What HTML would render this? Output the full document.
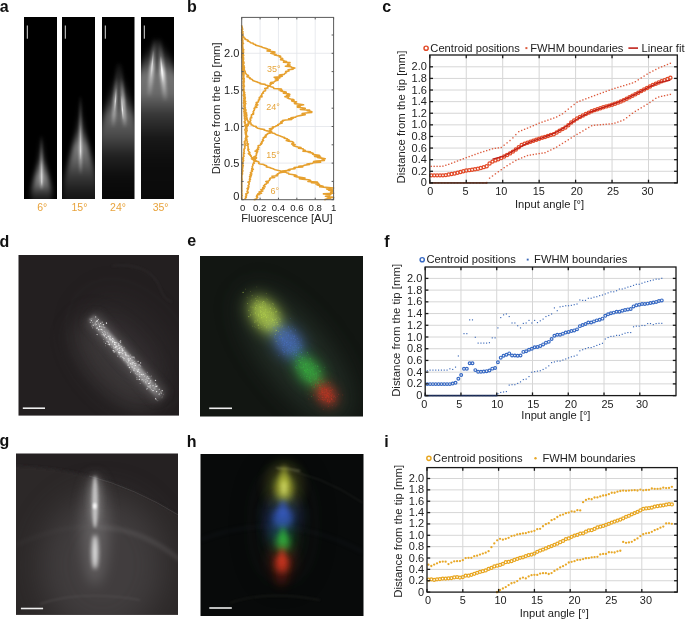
<!DOCTYPE html>
<html><head><meta charset="utf-8"><title>Figure</title>
<style>html,body{margin:0;padding:0;background:#fff;} svg{display:block;}</style></head>
<body><svg width="685" height="620" viewBox="0 0 685 620">
<defs><filter id="b0_6" filterUnits="userSpaceOnUse" x="0" y="0" width="685" height="620"><feGaussianBlur stdDeviation="0.6"/></filter><filter id="b1" filterUnits="userSpaceOnUse" x="0" y="0" width="685" height="620"><feGaussianBlur stdDeviation="1"/></filter><filter id="b1_5" filterUnits="userSpaceOnUse" x="0" y="0" width="685" height="620"><feGaussianBlur stdDeviation="1.5"/></filter><filter id="b2" filterUnits="userSpaceOnUse" x="0" y="0" width="685" height="620"><feGaussianBlur stdDeviation="2"/></filter><filter id="b2_5" filterUnits="userSpaceOnUse" x="0" y="0" width="685" height="620"><feGaussianBlur stdDeviation="2.5"/></filter><filter id="b3" filterUnits="userSpaceOnUse" x="0" y="0" width="685" height="620"><feGaussianBlur stdDeviation="3"/></filter><filter id="b4" filterUnits="userSpaceOnUse" x="0" y="0" width="685" height="620"><feGaussianBlur stdDeviation="4"/></filter><filter id="b5" filterUnits="userSpaceOnUse" x="0" y="0" width="685" height="620"><feGaussianBlur stdDeviation="5"/></filter><filter id="b6" filterUnits="userSpaceOnUse" x="0" y="0" width="685" height="620"><feGaussianBlur stdDeviation="6"/></filter><filter id="b8" filterUnits="userSpaceOnUse" x="0" y="0" width="685" height="620"><feGaussianBlur stdDeviation="8"/></filter><filter id="b10" filterUnits="userSpaceOnUse" x="0" y="0" width="685" height="620"><feGaussianBlur stdDeviation="10"/></filter><filter id="b12" filterUnits="userSpaceOnUse" x="0" y="0" width="685" height="620"><feGaussianBlur stdDeviation="12"/></filter><filter id="b14" filterUnits="userSpaceOnUse" x="0" y="0" width="685" height="620"><feGaussianBlur stdDeviation="14"/></filter><filter id="b16" filterUnits="userSpaceOnUse" x="0" y="0" width="685" height="620"><feGaussianBlur stdDeviation="16"/></filter><filter id="b20" filterUnits="userSpaceOnUse" x="0" y="0" width="685" height="620"><feGaussianBlur stdDeviation="20"/></filter><clipPath id="ca0"><rect x="24" y="17" width="33" height="182"/></clipPath><clipPath id="ca1"><rect x="62" y="17" width="33" height="182"/></clipPath><clipPath id="ca2"><rect x="102" y="17" width="32.5" height="182"/></clipPath><clipPath id="ca3"><rect x="141" y="17" width="33" height="182"/></clipPath><linearGradient id="gh0" gradientUnits="userSpaceOnUse" x1="0" y1="132" x2="0" y2="199"><stop offset="0" stop-color="#fff" stop-opacity="0"/><stop offset="0.3" stop-color="#fff" stop-opacity="0.2"/><stop offset="0.5" stop-color="#fff" stop-opacity="0.42"/><stop offset="0.68" stop-color="#fff" stop-opacity="0.55"/><stop offset="0.8" stop-color="#fff" stop-opacity="0.42"/><stop offset="0.9" stop-color="#fff" stop-opacity="0.22"/><stop offset="1" stop-color="#fff" stop-opacity="0.1"/></linearGradient><linearGradient id="garm0_0" gradientUnits="userSpaceOnUse" x1="41.4" y1="135" x2="41.6" y2="190"><stop offset="0" stop-color="#fff" stop-opacity="0"/><stop offset="0.3" stop-color="#fff" stop-opacity="0.25"/><stop offset="0.55" stop-color="#fff" stop-opacity="0.45"/><stop offset="0.75" stop-color="#fff" stop-opacity="0.55"/><stop offset="0.92" stop-color="#fff" stop-opacity="0.35"/><stop offset="1" stop-color="#fff" stop-opacity="0"/></linearGradient><filter id="b1_2" filterUnits="userSpaceOnUse" x="0" y="0" width="685" height="620"><feGaussianBlur stdDeviation="1.2"/></filter><linearGradient id="garm0_1" gradientUnits="userSpaceOnUse" x1="41.6" y1="160" x2="41.8" y2="186"><stop offset="0" stop-color="#fff" stop-opacity="0"/><stop offset="0.5" stop-color="#fff" stop-opacity="0.35"/><stop offset="0.85" stop-color="#fff" stop-opacity="0.5"/><stop offset="1" stop-color="#fff" stop-opacity="0"/></linearGradient><linearGradient id="gh1" gradientUnits="userSpaceOnUse" x1="0" y1="95" x2="0" y2="199"><stop offset="0" stop-color="#fff" stop-opacity="0"/><stop offset="0.2" stop-color="#fff" stop-opacity="0.08"/><stop offset="0.35" stop-color="#fff" stop-opacity="0.3"/><stop offset="0.5" stop-color="#fff" stop-opacity="0.5"/><stop offset="0.62" stop-color="#fff" stop-opacity="0.4"/><stop offset="0.78" stop-color="#fff" stop-opacity="0.22"/><stop offset="0.9" stop-color="#fff" stop-opacity="0.13"/><stop offset="1" stop-color="#fff" stop-opacity="0.08"/></linearGradient><linearGradient id="garm1_0" gradientUnits="userSpaceOnUse" x1="80.4" y1="95" x2="80.6" y2="175"><stop offset="0" stop-color="#fff" stop-opacity="0"/><stop offset="0.35" stop-color="#fff" stop-opacity="0.3"/><stop offset="0.6" stop-color="#fff" stop-opacity="0.5"/><stop offset="0.72" stop-color="#fff" stop-opacity="0.55"/><stop offset="0.85" stop-color="#fff" stop-opacity="0.3"/><stop offset="1" stop-color="#fff" stop-opacity="0"/></linearGradient><linearGradient id="garm1_1" gradientUnits="userSpaceOnUse" x1="80.4" y1="125" x2="80.6" y2="160"><stop offset="0" stop-color="#fff" stop-opacity="0"/><stop offset="0.55" stop-color="#fff" stop-opacity="0.4"/><stop offset="0.75" stop-color="#fff" stop-opacity="0.5"/><stop offset="1" stop-color="#fff" stop-opacity="0"/></linearGradient><linearGradient id="gh2" gradientUnits="userSpaceOnUse" x1="0" y1="55" x2="0" y2="199"><stop offset="0" stop-color="#fff" stop-opacity="0"/><stop offset="0.15" stop-color="#fff" stop-opacity="0.03"/><stop offset="0.3" stop-color="#fff" stop-opacity="0.22"/><stop offset="0.42" stop-color="#fff" stop-opacity="0.4"/><stop offset="0.55" stop-color="#fff" stop-opacity="0.3"/><stop offset="0.7" stop-color="#fff" stop-opacity="0.13"/><stop offset="0.85" stop-color="#fff" stop-opacity="0.05"/><stop offset="1" stop-color="#fff" stop-opacity="0.03"/></linearGradient><linearGradient id="garm2_0" gradientUnits="userSpaceOnUse" x1="118" y1="62" x2="113" y2="128"><stop offset="0" stop-color="#fff" stop-opacity="0"/><stop offset="0.25" stop-color="#fff" stop-opacity="0.15"/><stop offset="0.55" stop-color="#fff" stop-opacity="0.6"/><stop offset="0.8" stop-color="#fff" stop-opacity="0.45"/><stop offset="1" stop-color="#fff" stop-opacity="0"/></linearGradient><filter id="b1_4" filterUnits="userSpaceOnUse" x="0" y="0" width="685" height="620"><feGaussianBlur stdDeviation="1.4"/></filter><linearGradient id="garm2_1" gradientUnits="userSpaceOnUse" x1="120" y1="62" x2="125" y2="128"><stop offset="0" stop-color="#fff" stop-opacity="0"/><stop offset="0.25" stop-color="#fff" stop-opacity="0.15"/><stop offset="0.6" stop-color="#fff" stop-opacity="0.75"/><stop offset="0.85" stop-color="#fff" stop-opacity="0.45"/><stop offset="1" stop-color="#fff" stop-opacity="0"/></linearGradient><linearGradient id="garm2_2" gradientUnits="userSpaceOnUse" x1="121.3" y1="95" x2="123.2" y2="120"><stop offset="0" stop-color="#fff" stop-opacity="0"/><stop offset="0.6" stop-color="#fff" stop-opacity="0.8"/><stop offset="1" stop-color="#fff" stop-opacity="0"/></linearGradient><linearGradient id="garm2_3" gradientUnits="userSpaceOnUse" x1="116.3" y1="88" x2="114.6" y2="112"><stop offset="0" stop-color="#fff" stop-opacity="0"/><stop offset="0.55" stop-color="#fff" stop-opacity="0.6"/><stop offset="1" stop-color="#fff" stop-opacity="0"/></linearGradient><linearGradient id="gh3" gradientUnits="userSpaceOnUse" x1="0" y1="22" x2="0" y2="199"><stop offset="0" stop-color="#fff" stop-opacity="0"/><stop offset="0.1" stop-color="#fff" stop-opacity="0.02"/><stop offset="0.2" stop-color="#fff" stop-opacity="0.18"/><stop offset="0.3" stop-color="#fff" stop-opacity="0.45"/><stop offset="0.4" stop-color="#fff" stop-opacity="0.42"/><stop offset="0.52" stop-color="#fff" stop-opacity="0.22"/><stop offset="0.66" stop-color="#fff" stop-opacity="0.09"/><stop offset="0.8" stop-color="#fff" stop-opacity="0.05"/><stop offset="1" stop-color="#fff" stop-opacity="0.04"/></linearGradient><linearGradient id="garm3_0" gradientUnits="userSpaceOnUse" x1="155" y1="38" x2="149" y2="98"><stop offset="0" stop-color="#fff" stop-opacity="0"/><stop offset="0.3" stop-color="#fff" stop-opacity="0.35"/><stop offset="0.5" stop-color="#fff" stop-opacity="0.7"/><stop offset="0.72" stop-color="#fff" stop-opacity="0.4"/><stop offset="1" stop-color="#fff" stop-opacity="0"/></linearGradient><linearGradient id="garm3_1" gradientUnits="userSpaceOnUse" x1="159" y1="38" x2="165.5" y2="102"><stop offset="0" stop-color="#fff" stop-opacity="0"/><stop offset="0.3" stop-color="#fff" stop-opacity="0.3"/><stop offset="0.55" stop-color="#fff" stop-opacity="0.9"/><stop offset="0.75" stop-color="#fff" stop-opacity="0.45"/><stop offset="1" stop-color="#fff" stop-opacity="0"/></linearGradient><linearGradient id="garm3_2" gradientUnits="userSpaceOnUse" x1="160.6" y1="56" x2="163" y2="82"><stop offset="0" stop-color="#fff" stop-opacity="0"/><stop offset="0.55" stop-color="#fff" stop-opacity="0.9"/><stop offset="1" stop-color="#fff" stop-opacity="0"/></linearGradient><linearGradient id="garm3_3" gradientUnits="userSpaceOnUse" x1="153.5" y1="50" x2="151" y2="78"><stop offset="0" stop-color="#fff" stop-opacity="0"/><stop offset="0.5" stop-color="#fff" stop-opacity="0.6"/><stop offset="1" stop-color="#fff" stop-opacity="0"/></linearGradient><filter id="b0_8" filterUnits="userSpaceOnUse" x="0" y="0" width="685" height="620"><feGaussianBlur stdDeviation="0.8"/></filter><linearGradient id="dstreak" gradientUnits="userSpaceOnUse" x1="91" y1="317" x2="162" y2="398"><stop offset="0" stop-color="#fff" stop-opacity="0.3"/><stop offset="0.3" stop-color="#fff" stop-opacity="0.8"/><stop offset="0.6" stop-color="#fff" stop-opacity="0.85"/><stop offset="0.88" stop-color="#fff" stop-opacity="0.55"/><stop offset="1" stop-color="#fff" stop-opacity="0.1"/></linearGradient><clipPath id="cpd"><rect x="18.5" y="255" width="160.5" height="160.60000000000002"/></clipPath><clipPath id="cpe"><rect x="200" y="256" width="163" height="160.5"/></clipPath><filter id="b7" filterUnits="userSpaceOnUse" x="0" y="0" width="685" height="620"><feGaussianBlur stdDeviation="7"/></filter><filter id="b1_8" filterUnits="userSpaceOnUse" x="0" y="0" width="685" height="620"><feGaussianBlur stdDeviation="1.8"/></filter><clipPath id="cpg"><rect x="16" y="453.5" width="162" height="161.20000000000005"/></clipPath><clipPath id="cph"><rect x="200.5" y="454" width="163.0" height="162"/></clipPath></defs>
<rect width="685" height="620" fill="#fff"/>
<rect x="24" y="17" width="33" height="182" fill="#000"/>
<rect x="62" y="17" width="33" height="182" fill="#000"/>
<rect x="102" y="17" width="32.5" height="182" fill="#000"/>
<rect x="141" y="17" width="33" height="182" fill="#000"/>
<g clip-path="url(#ca0)"><polygon points="41.5,132 44,160 52,192 52,205 31,205 31,192 39,160" fill="url(#gh0)" filter="url(#b2_5)"/><path d="M41.4,135 L41.6,190" stroke="url(#garm0_0)" stroke-width="2.6" fill="none" stroke-linecap="round" filter="url(#b1_2)"/><path d="M41.6,160 L41.8,186" stroke="url(#garm0_1)" stroke-width="1.2" fill="none" stroke-linecap="round" filter="url(#b0_6)"/></g>
<g clip-path="url(#ca1)"><polygon points="80.5,95 84,130 97,180 100,205 61,205 64,180 77,130" fill="url(#gh1)" filter="url(#b2_5)"/><path d="M80.4,95 L80.6,175" stroke="url(#garm1_0)" stroke-width="3" fill="none" stroke-linecap="round" filter="url(#b1_2)"/><path d="M80.4,125 L80.6,160" stroke="url(#garm1_1)" stroke-width="1.3" fill="none" stroke-linecap="round" filter="url(#b0_6)"/></g>
<g clip-path="url(#ca2)"><polygon points="119,62 128,95 140,135 145,215 93,215 98,135 110,95" fill="url(#gh2)" filter="url(#b3)"/><path d="M118,62 L113,128" stroke="url(#garm2_0)" stroke-width="3.5" fill="none" stroke-linecap="round" filter="url(#b1_4)"/><path d="M120,62 L125,128" stroke="url(#garm2_1)" stroke-width="3.5" fill="none" stroke-linecap="round" filter="url(#b1_4)"/><path d="M121.3,95 L123.2,120" stroke="url(#garm2_2)" stroke-width="1.4" fill="none" stroke-linecap="round" filter="url(#b0_6)"/><path d="M116.3,88 L114.6,112" stroke="url(#garm2_3)" stroke-width="1.3" fill="none" stroke-linecap="round" filter="url(#b0_6)"/></g>
<g clip-path="url(#ca3)"><polygon points="157,36 170,58 182,85 185,215 130,215 133,85 144,58" fill="url(#gh3)" filter="url(#b3)"/><path d="M155,38 L149,98" stroke="url(#garm3_0)" stroke-width="4.5" fill="none" stroke-linecap="round" filter="url(#b1_5)"/><path d="M159,38 L165.5,102" stroke="url(#garm3_1)" stroke-width="4.5" fill="none" stroke-linecap="round" filter="url(#b1_5)"/><path d="M160.6,56 L163,82" stroke="url(#garm3_2)" stroke-width="1.5" fill="none" stroke-linecap="round" filter="url(#b0_6)"/><path d="M153.5,50 L151,78" stroke="url(#garm3_3)" stroke-width="1.3" fill="none" stroke-linecap="round" filter="url(#b0_6)"/></g>
<line x1="27.3" y1="25.5" x2="27.3" y2="38.7" stroke="#ddd" stroke-width="1"/>
<line x1="65.3" y1="25.5" x2="65.3" y2="38.7" stroke="#ddd" stroke-width="1"/>
<line x1="105.3" y1="25.5" x2="105.3" y2="38.7" stroke="#ddd" stroke-width="1"/>
<line x1="144.3" y1="25.5" x2="144.3" y2="38.7" stroke="#ddd" stroke-width="1"/>
<text x="42.3" y="210.5" text-anchor="middle" style="font-family:'Liberation Sans',Arial,sans-serif;font-size:10.5px" fill="#e8a33c">6°</text>
<text x="79.4" y="210.5" text-anchor="middle" style="font-family:'Liberation Sans',Arial,sans-serif;font-size:10.5px" fill="#e8a33c">15°</text>
<text x="118" y="210.5" text-anchor="middle" style="font-family:'Liberation Sans',Arial,sans-serif;font-size:10.5px" fill="#e8a33c">24°</text>
<text x="160.6" y="210.5" text-anchor="middle" style="font-family:'Liberation Sans',Arial,sans-serif;font-size:10.5px" fill="#e8a33c">35°</text>
<text x="-0.3" y="11.7" style="font-family:'Liberation Sans',Arial,sans-serif;font-weight:bold;font-size:16px" fill="#111">a</text>
<rect x="241.7" y="17.4" width="91.90000000000003" height="182.29999999999998" fill="#fff"/>
<line x1="260.08" y1="17.4" x2="260.08" y2="199.7" stroke="#e2e4ea" stroke-width="0.8"/>
<line x1="278.46" y1="17.4" x2="278.46" y2="199.7" stroke="#e2e4ea" stroke-width="0.8"/>
<line x1="296.84" y1="17.4" x2="296.84" y2="199.7" stroke="#e2e4ea" stroke-width="0.8"/>
<line x1="315.22" y1="17.4" x2="315.22" y2="199.7" stroke="#e2e4ea" stroke-width="0.8"/>
<line x1="241.7" y1="163.10" x2="333.6" y2="163.10" stroke="#e2e4ea" stroke-width="0.8"/>
<line x1="241.7" y1="126.50" x2="333.6" y2="126.50" stroke="#e2e4ea" stroke-width="0.8"/>
<line x1="241.7" y1="89.90" x2="333.6" y2="89.90" stroke="#e2e4ea" stroke-width="0.8"/>
<line x1="241.7" y1="53.30" x2="333.6" y2="53.30" stroke="#e2e4ea" stroke-width="0.8"/>
<polyline points="241.70,199.70 241.81,199.11 241.70,198.53 241.70,197.94 241.70,197.36 241.70,196.77 241.72,196.19 242.19,195.60 241.70,195.02 241.70,194.43 241.88,193.84 241.83,193.26 241.74,192.67 241.70,192.09 241.70,191.50 241.96,190.92 241.70,190.33 241.70,189.74 241.70,189.16 241.70,188.57 241.70,187.99 241.70,187.40 241.70,186.82 241.80,186.23 241.76,185.65 241.70,185.06 241.70,184.47 241.70,183.89 241.70,183.30 241.74,182.72 241.70,182.13 241.70,181.55 241.70,180.96 241.70,180.38 242.09,179.79 241.70,179.20 241.70,178.62 242.03,178.03 241.70,177.45 241.73,176.86 241.86,176.28 241.91,175.69 241.70,175.10 242.00,174.52 242.53,173.93 241.70,173.35 242.44,172.76 242.21,172.18 241.97,171.59 242.99,171.01 242.61,170.42 241.90,169.83 242.44,169.25 242.68,168.66 242.43,168.08 242.83,167.49 242.58,166.91 242.92,166.32 243.28,165.74 242.48,165.15 242.88,164.56 242.67,163.98 242.95,163.39 242.47,162.81 242.76,162.22 242.97,161.64 243.46,161.05 243.62,160.46 242.65,159.88 242.92,159.29 243.56,158.71 242.51,158.12 243.20,157.54 243.40,156.95 244.02,156.37 243.83,155.78 243.47,155.19 243.55,154.61 243.65,154.02 244.49,153.44 243.61,152.85 243.85,152.27 244.21,151.68 244.07,151.10 244.11,150.51 243.78,149.92 244.34,149.34 244.22,148.75 245.02,148.17 244.86,147.58 244.63,147.00 245.02,146.41 244.63,145.82 245.35,145.24 244.93,144.65 245.28,144.07 244.48,143.48 245.32,142.90 244.43,142.31 244.33,141.73 245.23,141.14 245.15,140.55 245.60,139.97 246.68,139.38 245.27,138.80 245.44,138.21 245.92,137.63 246.13,137.04 245.88,136.46 245.94,135.87 246.46,135.28 246.45,134.70 245.74,134.11 246.29,133.53 246.42,132.94 245.94,132.36 246.69,131.77 246.18,131.18 247.20,130.60 247.05,130.01 246.89,129.43 246.78,128.84 246.93,128.26 246.01,127.67 246.54,127.09 247.41,126.50 246.32,125.91 248.19,125.33 246.78,124.74 248.67,124.16 248.01,123.57 249.20,122.99 248.24,122.40 248.35,121.82 250.27,121.23 250.66,120.64 250.82,120.06 250.12,119.47 250.44,118.89 250.18,118.30 251.77,117.72 250.96,117.13 251.54,116.54 251.29,115.96 251.66,115.37 251.46,114.79 253.47,114.20 252.74,113.62 253.79,113.03 253.37,112.45 253.12,111.86 253.64,111.27 253.72,110.69 254.39,110.10 254.36,109.52 254.67,108.93 254.09,108.35 254.78,107.76 256.97,107.18 255.39,106.59 255.34,106.00 256.71,105.42 257.84,104.83 255.75,104.25 257.03,103.66 256.93,103.08 256.22,102.49 258.35,101.90 258.32,101.32 258.72,100.73 258.31,100.15 259.70,99.56 259.13,98.98 259.80,98.39 259.23,97.81 259.43,97.22 262.15,96.63 260.72,96.05 261.81,95.46 261.81,94.88 261.73,94.29 261.98,93.71 263.43,93.12 262.81,92.54 263.28,91.95 263.78,91.36 265.50,90.78 265.51,90.19 265.71,89.61 265.20,89.02 264.80,88.44 267.91,87.85 267.60,87.26 267.71,86.68 269.02,86.09 269.83,85.51 270.41,84.92 271.05,84.34 270.02,83.75 273.29,83.17 270.58,82.58 274.10,81.99 274.43,81.41 275.75,80.82 277.95,80.24 278.24,79.65 275.33,79.07 275.31,78.48 279.76,77.90 274.11,77.31 280.13,76.72 282.24,76.14 279.16,75.55 279.46,74.97 283.99,74.38 284.60,73.80 285.07,73.21 286.50,72.62 285.90,72.04 285.67,71.45 289.00,70.87 288.49,70.28 288.17,69.70 293.12,69.11 293.01,68.53 294.87,67.94 291.33,67.35 291.13,66.77 285.39,66.18 289.02,65.60 290.15,65.01 287.54,64.43 288.71,63.84 287.87,63.26 290.02,62.67 283.46,62.08 286.56,61.50 284.19,60.91 283.58,60.33 280.55,59.74 281.41,59.16 282.67,58.57 280.75,57.98 280.37,57.40 279.18,56.81 280.70,56.23 278.32,55.64 274.54,55.06 276.11,54.47 273.59,53.89 270.84,53.30 273.55,52.71 274.96,52.13 272.22,51.54 267.03,50.96 268.91,50.37 270.35,49.79 268.14,49.20 266.47,48.62 264.62,48.03 262.88,47.44 261.76,46.86 259.65,46.27 257.78,45.69 255.47,45.10 255.42,44.52 253.24,43.93 253.21,43.34 250.46,42.76 250.18,42.17 249.23,41.59 247.46,41.00 248.30,40.42 246.88,39.83 245.05,39.25 245.22,38.66 244.62,38.07 242.89,37.49 243.73,36.90 243.17,36.32 242.84,35.73 242.32,35.15 242.58,34.56 242.56,33.98 243.04,33.39 242.64,32.80 242.45,32.22 242.98,31.63 242.12,31.05 242.12,30.46 241.70,29.88 242.75,29.29 242.46,28.70 242.38,28.12 242.23,27.53 241.96,26.95 241.94,26.36 241.71,25.78 241.70,25.19" fill="none" stroke="#e6a02e" stroke-width="1.6" stroke-linejoin="round"/>
<polyline points="245.43,199.70 245.44,199.11 245.08,198.53 245.75,197.94 246.32,197.36 245.53,196.77 246.07,196.19 246.61,195.60 245.85,195.02 246.62,194.43 245.93,193.84 247.37,193.26 248.12,192.67 248.11,192.09 247.05,191.50 247.69,190.92 247.49,190.33 247.61,189.74 248.21,189.16 247.08,188.57 248.52,187.99 248.03,187.40 248.98,186.82 248.42,186.23 248.06,185.65 248.73,185.06 249.13,184.47 248.85,183.89 249.24,183.30 248.78,182.72 247.95,182.13 249.88,181.55 249.89,180.96 249.68,180.38 249.40,179.79 250.49,179.20 249.70,178.62 249.67,178.03 250.12,177.45 250.94,176.86 249.53,176.28 251.38,175.69 251.08,175.10 250.17,174.52 251.82,173.93 251.07,173.35 250.41,172.76 251.03,172.18 252.13,171.59 252.43,171.01 251.48,170.42 252.17,169.83 253.38,169.25 251.71,168.66 252.52,168.08 252.39,167.49 252.16,166.91 252.32,166.32 252.86,165.74 253.00,165.15 252.74,164.56 252.92,163.98 254.28,163.39 253.80,162.81 253.58,162.22 254.87,161.64 254.58,161.05 256.01,160.46 253.86,159.88 255.26,159.29 254.57,158.71 256.41,158.12 256.46,157.54 253.80,156.95 254.73,156.37 256.17,155.78 256.44,155.19 256.57,154.61 256.10,154.02 256.69,153.44 257.02,152.85 256.59,152.27 257.67,151.68 255.12,151.10 257.68,150.51 256.46,149.92 258.46,149.34 257.77,148.75 257.52,148.17 258.94,147.58 258.13,147.00 258.44,146.41 258.16,145.82 259.87,145.24 260.68,144.65 261.49,144.07 260.73,143.48 262.18,142.90 261.52,142.31 261.74,141.73 262.71,141.14 263.52,140.55 262.45,139.97 262.87,139.38 263.27,138.80 263.77,138.21 263.32,137.63 265.86,137.04 264.85,136.46 266.30,135.87 265.39,135.28 266.47,134.70 267.76,134.11 267.34,133.53 270.69,132.94 269.28,132.36 271.48,131.77 271.03,131.18 269.56,130.60 270.41,130.01 271.94,129.43 269.38,128.84 272.84,128.26 273.40,127.67 272.32,127.09 275.47,126.50 275.84,125.91 278.33,125.33 277.72,124.74 278.72,124.16 280.46,123.57 282.23,122.99 280.51,122.40 280.96,121.82 283.04,121.23 282.36,120.64 285.69,120.06 291.78,119.47 288.56,118.89 293.28,118.30 290.98,117.72 295.78,117.13 296.10,116.54 298.07,115.96 301.07,115.37 305.23,114.79 304.07,114.20 302.12,113.62 305.76,113.03 311.67,112.45 311.85,111.86 310.11,111.27 307.21,110.69 309.61,110.10 300.36,109.52 303.39,108.93 305.21,108.35 301.70,107.76 297.41,107.18 300.31,106.59 297.17,106.00 299.55,105.42 303.56,104.83 300.06,104.25 294.68,103.66 294.39,103.08 294.54,102.49 296.51,101.90 292.17,101.32 291.70,100.73 294.10,100.15 293.46,99.56 290.56,98.98 288.61,98.39 287.26,97.81 288.23,97.22 284.92,96.63 289.64,96.05 286.62,95.46 287.97,94.88 289.75,94.29 287.95,93.71 283.44,93.12 286.23,92.54 286.10,91.95 282.39,91.36 280.39,90.78 282.26,90.19 278.67,89.61 281.39,89.02 273.79,88.44 273.75,87.85 272.96,87.26 271.07,86.68 269.59,86.09 267.74,85.51 265.48,84.92 265.18,84.34 260.11,83.75 260.57,83.17 258.22,82.58 257.25,81.99 255.60,81.41 253.38,80.82 252.57,80.24 252.53,79.65 251.19,79.07 249.52,78.48 250.10,77.90 249.34,77.31 246.93,76.72 247.57,76.14 248.42,75.55 247.17,74.97 246.56,74.38 246.02,73.80 245.54,73.21 245.38,72.62 244.90,72.04 245.23,71.45 244.58,70.87 244.44,70.28 243.97,69.70 244.37,69.11 243.88,68.53 244.07,67.94 244.48,67.35 244.08,66.77 244.00,66.18 243.81,65.60 243.43,65.01 243.46,64.43 243.35,63.84 243.77,63.26 242.97,62.67 243.96,62.08 243.38,61.50 243.03,60.91 243.11,60.33 243.00,59.74 243.32,59.16 242.93,58.57 243.67,57.98 242.85,57.40 242.21,56.81 242.81,56.23 242.26,55.64 243.04,55.06 243.46,54.47 243.26,53.89 242.43,53.30 242.64,52.71 243.71,52.13 243.02,51.54 242.86,50.96 243.26,50.37 243.79,49.79 243.29,49.20 242.80,48.62 242.86,48.03 242.93,47.44 242.42,46.86 242.24,46.27 242.63,45.69 242.22,45.10 242.55,44.52 242.59,43.93 243.46,43.34 242.18,42.76 242.46,42.17 242.42,41.59 242.63,41.00 242.85,40.42 242.24,39.83 242.09,39.25 241.75,38.66 242.01,38.07 242.56,37.49 242.35,36.90 241.90,36.32 242.15,35.73 242.29,35.15 242.43,34.56 242.01,33.98 242.13,33.39 241.70,32.80 241.75,32.22 242.79,31.63" fill="none" stroke="#e6a02e" stroke-width="1.6" stroke-linejoin="round"/>
<polyline points="253.70,199.70 256.04,199.11 256.72,198.53 256.91,197.94 257.60,197.36 256.34,196.77 257.33,196.19 256.69,195.60 257.05,195.02 259.55,194.43 257.86,193.84 261.56,193.26 259.98,192.67 258.98,192.09 261.12,191.50 262.84,190.92 262.01,190.33 260.76,189.74 262.72,189.16 264.13,188.57 262.67,187.99 262.78,187.40 265.03,186.82 264.81,186.23 263.62,185.65 264.79,185.06 264.79,184.47 266.34,183.89 266.54,183.30 268.12,182.72 268.04,182.13 265.85,181.55 268.52,180.96 269.48,180.38 269.40,179.79 270.16,179.20 269.74,178.62 270.36,178.03 274.63,177.45 272.43,176.86 272.04,176.28 277.57,175.69 276.24,175.10 277.97,174.52 277.46,173.93 278.67,173.35 280.03,172.76 282.84,172.18 285.76,171.59 281.99,171.01 289.90,170.42 288.13,169.83 290.00,169.25 295.02,168.66 295.28,168.08 294.03,167.49 302.70,166.91 298.74,166.32 302.92,165.74 304.70,165.15 309.38,164.56 306.94,163.98 312.32,163.39 313.09,162.81 320.63,162.22 313.56,161.64 316.45,161.05 324.39,160.46 322.04,159.88 322.65,159.29 325.24,158.71 321.49,158.12 317.38,157.54 320.63,156.95 314.62,156.37 319.79,155.78 319.04,155.19 313.52,154.61 312.48,154.02 313.49,153.44 311.76,152.85 308.03,152.27 310.44,151.68 302.96,151.10 305.43,150.51 304.19,149.92 303.18,149.34 303.14,148.75 298.50,148.17 301.06,147.58 298.12,147.00 295.85,146.41 293.44,145.82 292.96,145.24 295.12,144.65 291.68,144.07 292.77,143.48 293.75,142.90 292.79,142.31 292.84,141.73 288.59,141.14 286.32,140.55 289.13,139.97 287.00,139.38 287.37,138.80 284.18,138.21 284.75,137.63 282.83,137.04 281.28,136.46 279.61,135.87 278.11,135.28 276.54,134.70 275.20,134.11 274.88,133.53 272.06,132.94 271.99,132.36 269.47,131.77 269.03,131.18 265.95,130.60 263.96,130.01 264.39,129.43 260.25,128.84 257.85,128.26 256.91,127.67 255.78,127.09 256.19,126.50 253.24,125.91 252.91,125.33 250.99,124.74 251.27,124.16 250.85,123.57 250.92,122.99 248.79,122.40 248.94,121.82 248.24,121.23 247.26,120.64 247.57,120.06 247.20,119.47 245.86,118.89 247.16,118.30 246.88,117.72 246.13,117.13 245.75,116.54 246.92,115.96 246.25,115.37 246.62,114.79 246.69,114.20 245.66,113.62 246.60,113.03 245.67,112.45 245.70,111.86 245.62,111.27 245.60,110.69 246.07,110.10 245.53,109.52 245.33,108.93 245.21,108.35 245.44,107.76 244.79,107.18 244.91,106.59 245.05,106.00 244.47,105.42 244.89,104.83 244.61,104.25 245.79,103.66 245.44,103.08 244.99,102.49 244.73,101.90 245.72,101.32 244.83,100.73 244.60,100.15 244.74,99.56 244.60,98.98 245.17,98.39 244.49,97.81 245.30,97.22 244.02,96.63 244.69,96.05 243.90,95.46 245.12,94.88 244.13,94.29 244.21,93.71 244.61,93.12 244.72,92.54 243.64,91.95 243.94,91.36 243.44,90.78 244.08,90.19 243.93,89.61 243.79,89.02 243.61,88.44 243.70,87.85 243.51,87.26 244.02,86.68 244.41,86.09 242.91,85.51 243.64,84.92 243.52,84.34 243.82,83.75 243.17,83.17 243.51,82.58 243.08,81.99 243.79,81.41 243.52,80.82 243.39,80.24 243.60,79.65 243.32,79.07 242.76,78.48 243.64,77.90 243.49,77.31 243.22,76.72 243.75,76.14 243.82,75.55 242.85,74.97 242.96,74.38 243.87,73.80 243.98,73.21 242.92,72.62 242.72,72.04 242.93,71.45 242.94,70.87 242.50,70.28 242.99,69.70 242.59,69.11 242.60,68.53 243.45,67.94 242.86,67.35 243.01,66.77 243.44,66.18 243.34,65.60 242.85,65.01 242.99,64.43 242.62,63.84 243.64,63.26 243.18,62.67 242.45,62.08 242.88,61.50 243.15,60.91 243.03,60.33 243.56,59.74 243.37,59.16 242.57,58.57 242.73,57.98 242.24,57.40 242.83,56.81 242.77,56.23 243.77,55.64 242.69,55.06 241.83,54.47 242.37,53.89 242.66,53.30 242.10,52.71 242.24,52.13 242.42,51.54 242.68,50.96 242.46,50.37 242.16,49.79 242.80,49.20 242.26,48.62 242.29,48.03 241.90,47.44 242.11,46.86 242.68,46.27 241.75,45.69 242.33,45.10 242.62,44.52 242.18,43.93 242.40,43.34 241.86,42.76 242.77,42.17 242.67,41.59 242.32,41.00 241.70,40.42 241.80,39.83 242.55,39.25 242.81,38.66" fill="none" stroke="#e6a02e" stroke-width="1.6" stroke-linejoin="round"/>
<polyline points="324.29,199.70 326.24,199.11 330.27,198.53 327.47,197.94 333.60,197.36 328.81,196.77 325.43,196.19 329.44,195.60 329.59,195.02 330.83,194.43 323.42,193.84 333.60,193.26 332.20,192.67 330.64,192.09 332.04,191.50 333.09,190.92 328.68,190.33 332.37,189.74 326.96,189.16 326.68,188.57 333.55,187.99 325.90,187.40 319.67,186.82 323.13,186.23 320.31,185.65 317.30,185.06 319.36,184.47 315.83,183.89 318.57,183.30 311.45,182.72 317.41,182.13 307.93,181.55 310.90,180.96 310.29,180.38 308.59,179.79 302.57,179.20 299.37,178.62 305.04,178.03 301.85,177.45 297.08,176.86 294.33,176.28 296.90,175.69 295.31,175.10 292.15,174.52 288.62,173.93 288.70,173.35 286.43,172.76 285.77,172.18 280.52,171.59 280.79,171.01 278.49,170.42 275.25,169.83 274.07,169.25 273.10,168.66 270.65,168.08 269.74,167.49 266.32,166.91 266.60,166.32 266.66,165.74 264.34,165.15 263.81,164.56 260.28,163.98 258.73,163.39 259.02,162.81 258.92,162.22 258.17,161.64 255.36,161.05 253.52,160.46 254.23,159.88 252.52,159.29 251.43,158.71 253.84,158.12 251.76,157.54 251.53,156.95 250.85,156.37 251.09,155.78 249.96,155.19 250.34,154.61 248.80,154.02 248.42,153.44 249.89,152.85 249.73,152.27 248.98,151.68 248.63,151.10 248.41,150.51 247.75,149.92 248.91,149.34 248.02,148.75 248.16,148.17 248.01,147.58 248.29,147.00 247.92,146.41 247.95,145.82 246.83,145.24 247.94,144.65 248.47,144.07 246.94,143.48 247.06,142.90 247.25,142.31 247.47,141.73 247.21,141.14 245.95,140.55 246.97,139.97 246.02,139.38 246.12,138.80 246.74,138.21 246.06,137.63 246.70,137.04 247.79,136.46 246.52,135.87 246.40,135.28 245.63,134.70 245.56,134.11 245.29,133.53 245.52,132.94 245.21,132.36 245.39,131.77 245.56,131.18 245.15,130.60 244.91,130.01 244.90,129.43 245.74,128.84 245.52,128.26 245.94,127.67 245.91,127.09 245.21,126.50 245.66,125.91 244.62,125.33 246.35,124.74 245.79,124.16 245.09,123.57 244.61,122.99 245.30,122.40 244.20,121.82 244.73,121.23 245.36,120.64 245.01,120.06 244.71,119.47 245.34,118.89 244.38,118.30 244.96,117.72 244.56,117.13 244.36,116.54 244.93,115.96 244.22,115.37 245.51,114.79 244.34,114.20 245.47,113.62 244.04,113.03 244.77,112.45 243.92,111.86 243.84,111.27 244.49,110.69 244.71,110.10 243.81,109.52 244.90,108.93 243.99,108.35 244.42,107.76 244.48,107.18 244.56,106.59 243.47,106.00 245.00,105.42 244.49,104.83 244.03,104.25 243.75,103.66 243.43,103.08 243.56,102.49 244.38,101.90 243.98,101.32 243.61,100.73 243.86,100.15 244.76,99.56 243.91,98.98 243.78,98.39 244.61,97.81 244.20,97.22 244.00,96.63 243.77,96.05 243.27,95.46 243.42,94.88 243.70,94.29 243.79,93.71 244.02,93.12 244.09,92.54 243.93,91.95 243.91,91.36 243.36,90.78 242.85,90.19 243.69,89.61 243.33,89.02 243.44,88.44 243.59,87.85 243.15,87.26 243.19,86.68 243.61,86.09 243.68,85.51 243.33,84.92 243.80,84.34 243.48,83.75 243.26,83.17 243.56,82.58 244.31,81.99 243.22,81.41 243.97,80.82 244.04,80.24 244.08,79.65 243.08,79.07 244.25,78.48 243.44,77.90 243.27,77.31 243.26,76.72 243.59,76.14 243.34,75.55 243.23,74.97 243.81,74.38 242.96,73.80 242.81,73.21 243.55,72.62 243.50,72.04 243.59,71.45 242.73,70.87 243.60,70.28 243.43,69.70 243.86,69.11 242.51,68.53 243.17,67.94 242.95,67.35 242.39,66.77 242.73,66.18 243.46,65.60 242.80,65.01 242.68,64.43 243.30,63.84 243.33,63.26 243.33,62.67 242.58,62.08 242.85,61.50 243.27,60.91 242.58,60.33 242.52,59.74 243.08,59.16 243.41,58.57 242.31,57.98 241.70,57.40 242.15,56.81 242.31,56.23 242.64,55.64 242.92,55.06 242.60,54.47 242.36,53.89 242.68,53.30" fill="none" stroke="#e6a02e" stroke-width="1.6" stroke-linejoin="round"/>
<text x="267" y="72.4" style="font-family:'Liberation Sans',Arial,sans-serif;font-size:9px" fill="#e6a43a">35°</text>
<text x="266.3" y="109.7" style="font-family:'Liberation Sans',Arial,sans-serif;font-size:9px" fill="#e6a43a">24°</text>
<text x="266.3" y="158.3" style="font-family:'Liberation Sans',Arial,sans-serif;font-size:9px" fill="#e6a43a">15°</text>
<text x="270.5" y="194.2" style="font-family:'Liberation Sans',Arial,sans-serif;font-size:9px" fill="#e6a43a">6°</text>
<rect x="241.7" y="17.4" width="91.90000000000003" height="182.29999999999998" fill="none" stroke="#5a5a5a" stroke-width="1"/>
<line x1="241.70" y1="199.7" x2="241.70" y2="197.7" stroke="#5a5a5a" stroke-width="1"/>
<line x1="241.70" y1="17.4" x2="241.70" y2="19.4" stroke="#5a5a5a" stroke-width="1"/>
<line x1="260.08" y1="199.7" x2="260.08" y2="197.7" stroke="#5a5a5a" stroke-width="1"/>
<line x1="260.08" y1="17.4" x2="260.08" y2="19.4" stroke="#5a5a5a" stroke-width="1"/>
<line x1="278.46" y1="199.7" x2="278.46" y2="197.7" stroke="#5a5a5a" stroke-width="1"/>
<line x1="278.46" y1="17.4" x2="278.46" y2="19.4" stroke="#5a5a5a" stroke-width="1"/>
<line x1="296.84" y1="199.7" x2="296.84" y2="197.7" stroke="#5a5a5a" stroke-width="1"/>
<line x1="296.84" y1="17.4" x2="296.84" y2="19.4" stroke="#5a5a5a" stroke-width="1"/>
<line x1="315.22" y1="199.7" x2="315.22" y2="197.7" stroke="#5a5a5a" stroke-width="1"/>
<line x1="315.22" y1="17.4" x2="315.22" y2="19.4" stroke="#5a5a5a" stroke-width="1"/>
<line x1="333.60" y1="199.7" x2="333.60" y2="197.7" stroke="#5a5a5a" stroke-width="1"/>
<line x1="333.60" y1="17.4" x2="333.60" y2="19.4" stroke="#5a5a5a" stroke-width="1"/>
<line x1="241.7" y1="199.70" x2="243.7" y2="199.70" stroke="#5a5a5a" stroke-width="1"/>
<line x1="333.6" y1="199.70" x2="331.6" y2="199.70" stroke="#5a5a5a" stroke-width="1"/>
<line x1="241.7" y1="181.40" x2="243.7" y2="181.40" stroke="#5a5a5a" stroke-width="1"/>
<line x1="333.6" y1="181.40" x2="331.6" y2="181.40" stroke="#5a5a5a" stroke-width="1"/>
<line x1="241.7" y1="163.10" x2="243.7" y2="163.10" stroke="#5a5a5a" stroke-width="1"/>
<line x1="333.6" y1="163.10" x2="331.6" y2="163.10" stroke="#5a5a5a" stroke-width="1"/>
<line x1="241.7" y1="144.80" x2="243.7" y2="144.80" stroke="#5a5a5a" stroke-width="1"/>
<line x1="333.6" y1="144.80" x2="331.6" y2="144.80" stroke="#5a5a5a" stroke-width="1"/>
<line x1="241.7" y1="126.50" x2="243.7" y2="126.50" stroke="#5a5a5a" stroke-width="1"/>
<line x1="333.6" y1="126.50" x2="331.6" y2="126.50" stroke="#5a5a5a" stroke-width="1"/>
<line x1="241.7" y1="108.20" x2="243.7" y2="108.20" stroke="#5a5a5a" stroke-width="1"/>
<line x1="333.6" y1="108.20" x2="331.6" y2="108.20" stroke="#5a5a5a" stroke-width="1"/>
<line x1="241.7" y1="89.90" x2="243.7" y2="89.90" stroke="#5a5a5a" stroke-width="1"/>
<line x1="333.6" y1="89.90" x2="331.6" y2="89.90" stroke="#5a5a5a" stroke-width="1"/>
<line x1="241.7" y1="71.60" x2="243.7" y2="71.60" stroke="#5a5a5a" stroke-width="1"/>
<line x1="333.6" y1="71.60" x2="331.6" y2="71.60" stroke="#5a5a5a" stroke-width="1"/>
<line x1="241.7" y1="53.30" x2="243.7" y2="53.30" stroke="#5a5a5a" stroke-width="1"/>
<line x1="333.6" y1="53.30" x2="331.6" y2="53.30" stroke="#5a5a5a" stroke-width="1"/>
<line x1="241.7" y1="35.00" x2="243.7" y2="35.00" stroke="#5a5a5a" stroke-width="1"/>
<line x1="333.6" y1="35.00" x2="331.6" y2="35.00" stroke="#5a5a5a" stroke-width="1"/>
<text x="242.70" y="211.1" text-anchor="middle" style="font-family:'Liberation Sans',Arial,sans-serif;font-size:9.6px" fill="#222">0</text>
<text x="259.68" y="211.1" text-anchor="middle" style="font-family:'Liberation Sans',Arial,sans-serif;font-size:9.6px" fill="#222">0.2</text>
<text x="278.46" y="211.1" text-anchor="middle" style="font-family:'Liberation Sans',Arial,sans-serif;font-size:9.6px" fill="#222">0.4</text>
<text x="296.84" y="211.1" text-anchor="middle" style="font-family:'Liberation Sans',Arial,sans-serif;font-size:9.6px" fill="#222">0.6</text>
<text x="315.22" y="211.1" text-anchor="middle" style="font-family:'Liberation Sans',Arial,sans-serif;font-size:9.6px" fill="#222">0.8</text>
<text x="333.60" y="211.1" text-anchor="middle" style="font-family:'Liberation Sans',Arial,sans-serif;font-size:9.6px" fill="#222">1</text>
<text x="239.4" y="199.90" text-anchor="end" style="font-family:'Liberation Sans',Arial,sans-serif;font-size:11.1px" fill="#222">0</text>
<text x="239.4" y="167.10" text-anchor="end" style="font-family:'Liberation Sans',Arial,sans-serif;font-size:11.1px" fill="#222">0.5</text>
<text x="239.4" y="130.50" text-anchor="end" style="font-family:'Liberation Sans',Arial,sans-serif;font-size:11.1px" fill="#222">1.0</text>
<text x="239.4" y="93.90" text-anchor="end" style="font-family:'Liberation Sans',Arial,sans-serif;font-size:11.1px" fill="#222">1.5</text>
<text x="239.4" y="57.30" text-anchor="end" style="font-family:'Liberation Sans',Arial,sans-serif;font-size:11.1px" fill="#222">2.0</text>
<text x="286.9" y="221.6" text-anchor="middle" style="font-family:'Liberation Sans',Arial,sans-serif;font-size:11.1px" fill="#222">Fluorescence [AU]</text>
<text transform="translate(219.6,108.3) rotate(-90)" text-anchor="middle" style="font-family:'Liberation Sans',Arial,sans-serif;font-size:11.3px" fill="#222">Distance from the tip [mm]</text>
<text x="186.9" y="11.8" style="font-family:'Liberation Sans',Arial,sans-serif;font-weight:bold;font-size:16px" fill="#111">b</text>
<rect x="429.8" y="55.0" width="247.49999999999994" height="127.9" fill="#fff"/><line x1="466.25" y1="55.0" x2="466.25" y2="182.9" stroke="#d6d6d6" stroke-width="1"/><line x1="502.70" y1="55.0" x2="502.70" y2="182.9" stroke="#d6d6d6" stroke-width="1"/><line x1="539.15" y1="55.0" x2="539.15" y2="182.9" stroke="#d6d6d6" stroke-width="1"/><line x1="575.60" y1="55.0" x2="575.60" y2="182.9" stroke="#d6d6d6" stroke-width="1"/><line x1="612.05" y1="55.0" x2="612.05" y2="182.9" stroke="#d6d6d6" stroke-width="1"/><line x1="648.50" y1="55.0" x2="648.50" y2="182.9" stroke="#d6d6d6" stroke-width="1"/><line x1="429.8" y1="171.29" x2="677.3" y2="171.29" stroke="#d6d6d6" stroke-width="1"/><line x1="429.8" y1="159.68" x2="677.3" y2="159.68" stroke="#d6d6d6" stroke-width="1"/><line x1="429.8" y1="148.07" x2="677.3" y2="148.07" stroke="#d6d6d6" stroke-width="1"/><line x1="429.8" y1="136.46" x2="677.3" y2="136.46" stroke="#d6d6d6" stroke-width="1"/><line x1="429.8" y1="124.85" x2="677.3" y2="124.85" stroke="#d6d6d6" stroke-width="1"/><line x1="429.8" y1="113.24" x2="677.3" y2="113.24" stroke="#d6d6d6" stroke-width="1"/><line x1="429.8" y1="101.63" x2="677.3" y2="101.63" stroke="#d6d6d6" stroke-width="1"/><line x1="429.8" y1="90.02" x2="677.3" y2="90.02" stroke="#d6d6d6" stroke-width="1"/><line x1="429.8" y1="78.41" x2="677.3" y2="78.41" stroke="#d6d6d6" stroke-width="1"/><line x1="429.8" y1="66.80" x2="677.3" y2="66.80" stroke="#d6d6d6" stroke-width="1"/><rect x="430.58" y="165.68" width="1.35" height="1.35" fill="#dc5a3c"/><rect x="433.50" y="165.68" width="1.35" height="1.35" fill="#dc5a3c"/><rect x="436.42" y="165.68" width="1.35" height="1.35" fill="#dc5a3c"/><rect x="439.33" y="165.68" width="1.35" height="1.35" fill="#dc5a3c"/><rect x="442.25" y="165.49" width="1.35" height="1.35" fill="#dc5a3c"/><rect x="445.16" y="164.58" width="1.35" height="1.35" fill="#dc5a3c"/><rect x="448.08" y="163.67" width="1.35" height="1.35" fill="#dc5a3c"/><rect x="451.00" y="162.56" width="1.35" height="1.35" fill="#dc5a3c"/><rect x="453.91" y="161.44" width="1.35" height="1.35" fill="#dc5a3c"/><rect x="456.83" y="160.32" width="1.35" height="1.35" fill="#dc5a3c"/><rect x="459.74" y="159.20" width="1.35" height="1.35" fill="#dc5a3c"/><rect x="462.66" y="158.08" width="1.35" height="1.35" fill="#dc5a3c"/><rect x="465.57" y="156.98" width="1.35" height="1.35" fill="#dc5a3c"/><rect x="468.49" y="155.93" width="1.35" height="1.35" fill="#dc5a3c"/><rect x="471.41" y="154.88" width="1.35" height="1.35" fill="#dc5a3c"/><rect x="474.32" y="153.83" width="1.35" height="1.35" fill="#dc5a3c"/><rect x="477.24" y="152.78" width="1.35" height="1.35" fill="#dc5a3c"/><rect x="480.16" y="151.77" width="1.35" height="1.35" fill="#dc5a3c"/><rect x="483.07" y="150.86" width="1.35" height="1.35" fill="#dc5a3c"/><rect x="485.99" y="149.95" width="1.35" height="1.35" fill="#dc5a3c"/><rect x="485.99" y="181.87" width="1.35" height="1.35" fill="#dc5a3c"/><rect x="488.90" y="149.04" width="1.35" height="1.35" fill="#dc5a3c"/><rect x="488.90" y="177.48" width="1.35" height="1.35" fill="#dc5a3c"/><rect x="491.82" y="148.13" width="1.35" height="1.35" fill="#dc5a3c"/><rect x="491.82" y="175.33" width="1.35" height="1.35" fill="#dc5a3c"/><rect x="494.74" y="147.64" width="1.35" height="1.35" fill="#dc5a3c"/><rect x="494.74" y="173.19" width="1.35" height="1.35" fill="#dc5a3c"/><rect x="497.65" y="147.23" width="1.35" height="1.35" fill="#dc5a3c"/><rect x="497.65" y="171.08" width="1.35" height="1.35" fill="#dc5a3c"/><rect x="500.57" y="146.82" width="1.35" height="1.35" fill="#dc5a3c"/><rect x="500.57" y="169.03" width="1.35" height="1.35" fill="#dc5a3c"/><rect x="503.48" y="144.53" width="1.35" height="1.35" fill="#dc5a3c"/><rect x="503.48" y="166.99" width="1.35" height="1.35" fill="#dc5a3c"/><rect x="506.40" y="142.20" width="1.35" height="1.35" fill="#dc5a3c"/><rect x="506.40" y="165.05" width="1.35" height="1.35" fill="#dc5a3c"/><rect x="509.31" y="139.86" width="1.35" height="1.35" fill="#dc5a3c"/><rect x="509.31" y="163.29" width="1.35" height="1.35" fill="#dc5a3c"/><rect x="512.23" y="137.18" width="1.35" height="1.35" fill="#dc5a3c"/><rect x="512.23" y="161.54" width="1.35" height="1.35" fill="#dc5a3c"/><rect x="515.15" y="133.93" width="1.35" height="1.35" fill="#dc5a3c"/><rect x="515.15" y="159.79" width="1.35" height="1.35" fill="#dc5a3c"/><rect x="518.06" y="130.98" width="1.35" height="1.35" fill="#dc5a3c"/><rect x="518.06" y="158.48" width="1.35" height="1.35" fill="#dc5a3c"/><rect x="520.98" y="129.81" width="1.35" height="1.35" fill="#dc5a3c"/><rect x="520.98" y="157.23" width="1.35" height="1.35" fill="#dc5a3c"/><rect x="523.90" y="128.64" width="1.35" height="1.35" fill="#dc5a3c"/><rect x="523.90" y="155.99" width="1.35" height="1.35" fill="#dc5a3c"/><rect x="526.81" y="127.47" width="1.35" height="1.35" fill="#dc5a3c"/><rect x="526.81" y="154.86" width="1.35" height="1.35" fill="#dc5a3c"/><rect x="529.73" y="126.25" width="1.35" height="1.35" fill="#dc5a3c"/><rect x="529.73" y="154.36" width="1.35" height="1.35" fill="#dc5a3c"/><rect x="532.64" y="125.00" width="1.35" height="1.35" fill="#dc5a3c"/><rect x="532.64" y="153.86" width="1.35" height="1.35" fill="#dc5a3c"/><rect x="535.56" y="123.75" width="1.35" height="1.35" fill="#dc5a3c"/><rect x="535.56" y="153.36" width="1.35" height="1.35" fill="#dc5a3c"/><rect x="538.48" y="122.51" width="1.35" height="1.35" fill="#dc5a3c"/><rect x="538.48" y="152.91" width="1.35" height="1.35" fill="#dc5a3c"/><rect x="541.39" y="121.48" width="1.35" height="1.35" fill="#dc5a3c"/><rect x="541.39" y="152.48" width="1.35" height="1.35" fill="#dc5a3c"/><rect x="544.31" y="120.46" width="1.35" height="1.35" fill="#dc5a3c"/><rect x="544.31" y="152.06" width="1.35" height="1.35" fill="#dc5a3c"/><rect x="547.22" y="119.44" width="1.35" height="1.35" fill="#dc5a3c"/><rect x="547.22" y="150.70" width="1.35" height="1.35" fill="#dc5a3c"/><rect x="550.14" y="118.43" width="1.35" height="1.35" fill="#dc5a3c"/><rect x="550.14" y="149.30" width="1.35" height="1.35" fill="#dc5a3c"/><rect x="553.06" y="117.41" width="1.35" height="1.35" fill="#dc5a3c"/><rect x="553.06" y="147.89" width="1.35" height="1.35" fill="#dc5a3c"/><rect x="555.97" y="116.27" width="1.35" height="1.35" fill="#dc5a3c"/><rect x="555.97" y="146.40" width="1.35" height="1.35" fill="#dc5a3c"/><rect x="558.89" y="114.71" width="1.35" height="1.35" fill="#dc5a3c"/><rect x="558.89" y="144.58" width="1.35" height="1.35" fill="#dc5a3c"/><rect x="561.80" y="113.15" width="1.35" height="1.35" fill="#dc5a3c"/><rect x="561.80" y="142.76" width="1.35" height="1.35" fill="#dc5a3c"/><rect x="564.72" y="110.82" width="1.35" height="1.35" fill="#dc5a3c"/><rect x="564.72" y="140.94" width="1.35" height="1.35" fill="#dc5a3c"/><rect x="567.64" y="108.48" width="1.35" height="1.35" fill="#dc5a3c"/><rect x="567.64" y="139.12" width="1.35" height="1.35" fill="#dc5a3c"/><rect x="570.55" y="106.14" width="1.35" height="1.35" fill="#dc5a3c"/><rect x="570.55" y="137.30" width="1.35" height="1.35" fill="#dc5a3c"/><rect x="573.47" y="103.80" width="1.35" height="1.35" fill="#dc5a3c"/><rect x="573.47" y="135.49" width="1.35" height="1.35" fill="#dc5a3c"/><rect x="576.38" y="101.50" width="1.35" height="1.35" fill="#dc5a3c"/><rect x="576.38" y="133.71" width="1.35" height="1.35" fill="#dc5a3c"/><rect x="579.30" y="100.39" width="1.35" height="1.35" fill="#dc5a3c"/><rect x="579.30" y="131.99" width="1.35" height="1.35" fill="#dc5a3c"/><rect x="582.22" y="99.28" width="1.35" height="1.35" fill="#dc5a3c"/><rect x="582.22" y="130.26" width="1.35" height="1.35" fill="#dc5a3c"/><rect x="585.13" y="98.16" width="1.35" height="1.35" fill="#dc5a3c"/><rect x="585.13" y="128.53" width="1.35" height="1.35" fill="#dc5a3c"/><rect x="588.05" y="97.05" width="1.35" height="1.35" fill="#dc5a3c"/><rect x="588.05" y="126.80" width="1.35" height="1.35" fill="#dc5a3c"/><rect x="590.96" y="95.94" width="1.35" height="1.35" fill="#dc5a3c"/><rect x="590.96" y="125.07" width="1.35" height="1.35" fill="#dc5a3c"/><rect x="593.88" y="94.88" width="1.35" height="1.35" fill="#dc5a3c"/><rect x="593.88" y="124.56" width="1.35" height="1.35" fill="#dc5a3c"/><rect x="596.80" y="93.83" width="1.35" height="1.35" fill="#dc5a3c"/><rect x="596.80" y="124.32" width="1.35" height="1.35" fill="#dc5a3c"/><rect x="599.71" y="92.78" width="1.35" height="1.35" fill="#dc5a3c"/><rect x="599.71" y="124.07" width="1.35" height="1.35" fill="#dc5a3c"/><rect x="602.63" y="91.73" width="1.35" height="1.35" fill="#dc5a3c"/><rect x="602.63" y="123.83" width="1.35" height="1.35" fill="#dc5a3c"/><rect x="605.54" y="90.68" width="1.35" height="1.35" fill="#dc5a3c"/><rect x="605.54" y="123.59" width="1.35" height="1.35" fill="#dc5a3c"/><rect x="608.46" y="89.64" width="1.35" height="1.35" fill="#dc5a3c"/><rect x="608.46" y="123.35" width="1.35" height="1.35" fill="#dc5a3c"/><rect x="611.38" y="88.59" width="1.35" height="1.35" fill="#dc5a3c"/><rect x="611.38" y="123.11" width="1.35" height="1.35" fill="#dc5a3c"/><rect x="614.29" y="87.64" width="1.35" height="1.35" fill="#dc5a3c"/><rect x="614.29" y="122.40" width="1.35" height="1.35" fill="#dc5a3c"/><rect x="617.21" y="86.75" width="1.35" height="1.35" fill="#dc5a3c"/><rect x="617.21" y="121.40" width="1.35" height="1.35" fill="#dc5a3c"/><rect x="620.12" y="85.86" width="1.35" height="1.35" fill="#dc5a3c"/><rect x="620.12" y="120.39" width="1.35" height="1.35" fill="#dc5a3c"/><rect x="623.04" y="84.98" width="1.35" height="1.35" fill="#dc5a3c"/><rect x="623.04" y="119.23" width="1.35" height="1.35" fill="#dc5a3c"/><rect x="625.96" y="84.09" width="1.35" height="1.35" fill="#dc5a3c"/><rect x="625.96" y="117.05" width="1.35" height="1.35" fill="#dc5a3c"/><rect x="628.87" y="83.20" width="1.35" height="1.35" fill="#dc5a3c"/><rect x="628.87" y="114.86" width="1.35" height="1.35" fill="#dc5a3c"/><rect x="631.79" y="82.32" width="1.35" height="1.35" fill="#dc5a3c"/><rect x="631.79" y="112.68" width="1.35" height="1.35" fill="#dc5a3c"/><rect x="634.70" y="81.02" width="1.35" height="1.35" fill="#dc5a3c"/><rect x="634.70" y="110.68" width="1.35" height="1.35" fill="#dc5a3c"/><rect x="637.62" y="79.15" width="1.35" height="1.35" fill="#dc5a3c"/><rect x="637.62" y="108.92" width="1.35" height="1.35" fill="#dc5a3c"/><rect x="640.54" y="77.28" width="1.35" height="1.35" fill="#dc5a3c"/><rect x="640.54" y="107.17" width="1.35" height="1.35" fill="#dc5a3c"/><rect x="643.45" y="75.41" width="1.35" height="1.35" fill="#dc5a3c"/><rect x="643.45" y="105.42" width="1.35" height="1.35" fill="#dc5a3c"/><rect x="646.37" y="73.54" width="1.35" height="1.35" fill="#dc5a3c"/><rect x="646.37" y="103.66" width="1.35" height="1.35" fill="#dc5a3c"/><rect x="649.28" y="71.84" width="1.35" height="1.35" fill="#dc5a3c"/><rect x="649.28" y="101.78" width="1.35" height="1.35" fill="#dc5a3c"/><rect x="652.20" y="70.33" width="1.35" height="1.35" fill="#dc5a3c"/><rect x="652.20" y="99.73" width="1.35" height="1.35" fill="#dc5a3c"/><rect x="655.12" y="68.83" width="1.35" height="1.35" fill="#dc5a3c"/><rect x="655.12" y="97.69" width="1.35" height="1.35" fill="#dc5a3c"/><rect x="658.03" y="67.33" width="1.35" height="1.35" fill="#dc5a3c"/><rect x="658.03" y="96.30" width="1.35" height="1.35" fill="#dc5a3c"/><rect x="660.95" y="66.15" width="1.35" height="1.35" fill="#dc5a3c"/><rect x="660.95" y="95.66" width="1.35" height="1.35" fill="#dc5a3c"/><rect x="663.86" y="64.98" width="1.35" height="1.35" fill="#dc5a3c"/><rect x="663.86" y="95.01" width="1.35" height="1.35" fill="#dc5a3c"/><rect x="666.78" y="63.81" width="1.35" height="1.35" fill="#dc5a3c"/><rect x="666.78" y="94.37" width="1.35" height="1.35" fill="#dc5a3c"/><rect x="669.70" y="62.64" width="1.35" height="1.35" fill="#dc5a3c"/><rect x="669.70" y="93.73" width="1.35" height="1.35" fill="#dc5a3c"/><circle cx="431.26" cy="175.35" r="1.6" fill="none" stroke="#e24a28" stroke-width="1.25"/><circle cx="434.17" cy="175.35" r="1.6" fill="none" stroke="#e24a28" stroke-width="1.25"/><circle cx="437.09" cy="175.35" r="1.6" fill="none" stroke="#e24a28" stroke-width="1.25"/><circle cx="440.01" cy="175.35" r="1.6" fill="none" stroke="#e24a28" stroke-width="1.25"/><circle cx="442.92" cy="175.35" r="1.6" fill="none" stroke="#e24a28" stroke-width="1.25"/><circle cx="445.84" cy="175.10" r="1.6" fill="none" stroke="#e24a28" stroke-width="1.25"/><circle cx="448.75" cy="174.55" r="1.6" fill="none" stroke="#e24a28" stroke-width="1.25"/><circle cx="451.67" cy="174.01" r="1.6" fill="none" stroke="#e24a28" stroke-width="1.25"/><circle cx="454.59" cy="173.46" r="1.6" fill="none" stroke="#e24a28" stroke-width="1.25"/><circle cx="457.50" cy="172.76" r="1.6" fill="none" stroke="#e24a28" stroke-width="1.25"/><circle cx="460.42" cy="172.01" r="1.6" fill="none" stroke="#e24a28" stroke-width="1.25"/><circle cx="463.33" cy="171.26" r="1.6" fill="none" stroke="#e24a28" stroke-width="1.25"/><circle cx="466.25" cy="170.59" r="1.6" fill="none" stroke="#e24a28" stroke-width="1.25"/><circle cx="469.17" cy="170.13" r="1.6" fill="none" stroke="#e24a28" stroke-width="1.25"/><circle cx="472.08" cy="169.68" r="1.6" fill="none" stroke="#e24a28" stroke-width="1.25"/><circle cx="475.00" cy="169.22" r="1.6" fill="none" stroke="#e24a28" stroke-width="1.25"/><circle cx="477.91" cy="168.77" r="1.6" fill="none" stroke="#e24a28" stroke-width="1.25"/><circle cx="480.83" cy="168.00" r="1.6" fill="none" stroke="#e24a28" stroke-width="1.25"/><circle cx="483.75" cy="167.15" r="1.6" fill="none" stroke="#e24a28" stroke-width="1.25"/><circle cx="486.66" cy="166.18" r="1.6" fill="none" stroke="#e24a28" stroke-width="1.25"/><circle cx="489.58" cy="163.45" r="1.6" fill="none" stroke="#e24a28" stroke-width="1.25"/><circle cx="492.49" cy="161.60" r="1.6" fill="none" stroke="#e24a28" stroke-width="1.25"/><circle cx="495.41" cy="160.39" r="1.6" fill="none" stroke="#e24a28" stroke-width="1.25"/><circle cx="498.33" cy="159.18" r="1.6" fill="none" stroke="#e24a28" stroke-width="1.25"/><circle cx="501.24" cy="157.97" r="1.6" fill="none" stroke="#e24a28" stroke-width="1.25"/><circle cx="504.16" cy="156.44" r="1.6" fill="none" stroke="#e24a28" stroke-width="1.25"/><circle cx="507.07" cy="154.91" r="1.6" fill="none" stroke="#e24a28" stroke-width="1.25"/><circle cx="509.99" cy="153.38" r="1.6" fill="none" stroke="#e24a28" stroke-width="1.25"/><circle cx="512.91" cy="151.61" r="1.6" fill="none" stroke="#e24a28" stroke-width="1.25"/><circle cx="515.82" cy="149.43" r="1.6" fill="none" stroke="#e24a28" stroke-width="1.25"/><circle cx="518.74" cy="147.25" r="1.6" fill="none" stroke="#e24a28" stroke-width="1.25"/><circle cx="521.65" cy="145.08" r="1.6" fill="none" stroke="#e24a28" stroke-width="1.25"/><circle cx="524.57" cy="143.79" r="1.6" fill="none" stroke="#e24a28" stroke-width="1.25"/><circle cx="527.49" cy="142.77" r="1.6" fill="none" stroke="#e24a28" stroke-width="1.25"/><circle cx="530.40" cy="141.74" r="1.6" fill="none" stroke="#e24a28" stroke-width="1.25"/><circle cx="533.32" cy="140.71" r="1.6" fill="none" stroke="#e24a28" stroke-width="1.25"/><circle cx="536.23" cy="139.69" r="1.6" fill="none" stroke="#e24a28" stroke-width="1.25"/><circle cx="539.15" cy="138.74" r="1.6" fill="none" stroke="#e24a28" stroke-width="1.25"/><circle cx="542.07" cy="137.82" r="1.6" fill="none" stroke="#e24a28" stroke-width="1.25"/><circle cx="544.98" cy="136.91" r="1.6" fill="none" stroke="#e24a28" stroke-width="1.25"/><circle cx="547.90" cy="135.99" r="1.6" fill="none" stroke="#e24a28" stroke-width="1.25"/><circle cx="550.81" cy="135.08" r="1.6" fill="none" stroke="#e24a28" stroke-width="1.25"/><circle cx="553.73" cy="134.16" r="1.6" fill="none" stroke="#e24a28" stroke-width="1.25"/><circle cx="556.65" cy="132.49" r="1.6" fill="none" stroke="#e24a28" stroke-width="1.25"/><circle cx="559.56" cy="130.80" r="1.6" fill="none" stroke="#e24a28" stroke-width="1.25"/><circle cx="562.48" cy="129.12" r="1.6" fill="none" stroke="#e24a28" stroke-width="1.25"/><circle cx="565.39" cy="127.43" r="1.6" fill="none" stroke="#e24a28" stroke-width="1.25"/><circle cx="568.31" cy="125.21" r="1.6" fill="none" stroke="#e24a28" stroke-width="1.25"/><circle cx="571.23" cy="122.50" r="1.6" fill="none" stroke="#e24a28" stroke-width="1.25"/><circle cx="574.14" cy="120.45" r="1.6" fill="none" stroke="#e24a28" stroke-width="1.25"/><circle cx="577.06" cy="118.42" r="1.6" fill="none" stroke="#e24a28" stroke-width="1.25"/><circle cx="579.97" cy="116.97" r="1.6" fill="none" stroke="#e24a28" stroke-width="1.25"/><circle cx="582.89" cy="115.53" r="1.6" fill="none" stroke="#e24a28" stroke-width="1.25"/><circle cx="585.81" cy="114.08" r="1.6" fill="none" stroke="#e24a28" stroke-width="1.25"/><circle cx="588.72" cy="112.63" r="1.6" fill="none" stroke="#e24a28" stroke-width="1.25"/><circle cx="591.64" cy="111.19" r="1.6" fill="none" stroke="#e24a28" stroke-width="1.25"/><circle cx="594.55" cy="110.13" r="1.6" fill="none" stroke="#e24a28" stroke-width="1.25"/><circle cx="597.47" cy="109.17" r="1.6" fill="none" stroke="#e24a28" stroke-width="1.25"/><circle cx="600.39" cy="108.21" r="1.6" fill="none" stroke="#e24a28" stroke-width="1.25"/><circle cx="603.30" cy="107.24" r="1.6" fill="none" stroke="#e24a28" stroke-width="1.25"/><circle cx="606.22" cy="106.39" r="1.6" fill="none" stroke="#e24a28" stroke-width="1.25"/><circle cx="609.13" cy="105.61" r="1.6" fill="none" stroke="#e24a28" stroke-width="1.25"/><circle cx="612.05" cy="104.83" r="1.6" fill="none" stroke="#e24a28" stroke-width="1.25"/><circle cx="614.97" cy="103.81" r="1.6" fill="none" stroke="#e24a28" stroke-width="1.25"/><circle cx="617.88" cy="102.64" r="1.6" fill="none" stroke="#e24a28" stroke-width="1.25"/><circle cx="620.80" cy="101.48" r="1.6" fill="none" stroke="#e24a28" stroke-width="1.25"/><circle cx="623.71" cy="100.26" r="1.6" fill="none" stroke="#e24a28" stroke-width="1.25"/><circle cx="626.63" cy="98.74" r="1.6" fill="none" stroke="#e24a28" stroke-width="1.25"/><circle cx="629.55" cy="97.22" r="1.6" fill="none" stroke="#e24a28" stroke-width="1.25"/><circle cx="632.46" cy="95.70" r="1.6" fill="none" stroke="#e24a28" stroke-width="1.25"/><circle cx="635.38" cy="94.18" r="1.6" fill="none" stroke="#e24a28" stroke-width="1.25"/><circle cx="638.29" cy="92.65" r="1.6" fill="none" stroke="#e24a28" stroke-width="1.25"/><circle cx="641.21" cy="91.09" r="1.6" fill="none" stroke="#e24a28" stroke-width="1.25"/><circle cx="644.13" cy="89.53" r="1.6" fill="none" stroke="#e24a28" stroke-width="1.25"/><circle cx="647.04" cy="87.98" r="1.6" fill="none" stroke="#e24a28" stroke-width="1.25"/><circle cx="649.96" cy="86.42" r="1.6" fill="none" stroke="#e24a28" stroke-width="1.25"/><circle cx="652.87" cy="84.86" r="1.6" fill="none" stroke="#e24a28" stroke-width="1.25"/><circle cx="655.79" cy="83.67" r="1.6" fill="none" stroke="#e24a28" stroke-width="1.25"/><circle cx="658.71" cy="82.50" r="1.6" fill="none" stroke="#e24a28" stroke-width="1.25"/><circle cx="661.62" cy="81.34" r="1.6" fill="none" stroke="#e24a28" stroke-width="1.25"/><circle cx="664.54" cy="80.17" r="1.6" fill="none" stroke="#e24a28" stroke-width="1.25"/><circle cx="667.45" cy="79.00" r="1.6" fill="none" stroke="#e24a28" stroke-width="1.25"/><circle cx="670.37" cy="77.83" r="1.6" fill="none" stroke="#e24a28" stroke-width="1.25"/><polyline points="492.49,159.11 495.41,158.41 498.33,157.70 501.24,156.93 504.16,156.10 507.07,154.51 509.99,152.81 512.91,151.10 515.82,149.41 518.74,147.77 521.65,146.20 524.57,144.67 527.49,143.24 530.40,141.95 533.32,140.80 536.23,139.79 539.15,138.83 542.07,137.87 544.98,136.84 547.90,135.74 550.81,134.57 553.73,133.31 556.65,131.91 559.56,130.31 562.48,128.58 565.39,126.73 568.31,124.82 571.23,122.94 574.14,121.08 577.06,119.25 579.97,117.44 582.89,115.77 585.81,114.29 588.72,112.93 591.64,111.68 594.55,110.51 597.47,109.41 600.39,108.38 603.30,107.40 606.22,106.45 609.13,105.49 612.05,104.50 614.97,103.45 617.88,102.33 620.80,101.14 623.71,99.87 626.63,98.52 629.55,97.11 632.46,95.65 635.38,94.15 638.29,92.61 641.21,91.07 644.13,89.56 647.04,88.10 649.96,86.67 652.87,85.28 655.79,83.94 658.71,82.64 661.62,81.97 664.54,81.34 667.45,80.75 670.37,80.17" fill="none" stroke="#c0221a" stroke-width="1.4" stroke-linejoin="round"/><rect x="429.8" y="55.0" width="247.49999999999994" height="127.9" fill="none" stroke="#1a1a1a" stroke-width="1.3"/><rect x="429.10" y="182.10" width="1.4" height="1.6" fill="#5e3020"/><rect x="430.56" y="182.10" width="1.4" height="1.6" fill="#5e3020"/><rect x="432.02" y="182.10" width="1.4" height="1.6" fill="#5e3020"/><rect x="433.47" y="182.10" width="1.4" height="1.6" fill="#5e3020"/><rect x="434.93" y="182.10" width="1.4" height="1.6" fill="#5e3020"/><rect x="436.39" y="182.10" width="1.4" height="1.6" fill="#5e3020"/><rect x="437.85" y="182.10" width="1.4" height="1.6" fill="#5e3020"/><rect x="439.31" y="182.10" width="1.4" height="1.6" fill="#5e3020"/><rect x="440.76" y="182.10" width="1.4" height="1.6" fill="#5e3020"/><rect x="442.22" y="182.10" width="1.4" height="1.6" fill="#5e3020"/><rect x="443.68" y="182.10" width="1.4" height="1.6" fill="#5e3020"/><rect x="445.14" y="182.10" width="1.4" height="1.6" fill="#5e3020"/><rect x="446.60" y="182.10" width="1.4" height="1.6" fill="#5e3020"/><rect x="448.05" y="182.10" width="1.4" height="1.6" fill="#5e3020"/><rect x="449.51" y="182.10" width="1.4" height="1.6" fill="#5e3020"/><rect x="450.97" y="182.10" width="1.4" height="1.6" fill="#5e3020"/><rect x="452.43" y="182.10" width="1.4" height="1.6" fill="#5e3020"/><rect x="453.89" y="182.10" width="1.4" height="1.6" fill="#5e3020"/><rect x="455.34" y="182.10" width="1.4" height="1.6" fill="#5e3020"/><rect x="456.80" y="182.10" width="1.4" height="1.6" fill="#5e3020"/><rect x="458.26" y="182.10" width="1.4" height="1.6" fill="#5e3020"/><rect x="459.72" y="182.10" width="1.4" height="1.6" fill="#5e3020"/><rect x="461.18" y="182.10" width="1.4" height="1.6" fill="#5e3020"/><rect x="462.63" y="182.10" width="1.4" height="1.6" fill="#5e3020"/><rect x="464.09" y="182.10" width="1.4" height="1.6" fill="#5e3020"/><rect x="465.55" y="182.10" width="1.4" height="1.6" fill="#5e3020"/><rect x="467.01" y="182.10" width="1.4" height="1.6" fill="#5e3020"/><rect x="468.47" y="182.10" width="1.4" height="1.6" fill="#5e3020"/><rect x="469.92" y="182.10" width="1.4" height="1.6" fill="#5e3020"/><rect x="471.38" y="182.10" width="1.4" height="1.6" fill="#5e3020"/><rect x="472.84" y="182.10" width="1.4" height="1.6" fill="#5e3020"/><rect x="474.30" y="182.10" width="1.4" height="1.6" fill="#5e3020"/><rect x="475.76" y="182.10" width="1.4" height="1.6" fill="#5e3020"/><rect x="477.21" y="182.10" width="1.4" height="1.6" fill="#5e3020"/><rect x="478.67" y="182.10" width="1.4" height="1.6" fill="#5e3020"/><rect x="480.13" y="182.10" width="1.4" height="1.6" fill="#5e3020"/><rect x="481.59" y="182.10" width="1.4" height="1.6" fill="#5e3020"/><rect x="483.05" y="182.10" width="1.4" height="1.6" fill="#5e3020"/><rect x="484.50" y="182.10" width="1.4" height="1.6" fill="#5e3020"/><rect x="485.96" y="182.10" width="1.4" height="1.6" fill="#5e3020"/><line x1="429.80" y1="182.9" x2="429.80" y2="179.70000000000002" stroke="#1a1a1a" stroke-width="1.3"/><line x1="429.80" y1="55.0" x2="429.80" y2="58.2" stroke="#1a1a1a" stroke-width="1.3"/><text x="430.40" y="194.90" text-anchor="middle" style="font-family:'Liberation Sans',Arial,sans-serif;font-size:10.9px" fill="#222">0</text><line x1="466.25" y1="182.9" x2="466.25" y2="179.70000000000002" stroke="#1a1a1a" stroke-width="1.3"/><line x1="466.25" y1="55.0" x2="466.25" y2="58.2" stroke="#1a1a1a" stroke-width="1.3"/><text x="465.60" y="194.90" text-anchor="middle" style="font-family:'Liberation Sans',Arial,sans-serif;font-size:10.9px" fill="#222">5</text><line x1="502.70" y1="182.9" x2="502.70" y2="179.70000000000002" stroke="#1a1a1a" stroke-width="1.3"/><line x1="502.70" y1="55.0" x2="502.70" y2="58.2" stroke="#1a1a1a" stroke-width="1.3"/><text x="501.20" y="194.90" text-anchor="middle" style="font-family:'Liberation Sans',Arial,sans-serif;font-size:10.9px" fill="#222">10</text><line x1="539.15" y1="182.9" x2="539.15" y2="179.70000000000002" stroke="#1a1a1a" stroke-width="1.3"/><line x1="539.15" y1="55.0" x2="539.15" y2="58.2" stroke="#1a1a1a" stroke-width="1.3"/><text x="538.70" y="194.90" text-anchor="middle" style="font-family:'Liberation Sans',Arial,sans-serif;font-size:10.9px" fill="#222">15</text><line x1="575.60" y1="182.9" x2="575.60" y2="179.70000000000002" stroke="#1a1a1a" stroke-width="1.3"/><line x1="575.60" y1="55.0" x2="575.60" y2="58.2" stroke="#1a1a1a" stroke-width="1.3"/><text x="576.80" y="194.90" text-anchor="middle" style="font-family:'Liberation Sans',Arial,sans-serif;font-size:10.9px" fill="#222">20</text><line x1="612.05" y1="182.9" x2="612.05" y2="179.70000000000002" stroke="#1a1a1a" stroke-width="1.3"/><line x1="612.05" y1="55.0" x2="612.05" y2="58.2" stroke="#1a1a1a" stroke-width="1.3"/><text x="613.00" y="194.90" text-anchor="middle" style="font-family:'Liberation Sans',Arial,sans-serif;font-size:10.9px" fill="#222">25</text><line x1="648.50" y1="182.9" x2="648.50" y2="179.70000000000002" stroke="#1a1a1a" stroke-width="1.3"/><line x1="648.50" y1="55.0" x2="648.50" y2="58.2" stroke="#1a1a1a" stroke-width="1.3"/><text x="647.60" y="194.90" text-anchor="middle" style="font-family:'Liberation Sans',Arial,sans-serif;font-size:10.9px" fill="#222">30</text><line x1="429.8" y1="182.90" x2="433.0" y2="182.90" stroke="#1a1a1a" stroke-width="1.3"/><line x1="677.3" y1="182.90" x2="674.0999999999999" y2="182.90" stroke="#1a1a1a" stroke-width="1.3"/><text x="426.90" y="186.40" text-anchor="end" style="font-family:'Liberation Sans',Arial,sans-serif;font-size:11px" fill="#222">0</text><line x1="429.8" y1="171.29" x2="433.0" y2="171.29" stroke="#1a1a1a" stroke-width="1.3"/><line x1="677.3" y1="171.29" x2="674.0999999999999" y2="171.29" stroke="#1a1a1a" stroke-width="1.3"/><text x="426.90" y="174.79" text-anchor="end" style="font-family:'Liberation Sans',Arial,sans-serif;font-size:11px" fill="#222">0.2</text><line x1="429.8" y1="159.68" x2="433.0" y2="159.68" stroke="#1a1a1a" stroke-width="1.3"/><line x1="677.3" y1="159.68" x2="674.0999999999999" y2="159.68" stroke="#1a1a1a" stroke-width="1.3"/><text x="426.90" y="163.18" text-anchor="end" style="font-family:'Liberation Sans',Arial,sans-serif;font-size:11px" fill="#222">0.4</text><line x1="429.8" y1="148.07" x2="433.0" y2="148.07" stroke="#1a1a1a" stroke-width="1.3"/><line x1="677.3" y1="148.07" x2="674.0999999999999" y2="148.07" stroke="#1a1a1a" stroke-width="1.3"/><text x="426.90" y="151.57" text-anchor="end" style="font-family:'Liberation Sans',Arial,sans-serif;font-size:11px" fill="#222">0.6</text><line x1="429.8" y1="136.46" x2="433.0" y2="136.46" stroke="#1a1a1a" stroke-width="1.3"/><line x1="677.3" y1="136.46" x2="674.0999999999999" y2="136.46" stroke="#1a1a1a" stroke-width="1.3"/><text x="426.90" y="139.96" text-anchor="end" style="font-family:'Liberation Sans',Arial,sans-serif;font-size:11px" fill="#222">0.8</text><line x1="429.8" y1="124.85" x2="433.0" y2="124.85" stroke="#1a1a1a" stroke-width="1.3"/><line x1="677.3" y1="124.85" x2="674.0999999999999" y2="124.85" stroke="#1a1a1a" stroke-width="1.3"/><text x="426.90" y="128.35" text-anchor="end" style="font-family:'Liberation Sans',Arial,sans-serif;font-size:11px" fill="#222">1.0</text><line x1="429.8" y1="113.24" x2="433.0" y2="113.24" stroke="#1a1a1a" stroke-width="1.3"/><line x1="677.3" y1="113.24" x2="674.0999999999999" y2="113.24" stroke="#1a1a1a" stroke-width="1.3"/><text x="426.90" y="116.74" text-anchor="end" style="font-family:'Liberation Sans',Arial,sans-serif;font-size:11px" fill="#222">1.2</text><line x1="429.8" y1="101.63" x2="433.0" y2="101.63" stroke="#1a1a1a" stroke-width="1.3"/><line x1="677.3" y1="101.63" x2="674.0999999999999" y2="101.63" stroke="#1a1a1a" stroke-width="1.3"/><text x="426.90" y="105.13" text-anchor="end" style="font-family:'Liberation Sans',Arial,sans-serif;font-size:11px" fill="#222">1.4</text><line x1="429.8" y1="90.02" x2="433.0" y2="90.02" stroke="#1a1a1a" stroke-width="1.3"/><line x1="677.3" y1="90.02" x2="674.0999999999999" y2="90.02" stroke="#1a1a1a" stroke-width="1.3"/><text x="426.90" y="93.52" text-anchor="end" style="font-family:'Liberation Sans',Arial,sans-serif;font-size:11px" fill="#222">1.6</text><line x1="429.8" y1="78.41" x2="433.0" y2="78.41" stroke="#1a1a1a" stroke-width="1.3"/><line x1="677.3" y1="78.41" x2="674.0999999999999" y2="78.41" stroke="#1a1a1a" stroke-width="1.3"/><text x="426.90" y="81.91" text-anchor="end" style="font-family:'Liberation Sans',Arial,sans-serif;font-size:11px" fill="#222">1.8</text><line x1="429.8" y1="66.80" x2="433.0" y2="66.80" stroke="#1a1a1a" stroke-width="1.3"/><line x1="677.3" y1="66.80" x2="674.0999999999999" y2="66.80" stroke="#1a1a1a" stroke-width="1.3"/><text x="426.90" y="70.30" text-anchor="end" style="font-family:'Liberation Sans',Arial,sans-serif;font-size:11px" fill="#222">2.0</text><text x="549.6" y="208.4" text-anchor="middle" style="font-family:'Liberation Sans',Arial,sans-serif;font-size:11.2px" fill="#222">Input angle [°]</text><text transform="translate(405.3,117.0) rotate(-90)" text-anchor="middle" style="font-family:'Liberation Sans',Arial,sans-serif;font-size:11.4px" fill="#222">Distance from the tip [mm]</text><circle cx="426.10" cy="48.20" r="2.1" fill="none" stroke="#e24a28" stroke-width="1.45"/><text x="430.3" y="51.8" style="font-family:'Liberation Sans',Arial,sans-serif;font-size:11.2px" fill="#222">Centroid positions</text><rect x="525.40" y="47.10" width="2.0" height="2.0" fill="#dc5a3c"/><text x="530.2" y="51.8" style="font-family:'Liberation Sans',Arial,sans-serif;font-size:11.2px" fill="#222">FWHM boundaries</text><line x1="628.4" y1="48.10" x2="638" y2="48.10" stroke="#c0221a" stroke-width="1.6"/><text x="641.6" y="51.8" style="font-family:'Liberation Sans',Arial,sans-serif;font-size:11.2px" fill="#222">Linear fit</text>
<text x="382.2" y="11.7" style="font-family:'Liberation Sans',Arial,sans-serif;font-weight:bold;font-size:16px" fill="#111">c</text>
<rect x="18.5" y="255" width="160.5" height="160.60000000000002" fill="#231f20"/>
<g clip-path="url(#cpd)"><ellipse cx="116" cy="364" rx="55" ry="26" transform="rotate(49 116 364)" fill="#5a5657" opacity="0.45" filter="url(#b12)"/><ellipse cx="130" cy="345" rx="55" ry="32" transform="rotate(49 130 345)" fill="#3a3637" opacity="0.4" filter="url(#b16)"/><path d="M112,266 Q150,262 160,288 Q164,300 172,302" fill="none" stroke="#3a3637" stroke-width="1.2" opacity="0.45" filter="url(#b0_8)"/><line x1="91" y1="317" x2="162" y2="398" stroke="#8a8889" stroke-width="16" opacity="0.35" filter="url(#b4)"/><line x1="91" y1="317" x2="162" y2="398" stroke="url(#dstreak)" stroke-width="8" opacity="0.6" filter="url(#b1_5)"/><circle cx="96.1" cy="324.8" r="0.55" fill="#fff" opacity="0.31"/><circle cx="122.3" cy="351.6" r="0.61" fill="#fff" opacity="0.32"/><circle cx="119.5" cy="348.1" r="0.56" fill="#fff" opacity="0.73"/><circle cx="159.5" cy="393.9" r="0.59" fill="#fff" opacity="0.44"/><circle cx="112.6" cy="340.8" r="0.55" fill="#fff" opacity="0.56"/><circle cx="143.5" cy="381.8" r="0.48" fill="#fff" opacity="0.31"/><circle cx="104.1" cy="335.2" r="0.61" fill="#fff" opacity="0.72"/><circle cx="138.8" cy="369.3" r="0.50" fill="#fff" opacity="0.74"/><circle cx="151.5" cy="389.8" r="0.49" fill="#fff" opacity="0.56"/><circle cx="110.0" cy="339.8" r="0.56" fill="#fff" opacity="0.38"/><circle cx="142.6" cy="379.6" r="0.42" fill="#fff" opacity="0.80"/><circle cx="140.6" cy="362.9" r="0.63" fill="#fff" opacity="0.76"/><circle cx="97.8" cy="318.8" r="0.42" fill="#fff" opacity="0.39"/><circle cx="152.9" cy="385.8" r="0.52" fill="#fff" opacity="0.80"/><circle cx="107.7" cy="332.9" r="0.37" fill="#fff" opacity="0.69"/><circle cx="118.6" cy="345.6" r="0.58" fill="#fff" opacity="0.59"/><circle cx="134.6" cy="358.2" r="0.39" fill="#fff" opacity="0.56"/><circle cx="129.8" cy="359.8" r="0.36" fill="#fff" opacity="0.59"/><circle cx="117.3" cy="349.6" r="0.49" fill="#fff" opacity="0.48"/><circle cx="120.7" cy="340.8" r="0.54" fill="#fff" opacity="0.85"/><circle cx="128.1" cy="365.1" r="0.64" fill="#fff" opacity="0.73"/><circle cx="104.0" cy="341.9" r="0.44" fill="#fff" opacity="0.62"/><circle cx="111.8" cy="344.3" r="0.39" fill="#fff" opacity="0.54"/><circle cx="115.0" cy="351.8" r="0.41" fill="#fff" opacity="0.58"/><circle cx="121.4" cy="348.3" r="0.42" fill="#fff" opacity="0.86"/><circle cx="109.7" cy="335.6" r="0.47" fill="#fff" opacity="0.40"/><circle cx="129.1" cy="360.5" r="0.50" fill="#fff" opacity="0.68"/><circle cx="100.9" cy="328.9" r="0.37" fill="#fff" opacity="0.63"/><circle cx="90.1" cy="319.1" r="0.65" fill="#fff" opacity="0.40"/><circle cx="138.2" cy="371.5" r="0.60" fill="#fff" opacity="0.45"/><circle cx="113.5" cy="350.6" r="0.62" fill="#fff" opacity="0.59"/><circle cx="97.1" cy="334.6" r="0.55" fill="#fff" opacity="0.88"/><circle cx="147.0" cy="378.0" r="0.58" fill="#fff" opacity="0.82"/><circle cx="137.0" cy="374.6" r="0.58" fill="#fff" opacity="0.46"/><circle cx="138.2" cy="371.5" r="0.52" fill="#fff" opacity="0.27"/><circle cx="128.5" cy="361.1" r="0.58" fill="#fff" opacity="0.50"/><circle cx="120.6" cy="342.1" r="0.65" fill="#fff" opacity="0.82"/><circle cx="161.3" cy="393.2" r="0.66" fill="#fff" opacity="0.51"/><circle cx="110.5" cy="338.6" r="0.41" fill="#fff" opacity="0.57"/><circle cx="138.2" cy="370.1" r="0.63" fill="#fff" opacity="0.53"/><circle cx="121.6" cy="352.6" r="0.66" fill="#fff" opacity="0.39"/><circle cx="133.9" cy="357.2" r="0.67" fill="#fff" opacity="0.82"/><circle cx="152.9" cy="390.6" r="0.60" fill="#fff" opacity="0.73"/><circle cx="124.4" cy="352.3" r="0.47" fill="#fff" opacity="0.67"/><circle cx="132.1" cy="363.6" r="0.47" fill="#fff" opacity="0.53"/><circle cx="156.6" cy="391.6" r="0.65" fill="#fff" opacity="0.89"/><circle cx="106.3" cy="337.5" r="0.56" fill="#fff" opacity="0.57"/><circle cx="149.2" cy="383.5" r="0.51" fill="#fff" opacity="0.78"/><circle cx="123.5" cy="360.0" r="0.42" fill="#fff" opacity="0.58"/><circle cx="115.1" cy="342.7" r="0.63" fill="#fff" opacity="0.87"/><circle cx="128.3" cy="358.8" r="0.64" fill="#fff" opacity="0.74"/><circle cx="97.5" cy="320.5" r="0.52" fill="#fff" opacity="0.68"/><circle cx="150.0" cy="376.7" r="0.54" fill="#fff" opacity="0.40"/><circle cx="154.9" cy="387.1" r="0.49" fill="#fff" opacity="0.46"/><circle cx="125.4" cy="353.0" r="0.39" fill="#fff" opacity="0.86"/><circle cx="114.6" cy="344.0" r="0.51" fill="#fff" opacity="0.69"/><circle cx="135.0" cy="368.5" r="0.49" fill="#fff" opacity="0.65"/><circle cx="124.4" cy="347.3" r="0.58" fill="#fff" opacity="0.28"/><circle cx="108.6" cy="336.6" r="0.61" fill="#fff" opacity="0.64"/><circle cx="109.2" cy="343.2" r="0.43" fill="#fff" opacity="0.64"/><circle cx="139.3" cy="379.4" r="0.63" fill="#fff" opacity="0.87"/><circle cx="96.5" cy="324.3" r="0.52" fill="#fff" opacity="0.53"/><circle cx="133.9" cy="370.1" r="0.69" fill="#fff" opacity="0.87"/><circle cx="121.4" cy="350.0" r="0.56" fill="#fff" opacity="0.38"/><circle cx="128.6" cy="360.6" r="0.64" fill="#fff" opacity="0.37"/><circle cx="155.9" cy="386.7" r="0.60" fill="#fff" opacity="0.45"/><circle cx="98.0" cy="327.9" r="0.36" fill="#fff" opacity="0.29"/><circle cx="113.1" cy="350.7" r="0.63" fill="#fff" opacity="0.68"/><circle cx="126.6" cy="361.8" r="0.53" fill="#fff" opacity="0.30"/><circle cx="147.7" cy="372.3" r="0.45" fill="#fff" opacity="0.49"/><circle cx="110.5" cy="337.9" r="0.64" fill="#fff" opacity="0.35"/><circle cx="105.4" cy="334.2" r="0.47" fill="#fff" opacity="0.88"/><circle cx="153.3" cy="390.4" r="0.52" fill="#fff" opacity="0.62"/><circle cx="113.7" cy="346.8" r="0.64" fill="#fff" opacity="0.41"/><circle cx="134.9" cy="370.9" r="0.37" fill="#fff" opacity="0.33"/><circle cx="151.5" cy="375.9" r="0.51" fill="#fff" opacity="0.38"/><circle cx="92.4" cy="322.3" r="0.47" fill="#fff" opacity="0.52"/><circle cx="106.7" cy="341.2" r="0.48" fill="#fff" opacity="0.58"/><circle cx="121.7" cy="346.8" r="0.55" fill="#fff" opacity="0.84"/><circle cx="158.3" cy="394.2" r="0.36" fill="#fff" opacity="0.49"/><circle cx="146.1" cy="383.8" r="0.38" fill="#fff" opacity="0.78"/><circle cx="132.9" cy="368.0" r="0.36" fill="#fff" opacity="0.37"/><circle cx="147.2" cy="380.8" r="0.53" fill="#fff" opacity="0.71"/><circle cx="134.1" cy="363.6" r="0.60" fill="#fff" opacity="0.48"/><circle cx="105.2" cy="332.4" r="0.68" fill="#fff" opacity="0.28"/><circle cx="132.0" cy="360.3" r="0.45" fill="#fff" opacity="0.67"/><circle cx="99.7" cy="326.5" r="0.66" fill="#fff" opacity="0.81"/><circle cx="147.7" cy="376.4" r="0.69" fill="#fff" opacity="0.49"/><circle cx="131.3" cy="356.9" r="0.60" fill="#fff" opacity="0.29"/><circle cx="132.2" cy="367.0" r="0.61" fill="#fff" opacity="0.86"/><circle cx="119.0" cy="348.3" r="0.60" fill="#fff" opacity="0.76"/><circle cx="97.6" cy="327.8" r="0.43" fill="#fff" opacity="0.73"/><circle cx="91.9" cy="326.0" r="0.53" fill="#fff" opacity="0.48"/><circle cx="100.6" cy="329.5" r="0.41" fill="#fff" opacity="0.59"/><circle cx="116.9" cy="346.7" r="0.44" fill="#fff" opacity="0.29"/><circle cx="162.0" cy="397.8" r="0.52" fill="#fff" opacity="0.25"/><circle cx="145.8" cy="382.0" r="0.69" fill="#fff" opacity="0.59"/><circle cx="143.8" cy="375.9" r="0.37" fill="#fff" opacity="0.26"/><circle cx="146.8" cy="389.0" r="0.54" fill="#fff" opacity="0.76"/><circle cx="125.9" cy="354.5" r="0.56" fill="#fff" opacity="0.58"/><circle cx="119.3" cy="353.8" r="0.50" fill="#fff" opacity="0.67"/><circle cx="109.6" cy="344.7" r="0.63" fill="#fff" opacity="0.82"/><circle cx="134.1" cy="365.8" r="0.52" fill="#fff" opacity="0.70"/><circle cx="142.0" cy="374.1" r="0.43" fill="#fff" opacity="0.57"/><circle cx="95.2" cy="325.7" r="0.41" fill="#fff" opacity="0.52"/><circle cx="96.5" cy="321.2" r="0.70" fill="#fff" opacity="0.72"/><circle cx="122.4" cy="350.7" r="0.58" fill="#fff" opacity="0.79"/><circle cx="125.8" cy="352.8" r="0.65" fill="#fff" opacity="0.47"/><circle cx="122.3" cy="356.5" r="0.36" fill="#fff" opacity="0.56"/><circle cx="101.9" cy="330.9" r="0.35" fill="#fff" opacity="0.52"/><circle cx="123.1" cy="350.2" r="0.38" fill="#fff" opacity="0.52"/><circle cx="135.5" cy="373.5" r="0.63" fill="#fff" opacity="0.26"/><circle cx="104.6" cy="335.9" r="0.52" fill="#fff" opacity="0.62"/><circle cx="95.0" cy="324.0" r="0.61" fill="#fff" opacity="0.69"/><circle cx="106.4" cy="322.9" r="0.58" fill="#fff" opacity="0.87"/><circle cx="125.0" cy="360.1" r="0.36" fill="#fff" opacity="0.78"/><circle cx="114.7" cy="342.4" r="0.64" fill="#fff" opacity="0.84"/><circle cx="153.3" cy="385.6" r="0.40" fill="#fff" opacity="0.53"/><circle cx="105.1" cy="334.0" r="0.66" fill="#fff" opacity="0.27"/><circle cx="159.2" cy="389.3" r="0.53" fill="#fff" opacity="0.86"/><circle cx="104.2" cy="331.4" r="0.53" fill="#fff" opacity="0.47"/><circle cx="112.7" cy="341.7" r="0.64" fill="#fff" opacity="0.81"/><circle cx="155.7" cy="398.8" r="0.64" fill="#fff" opacity="0.86"/><circle cx="122.8" cy="357.5" r="0.48" fill="#fff" opacity="0.85"/><circle cx="99.1" cy="324.7" r="0.52" fill="#fff" opacity="0.64"/><circle cx="132.3" cy="357.1" r="0.57" fill="#fff" opacity="0.64"/><circle cx="130.4" cy="355.0" r="0.58" fill="#fff" opacity="0.39"/><circle cx="123.6" cy="347.9" r="0.44" fill="#fff" opacity="0.42"/><circle cx="142.4" cy="375.0" r="0.40" fill="#fff" opacity="0.65"/><circle cx="109.5" cy="338.9" r="0.68" fill="#fff" opacity="0.72"/><circle cx="144.5" cy="376.2" r="0.39" fill="#fff" opacity="0.67"/><circle cx="115.0" cy="351.1" r="0.48" fill="#fff" opacity="0.75"/><circle cx="116.7" cy="350.7" r="0.38" fill="#fff" opacity="0.46"/><circle cx="113.7" cy="341.5" r="0.63" fill="#fff" opacity="0.29"/><circle cx="111.1" cy="339.5" r="0.66" fill="#fff" opacity="0.30"/><circle cx="108.1" cy="336.2" r="0.65" fill="#fff" opacity="0.52"/><circle cx="144.9" cy="375.8" r="0.66" fill="#fff" opacity="0.32"/><circle cx="102.1" cy="329.4" r="0.58" fill="#fff" opacity="0.37"/><circle cx="131.3" cy="371.0" r="0.49" fill="#fff" opacity="0.44"/><circle cx="133.5" cy="362.5" r="0.55" fill="#fff" opacity="0.54"/><circle cx="112.6" cy="340.7" r="0.38" fill="#fff" opacity="0.44"/><circle cx="102.6" cy="330.8" r="0.41" fill="#fff" opacity="0.59"/><circle cx="142.0" cy="366.8" r="0.39" fill="#fff" opacity="0.29"/><circle cx="141.2" cy="374.4" r="0.68" fill="#fff" opacity="0.58"/><circle cx="148.6" cy="383.5" r="0.53" fill="#fff" opacity="0.89"/><circle cx="119.5" cy="341.5" r="0.57" fill="#fff" opacity="0.29"/><circle cx="137.1" cy="369.9" r="0.50" fill="#fff" opacity="0.62"/><circle cx="130.9" cy="363.9" r="0.46" fill="#fff" opacity="0.73"/><circle cx="122.5" cy="349.2" r="0.55" fill="#fff" opacity="0.69"/><circle cx="163.6" cy="394.2" r="0.38" fill="#fff" opacity="0.38"/><circle cx="101.4" cy="329.4" r="0.52" fill="#fff" opacity="0.41"/><circle cx="113.3" cy="339.3" r="0.51" fill="#fff" opacity="0.52"/><circle cx="116.9" cy="346.3" r="0.68" fill="#fff" opacity="0.70"/><circle cx="108.7" cy="344.6" r="0.48" fill="#fff" opacity="0.69"/><circle cx="160.8" cy="391.9" r="0.65" fill="#fff" opacity="0.39"/><circle cx="143.6" cy="374.4" r="0.62" fill="#fff" opacity="0.61"/><circle cx="118.8" cy="351.4" r="0.39" fill="#fff" opacity="0.48"/><circle cx="101.9" cy="327.0" r="0.51" fill="#fff" opacity="0.47"/><circle cx="157.4" cy="385.9" r="0.49" fill="#fff" opacity="0.89"/><circle cx="116.2" cy="342.8" r="0.41" fill="#fff" opacity="0.73"/><circle cx="156.0" cy="386.1" r="0.55" fill="#fff" opacity="0.81"/><circle cx="150.2" cy="387.6" r="0.63" fill="#fff" opacity="0.35"/><circle cx="103.6" cy="339.5" r="0.58" fill="#fff" opacity="0.30"/><circle cx="98.4" cy="319.4" r="0.52" fill="#fff" opacity="0.73"/><circle cx="134.4" cy="361.4" r="0.51" fill="#fff" opacity="0.33"/><circle cx="126.9" cy="355.4" r="0.58" fill="#fff" opacity="0.65"/><circle cx="119.0" cy="345.9" r="0.37" fill="#fff" opacity="0.47"/><circle cx="95.7" cy="316.9" r="0.59" fill="#fff" opacity="0.71"/><circle cx="119.8" cy="350.6" r="0.54" fill="#fff" opacity="0.76"/><circle cx="120.1" cy="346.9" r="0.46" fill="#fff" opacity="0.85"/><circle cx="114.1" cy="352.0" r="0.64" fill="#fff" opacity="0.69"/><circle cx="139.7" cy="376.6" r="0.50" fill="#fff" opacity="0.83"/><circle cx="104.9" cy="327.8" r="0.43" fill="#fff" opacity="0.88"/><circle cx="130.3" cy="358.5" r="0.43" fill="#fff" opacity="0.82"/><circle cx="154.0" cy="388.1" r="0.55" fill="#fff" opacity="0.37"/><circle cx="116.8" cy="342.7" r="0.56" fill="#fff" opacity="0.60"/><circle cx="130.1" cy="358.7" r="0.54" fill="#fff" opacity="0.70"/><circle cx="130.4" cy="372.3" r="0.49" fill="#fff" opacity="0.85"/><circle cx="121.0" cy="356.3" r="0.49" fill="#fff" opacity="0.87"/><circle cx="91.5" cy="320.3" r="0.61" fill="#fff" opacity="0.64"/><circle cx="118.4" cy="352.6" r="0.43" fill="#fff" opacity="0.76"/><circle cx="115.5" cy="349.0" r="0.50" fill="#fff" opacity="0.38"/><circle cx="106.7" cy="337.7" r="0.50" fill="#fff" opacity="0.67"/><circle cx="147.2" cy="381.4" r="0.37" fill="#fff" opacity="0.26"/><circle cx="93.0" cy="325.0" r="0.36" fill="#fff" opacity="0.50"/><circle cx="131.7" cy="366.7" r="0.44" fill="#fff" opacity="0.31"/><circle cx="128.8" cy="356.4" r="0.57" fill="#fff" opacity="0.37"/><circle cx="95.6" cy="323.7" r="0.54" fill="#fff" opacity="0.35"/><circle cx="134.1" cy="368.1" r="0.54" fill="#fff" opacity="0.75"/><circle cx="109.5" cy="337.6" r="0.36" fill="#fff" opacity="0.86"/><circle cx="108.3" cy="342.6" r="0.56" fill="#fff" opacity="0.65"/><circle cx="155.7" cy="384.1" r="0.51" fill="#fff" opacity="0.84"/><circle cx="118.7" cy="344.0" r="0.62" fill="#fff" opacity="0.84"/><circle cx="113.7" cy="348.6" r="0.43" fill="#fff" opacity="0.72"/><circle cx="135.7" cy="365.4" r="0.44" fill="#fff" opacity="0.49"/><circle cx="128.8" cy="355.5" r="0.57" fill="#fff" opacity="0.46"/><circle cx="108.0" cy="341.5" r="0.51" fill="#fff" opacity="0.83"/><circle cx="127.9" cy="362.7" r="0.51" fill="#fff" opacity="0.67"/><circle cx="98.9" cy="329.8" r="0.69" fill="#fff" opacity="0.64"/><circle cx="155.5" cy="380.4" r="0.69" fill="#fff" opacity="0.82"/><circle cx="122.7" cy="353.6" r="0.62" fill="#fff" opacity="0.63"/><circle cx="119.1" cy="354.0" r="0.36" fill="#fff" opacity="0.41"/><circle cx="114.5" cy="347.7" r="0.68" fill="#fff" opacity="0.37"/><circle cx="113.7" cy="340.9" r="0.56" fill="#fff" opacity="0.28"/><circle cx="102.2" cy="324.7" r="0.41" fill="#fff" opacity="0.60"/><circle cx="156.4" cy="386.3" r="0.52" fill="#fff" opacity="0.87"/><circle cx="116.0" cy="347.1" r="0.51" fill="#fff" opacity="0.75"/><circle cx="103.6" cy="334.0" r="0.53" fill="#fff" opacity="0.90"/><circle cx="93.3" cy="325.2" r="0.68" fill="#fff" opacity="0.61"/><circle cx="155.5" cy="398.2" r="0.42" fill="#fff" opacity="0.75"/><circle cx="114.5" cy="344.5" r="0.46" fill="#fff" opacity="0.85"/><circle cx="145.9" cy="379.6" r="0.68" fill="#fff" opacity="0.38"/><circle cx="102.1" cy="334.7" r="0.67" fill="#fff" opacity="0.33"/><circle cx="143.9" cy="380.0" r="0.53" fill="#fff" opacity="0.62"/><circle cx="98.6" cy="329.3" r="0.53" fill="#fff" opacity="0.76"/><circle cx="140.5" cy="365.9" r="0.69" fill="#fff" opacity="0.45"/><circle cx="92.6" cy="327.8" r="0.65" fill="#fff" opacity="0.34"/><circle cx="98.2" cy="323.1" r="0.63" fill="#fff" opacity="0.38"/><circle cx="120.2" cy="352.5" r="0.59" fill="#fff" opacity="0.60"/><circle cx="118.7" cy="352.2" r="0.56" fill="#fff" opacity="0.76"/><circle cx="115.0" cy="344.5" r="0.63" fill="#fff" opacity="0.78"/><circle cx="141.9" cy="374.6" r="0.68" fill="#fff" opacity="0.61"/><circle cx="123.3" cy="350.2" r="0.44" fill="#fff" opacity="0.72"/><circle cx="97.4" cy="321.1" r="0.57" fill="#fff" opacity="0.60"/><circle cx="160.0" cy="395.7" r="0.36" fill="#fff" opacity="0.38"/><circle cx="109.4" cy="336.3" r="0.47" fill="#fff" opacity="0.26"/><circle cx="136.8" cy="377.4" r="0.53" fill="#fff" opacity="0.34"/><circle cx="122.5" cy="348.6" r="0.47" fill="#fff" opacity="0.75"/><circle cx="110.3" cy="336.3" r="0.57" fill="#fff" opacity="0.62"/><circle cx="135.9" cy="363.8" r="0.69" fill="#fff" opacity="0.40"/><circle cx="103.8" cy="327.1" r="0.51" fill="#fff" opacity="0.66"/><circle cx="141.9" cy="379.7" r="0.51" fill="#fff" opacity="0.69"/><circle cx="112.7" cy="338.6" r="0.67" fill="#fff" opacity="0.83"/><circle cx="162.2" cy="390.7" r="0.67" fill="#fff" opacity="0.82"/><circle cx="96.9" cy="328.2" r="0.64" fill="#fff" opacity="0.80"/><circle cx="119.5" cy="352.5" r="0.50" fill="#fff" opacity="0.87"/><circle cx="125.9" cy="353.2" r="0.44" fill="#fff" opacity="0.46"/><circle cx="128.1" cy="359.2" r="0.67" fill="#fff" opacity="0.39"/><circle cx="145.5" cy="373.5" r="0.38" fill="#fff" opacity="0.34"/><circle cx="130.9" cy="364.4" r="0.38" fill="#fff" opacity="0.40"/><circle cx="102.3" cy="332.5" r="0.41" fill="#fff" opacity="0.84"/><circle cx="115.9" cy="345.3" r="0.62" fill="#fff" opacity="0.25"/><circle cx="120.4" cy="352.5" r="0.49" fill="#fff" opacity="0.31"/><circle cx="130.4" cy="363.2" r="0.56" fill="#fff" opacity="0.84"/><circle cx="124.2" cy="348.1" r="0.46" fill="#fff" opacity="0.42"/><circle cx="125.6" cy="355.0" r="0.66" fill="#fff" opacity="0.72"/><circle cx="155.0" cy="389.0" r="0.47" fill="#fff" opacity="0.64"/><circle cx="92.8" cy="318.9" r="0.38" fill="#fff" opacity="0.41"/><circle cx="100.7" cy="323.2" r="0.54" fill="#fff" opacity="0.77"/><circle cx="105.6" cy="345.8" r="0.36" fill="#fff" opacity="0.58"/><circle cx="99.7" cy="326.4" r="0.58" fill="#fff" opacity="0.55"/><circle cx="132.2" cy="364.1" r="0.68" fill="#fff" opacity="0.75"/><circle cx="102.2" cy="322.3" r="0.68" fill="#fff" opacity="0.45"/><circle cx="114.2" cy="340.2" r="0.41" fill="#fff" opacity="0.53"/><circle cx="109.1" cy="337.1" r="0.40" fill="#fff" opacity="0.27"/><circle cx="146.9" cy="376.9" r="0.39" fill="#fff" opacity="0.70"/><circle cx="111.0" cy="339.9" r="0.65" fill="#fff" opacity="0.78"/><circle cx="148.7" cy="386.7" r="0.41" fill="#fff" opacity="0.39"/><circle cx="149.0" cy="386.9" r="0.69" fill="#fff" opacity="0.53"/><circle cx="138.1" cy="361.3" r="0.63" fill="#fff" opacity="0.73"/><circle cx="139.3" cy="374.7" r="0.47" fill="#fff" opacity="0.61"/><circle cx="115.8" cy="346.9" r="0.59" fill="#fff" opacity="0.86"/><circle cx="150.7" cy="380.8" r="0.63" fill="#fff" opacity="0.69"/><circle cx="117.2" cy="349.0" r="0.53" fill="#fff" opacity="0.78"/><circle cx="127.0" cy="356.4" r="0.41" fill="#fff" opacity="0.46"/><circle cx="148.9" cy="378.4" r="0.54" fill="#fff" opacity="0.76"/><circle cx="162.7" cy="396.8" r="0.41" fill="#fff" opacity="0.34"/><circle cx="137.0" cy="379.2" r="0.67" fill="#fff" opacity="0.52"/><circle cx="139.7" cy="372.7" r="0.62" fill="#fff" opacity="0.63"/><circle cx="134.9" cy="363.8" r="0.47" fill="#fff" opacity="0.70"/><circle cx="124.0" cy="358.6" r="0.68" fill="#fff" opacity="0.68"/><circle cx="99.5" cy="325.7" r="0.36" fill="#fff" opacity="0.25"/><circle cx="149.2" cy="383.3" r="0.46" fill="#fff" opacity="0.62"/><circle cx="101.3" cy="329.3" r="0.65" fill="#fff" opacity="0.60"/><circle cx="91.7" cy="318.8" r="0.48" fill="#fff" opacity="0.38"/><circle cx="123.4" cy="357.3" r="0.37" fill="#fff" opacity="0.87"/><circle cx="120.1" cy="356.9" r="0.45" fill="#fff" opacity="0.78"/><circle cx="150.1" cy="386.1" r="0.69" fill="#fff" opacity="0.46"/><circle cx="105.6" cy="343.3" r="0.64" fill="#fff" opacity="0.59"/><circle cx="150.7" cy="382.4" r="0.41" fill="#fff" opacity="0.55"/><circle cx="112.6" cy="342.2" r="0.43" fill="#fff" opacity="0.58"/><circle cx="115.5" cy="347.5" r="0.47" fill="#fff" opacity="0.71"/><circle cx="108.0" cy="344.4" r="0.48" fill="#fff" opacity="0.60"/><circle cx="119.8" cy="345.5" r="0.58" fill="#fff" opacity="0.57"/><circle cx="132.2" cy="362.6" r="0.54" fill="#fff" opacity="0.77"/><circle cx="148.7" cy="378.0" r="0.44" fill="#fff" opacity="0.61"/><circle cx="117.0" cy="347.9" r="0.38" fill="#fff" opacity="0.68"/><circle cx="118.8" cy="354.0" r="0.36" fill="#fff" opacity="0.86"/><circle cx="147.4" cy="388.4" r="0.60" fill="#fff" opacity="0.39"/><circle cx="95.5" cy="322.3" r="0.65" fill="#fff" opacity="0.33"/><circle cx="100.4" cy="323.4" r="0.42" fill="#fff" opacity="0.88"/><circle cx="101.9" cy="326.2" r="0.55" fill="#fff" opacity="0.39"/><circle cx="111.7" cy="347.7" r="0.35" fill="#fff" opacity="0.42"/><circle cx="130.9" cy="369.5" r="0.39" fill="#fff" opacity="0.48"/><circle cx="130.4" cy="371.2" r="0.40" fill="#fff" opacity="0.45"/><circle cx="156.1" cy="385.9" r="0.38" fill="#fff" opacity="0.61"/><circle cx="91.0" cy="320.7" r="0.50" fill="#fff" opacity="0.53"/><circle cx="150.2" cy="385.4" r="0.63" fill="#fff" opacity="0.39"/><circle cx="106.6" cy="323.5" r="0.58" fill="#fff" opacity="0.66"/><circle cx="147.6" cy="386.3" r="0.69" fill="#fff" opacity="0.28"/><circle cx="110.4" cy="338.9" r="0.42" fill="#fff" opacity="0.42"/><circle cx="157.8" cy="400.7" r="0.49" fill="#fff" opacity="0.41"/><circle cx="117.7" cy="356.2" r="0.60" fill="#fff" opacity="0.41"/><circle cx="156.5" cy="399.8" r="0.54" fill="#fff" opacity="0.40"/><circle cx="140.2" cy="383.5" r="0.55" fill="#fff" opacity="0.39"/><circle cx="129.4" cy="367.5" r="0.63" fill="#fff" opacity="0.77"/><circle cx="137.6" cy="371.4" r="0.56" fill="#fff" opacity="0.68"/><circle cx="103.6" cy="324.7" r="0.62" fill="#fff" opacity="0.89"/><circle cx="150.0" cy="382.9" r="0.44" fill="#fff" opacity="0.74"/><circle cx="118.9" cy="343.4" r="0.45" fill="#fff" opacity="0.77"/><circle cx="135.4" cy="365.4" r="0.50" fill="#fff" opacity="0.85"/><circle cx="159.1" cy="394.0" r="0.57" fill="#fff" opacity="0.58"/><circle cx="136.1" cy="369.6" r="0.39" fill="#fff" opacity="0.50"/><circle cx="90.2" cy="322.5" r="0.48" fill="#fff" opacity="0.79"/><circle cx="150.4" cy="388.4" r="0.43" fill="#fff" opacity="0.30"/><circle cx="108.8" cy="330.8" r="0.37" fill="#fff" opacity="0.30"/><circle cx="139.1" cy="364.9" r="0.66" fill="#fff" opacity="0.86"/><circle cx="120.0" cy="347.4" r="0.69" fill="#fff" opacity="0.41"/><circle cx="149.8" cy="382.1" r="0.38" fill="#fff" opacity="0.78"/><circle cx="92.1" cy="324.3" r="0.41" fill="#fff" opacity="0.32"/></g>
<line x1="22.8" y1="408.2" x2="45" y2="408.2" stroke="#eee" stroke-width="1.6"/>
<text x="-0.4" y="246.6" style="font-family:'Liberation Sans',Arial,sans-serif;font-weight:bold;font-size:16px" fill="#111">d</text>
<rect x="200" y="256" width="163" height="160.5" fill="#121612"/>
<g clip-path="url(#cpe)"><ellipse cx="296" cy="355" rx="80" ry="32" transform="rotate(52 296 355)" fill="#34463a" opacity="0.5" filter="url(#b12)"/><ellipse cx="266" cy="316" rx="27.0" ry="17.6" transform="rotate(52 266 316)" fill="#c0de52" opacity="0.285" filter="url(#b6)"/><ellipse cx="266" cy="316" rx="18" ry="11" transform="rotate(52 266 316)" fill="#c0de52" opacity="0.6649999999999999" filter="url(#b4)"/><ellipse cx="288.5" cy="342.5" rx="24.0" ry="17.6" transform="rotate(52 288.5 342.5)" fill="#5078d0" opacity="0.255" filter="url(#b6)"/><ellipse cx="288.5" cy="342.5" rx="16" ry="11" transform="rotate(52 288.5 342.5)" fill="#5078d0" opacity="0.595" filter="url(#b4)"/><ellipse cx="309" cy="371" rx="24.0" ry="15.200000000000001" transform="rotate(52 309 371)" fill="#3cb844" opacity="0.27" filter="url(#b6)"/><ellipse cx="309" cy="371" rx="16" ry="9.5" transform="rotate(52 309 371)" fill="#3cb844" opacity="0.63" filter="url(#b4)"/><ellipse cx="326" cy="394" rx="16.5" ry="12.0" transform="rotate(52 326 394)" fill="#d03a28" opacity="0.27" filter="url(#b6)"/><ellipse cx="326" cy="394" rx="11" ry="7.5" transform="rotate(52 326 394)" fill="#d03a28" opacity="0.63" filter="url(#b4)"/><circle cx="262.7" cy="304.7" r="0.55" fill="#c0de52" opacity="0.22"/><circle cx="263.9" cy="314.5" r="0.51" fill="#c0de52" opacity="0.53"/><circle cx="271.0" cy="318.0" r="0.55" fill="#c0de52" opacity="0.30"/><circle cx="264.1" cy="313.1" r="0.55" fill="#c0de52" opacity="0.57"/><circle cx="276.7" cy="311.5" r="0.34" fill="#c0de52" opacity="0.56"/><circle cx="265.3" cy="304.2" r="0.39" fill="#c0de52" opacity="0.59"/><circle cx="274.1" cy="308.0" r="0.38" fill="#c0de52" opacity="0.42"/><circle cx="269.0" cy="326.0" r="0.35" fill="#c0de52" opacity="0.26"/><circle cx="266.5" cy="298.5" r="0.38" fill="#c0de52" opacity="0.22"/><circle cx="259.1" cy="322.3" r="0.41" fill="#c0de52" opacity="0.44"/><circle cx="270.9" cy="319.8" r="0.40" fill="#c0de52" opacity="0.22"/><circle cx="268.3" cy="323.9" r="0.47" fill="#c0de52" opacity="0.32"/><circle cx="273.5" cy="312.4" r="0.37" fill="#c0de52" opacity="0.50"/><circle cx="255.4" cy="307.6" r="0.55" fill="#c0de52" opacity="0.51"/><circle cx="280.0" cy="312.4" r="0.47" fill="#c0de52" opacity="0.35"/><circle cx="270.7" cy="315.5" r="0.32" fill="#c0de52" opacity="0.52"/><circle cx="262.1" cy="317.6" r="0.55" fill="#c0de52" opacity="0.30"/><circle cx="266.0" cy="312.3" r="0.36" fill="#c0de52" opacity="0.30"/><circle cx="273.6" cy="320.2" r="0.50" fill="#c0de52" opacity="0.46"/><circle cx="270.1" cy="307.4" r="0.45" fill="#c0de52" opacity="0.30"/><circle cx="270.4" cy="316.7" r="0.49" fill="#c0de52" opacity="0.18"/><circle cx="268.3" cy="312.7" r="0.36" fill="#c0de52" opacity="0.37"/><circle cx="279.9" cy="319.0" r="0.51" fill="#c0de52" opacity="0.51"/><circle cx="262.3" cy="311.5" r="0.37" fill="#c0de52" opacity="0.34"/><circle cx="270.3" cy="322.8" r="0.30" fill="#c0de52" opacity="0.16"/><circle cx="263.6" cy="316.8" r="0.37" fill="#c0de52" opacity="0.35"/><circle cx="260.4" cy="317.9" r="0.41" fill="#c0de52" opacity="0.31"/><circle cx="260.6" cy="318.9" r="0.43" fill="#c0de52" opacity="0.17"/><circle cx="264.0" cy="313.7" r="0.35" fill="#c0de52" opacity="0.26"/><circle cx="264.0" cy="323.3" r="0.39" fill="#c0de52" opacity="0.36"/><circle cx="276.8" cy="322.8" r="0.59" fill="#c0de52" opacity="0.33"/><circle cx="279.4" cy="326.0" r="0.33" fill="#c0de52" opacity="0.52"/><circle cx="265.6" cy="315.5" r="0.52" fill="#c0de52" opacity="0.48"/><circle cx="263.7" cy="301.5" r="0.59" fill="#c0de52" opacity="0.58"/><circle cx="262.8" cy="302.3" r="0.54" fill="#c0de52" opacity="0.58"/><circle cx="261.6" cy="317.6" r="0.57" fill="#c0de52" opacity="0.54"/><circle cx="277.3" cy="321.0" r="0.42" fill="#c0de52" opacity="0.16"/><circle cx="269.3" cy="304.4" r="0.38" fill="#c0de52" opacity="0.16"/><circle cx="276.5" cy="324.1" r="0.36" fill="#c0de52" opacity="0.24"/><circle cx="266.3" cy="309.9" r="0.41" fill="#c0de52" opacity="0.20"/><circle cx="262.8" cy="309.6" r="0.55" fill="#c0de52" opacity="0.21"/><circle cx="273.4" cy="322.6" r="0.42" fill="#c0de52" opacity="0.37"/><circle cx="263.4" cy="316.7" r="0.59" fill="#c0de52" opacity="0.34"/><circle cx="250.6" cy="314.9" r="0.59" fill="#c0de52" opacity="0.46"/><circle cx="256.8" cy="286.9" r="0.45" fill="#c0de52" opacity="0.35"/><circle cx="250.5" cy="291.3" r="0.39" fill="#c0de52" opacity="0.45"/><circle cx="265.6" cy="316.9" r="0.43" fill="#c0de52" opacity="0.31"/><circle cx="260.3" cy="310.9" r="0.41" fill="#c0de52" opacity="0.58"/><circle cx="255.5" cy="302.6" r="0.46" fill="#c0de52" opacity="0.31"/><circle cx="251.1" cy="300.1" r="0.36" fill="#c0de52" opacity="0.51"/><circle cx="261.9" cy="315.5" r="0.54" fill="#c0de52" opacity="0.34"/><circle cx="275.1" cy="324.2" r="0.41" fill="#c0de52" opacity="0.37"/><circle cx="281.9" cy="327.3" r="0.34" fill="#c0de52" opacity="0.25"/><circle cx="261.1" cy="307.8" r="0.35" fill="#c0de52" opacity="0.56"/><circle cx="265.5" cy="310.9" r="0.36" fill="#c0de52" opacity="0.40"/><circle cx="265.9" cy="319.0" r="0.33" fill="#c0de52" opacity="0.43"/><circle cx="258.8" cy="313.8" r="0.34" fill="#c0de52" opacity="0.58"/><circle cx="264.5" cy="318.2" r="0.31" fill="#c0de52" opacity="0.30"/><circle cx="260.5" cy="307.0" r="0.57" fill="#c0de52" opacity="0.18"/><circle cx="263.3" cy="316.0" r="0.41" fill="#c0de52" opacity="0.19"/><circle cx="247.6" cy="303.6" r="0.48" fill="#c0de52" opacity="0.58"/><circle cx="256.3" cy="305.5" r="0.57" fill="#c0de52" opacity="0.37"/><circle cx="271.6" cy="316.3" r="0.33" fill="#c0de52" opacity="0.25"/><circle cx="263.9" cy="305.5" r="0.41" fill="#c0de52" opacity="0.38"/><circle cx="273.9" cy="325.0" r="0.60" fill="#c0de52" opacity="0.49"/><circle cx="271.0" cy="317.9" r="0.43" fill="#c0de52" opacity="0.35"/><circle cx="266.1" cy="310.8" r="0.32" fill="#c0de52" opacity="0.22"/><circle cx="255.3" cy="303.8" r="0.38" fill="#c0de52" opacity="0.17"/><circle cx="261.4" cy="318.3" r="0.43" fill="#c0de52" opacity="0.22"/><circle cx="263.5" cy="310.2" r="0.34" fill="#c0de52" opacity="0.35"/><circle cx="259.6" cy="307.8" r="0.32" fill="#c0de52" opacity="0.47"/><circle cx="269.4" cy="304.9" r="0.30" fill="#c0de52" opacity="0.57"/><circle cx="260.5" cy="312.6" r="0.51" fill="#c0de52" opacity="0.40"/><circle cx="255.9" cy="298.5" r="0.45" fill="#c0de52" opacity="0.46"/><circle cx="269.8" cy="311.5" r="0.44" fill="#c0de52" opacity="0.52"/><circle cx="263.4" cy="314.8" r="0.45" fill="#c0de52" opacity="0.38"/><circle cx="255.9" cy="327.6" r="0.31" fill="#c0de52" opacity="0.40"/><circle cx="261.9" cy="317.3" r="0.46" fill="#c0de52" opacity="0.34"/><circle cx="262.0" cy="329.7" r="0.31" fill="#c0de52" opacity="0.51"/><circle cx="272.7" cy="306.1" r="0.33" fill="#c0de52" opacity="0.44"/><circle cx="254.6" cy="326.3" r="0.51" fill="#c0de52" opacity="0.17"/><circle cx="277.9" cy="324.6" r="0.55" fill="#c0de52" opacity="0.43"/><circle cx="254.8" cy="322.3" r="0.57" fill="#c0de52" opacity="0.40"/><circle cx="262.2" cy="319.1" r="0.53" fill="#c0de52" opacity="0.19"/><circle cx="262.8" cy="303.2" r="0.54" fill="#c0de52" opacity="0.15"/><circle cx="280.2" cy="321.6" r="0.40" fill="#c0de52" opacity="0.46"/><circle cx="272.8" cy="318.1" r="0.37" fill="#c0de52" opacity="0.53"/><circle cx="276.9" cy="310.9" r="0.50" fill="#c0de52" opacity="0.51"/><circle cx="265.4" cy="314.9" r="0.41" fill="#c0de52" opacity="0.40"/><circle cx="255.1" cy="317.8" r="0.31" fill="#c0de52" opacity="0.41"/><circle cx="258.3" cy="325.2" r="0.58" fill="#c0de52" opacity="0.56"/><circle cx="256.5" cy="314.9" r="0.47" fill="#c0de52" opacity="0.44"/><circle cx="275.4" cy="311.8" r="0.52" fill="#c0de52" opacity="0.22"/><circle cx="268.1" cy="315.7" r="0.50" fill="#c0de52" opacity="0.28"/><circle cx="266.3" cy="317.2" r="0.42" fill="#c0de52" opacity="0.46"/><circle cx="266.6" cy="320.4" r="0.55" fill="#c0de52" opacity="0.20"/><circle cx="267.2" cy="299.5" r="0.57" fill="#c0de52" opacity="0.19"/><circle cx="274.4" cy="308.8" r="0.44" fill="#c0de52" opacity="0.52"/><circle cx="260.9" cy="301.2" r="0.31" fill="#c0de52" opacity="0.51"/><circle cx="262.7" cy="316.8" r="0.30" fill="#c0de52" opacity="0.31"/><circle cx="257.7" cy="320.0" r="0.54" fill="#c0de52" opacity="0.49"/><circle cx="257.4" cy="296.4" r="0.45" fill="#c0de52" opacity="0.42"/><circle cx="245.3" cy="289.1" r="0.45" fill="#c0de52" opacity="0.52"/><circle cx="256.7" cy="311.0" r="0.46" fill="#c0de52" opacity="0.28"/><circle cx="276.4" cy="330.4" r="0.53" fill="#c0de52" opacity="0.41"/><circle cx="268.7" cy="317.5" r="0.51" fill="#c0de52" opacity="0.18"/><circle cx="254.9" cy="303.7" r="0.33" fill="#c0de52" opacity="0.55"/><circle cx="282.6" cy="326.0" r="0.47" fill="#c0de52" opacity="0.38"/><circle cx="256.5" cy="308.5" r="0.43" fill="#c0de52" opacity="0.18"/><circle cx="261.9" cy="316.9" r="0.44" fill="#c0de52" opacity="0.25"/><circle cx="276.1" cy="330.4" r="0.38" fill="#c0de52" opacity="0.45"/><circle cx="267.9" cy="314.8" r="0.55" fill="#c0de52" opacity="0.31"/><circle cx="275.8" cy="330.4" r="0.55" fill="#c0de52" opacity="0.19"/><circle cx="255.1" cy="320.9" r="0.55" fill="#c0de52" opacity="0.43"/><circle cx="267.0" cy="315.0" r="0.48" fill="#c0de52" opacity="0.31"/><circle cx="251.4" cy="312.3" r="0.37" fill="#c0de52" opacity="0.42"/><circle cx="273.5" cy="303.7" r="0.54" fill="#c0de52" opacity="0.17"/><circle cx="255.4" cy="313.1" r="0.48" fill="#c0de52" opacity="0.59"/><circle cx="261.1" cy="327.4" r="0.31" fill="#c0de52" opacity="0.59"/><circle cx="258.6" cy="314.7" r="0.50" fill="#c0de52" opacity="0.56"/><circle cx="255.9" cy="308.1" r="0.36" fill="#c0de52" opacity="0.52"/><circle cx="264.8" cy="313.0" r="0.58" fill="#c0de52" opacity="0.40"/><circle cx="252.1" cy="295.7" r="0.44" fill="#c0de52" opacity="0.51"/><circle cx="256.4" cy="300.5" r="0.41" fill="#c0de52" opacity="0.52"/><circle cx="271.7" cy="312.7" r="0.55" fill="#c0de52" opacity="0.55"/><circle cx="275.1" cy="331.1" r="0.43" fill="#c0de52" opacity="0.56"/><circle cx="264.6" cy="302.9" r="0.51" fill="#c0de52" opacity="0.25"/><circle cx="252.0" cy="307.0" r="0.58" fill="#c0de52" opacity="0.26"/><circle cx="280.1" cy="325.5" r="0.32" fill="#c0de52" opacity="0.49"/><circle cx="266.6" cy="317.1" r="0.40" fill="#c0de52" opacity="0.46"/><circle cx="253.1" cy="314.3" r="0.34" fill="#c0de52" opacity="0.50"/><circle cx="272.7" cy="319.2" r="0.39" fill="#c0de52" opacity="0.53"/><circle cx="272.5" cy="303.6" r="0.56" fill="#c0de52" opacity="0.25"/><circle cx="256.9" cy="321.1" r="0.43" fill="#c0de52" opacity="0.57"/><circle cx="259.9" cy="321.1" r="0.32" fill="#c0de52" opacity="0.32"/><circle cx="261.4" cy="311.4" r="0.60" fill="#c0de52" opacity="0.22"/><circle cx="261.2" cy="314.2" r="0.45" fill="#c0de52" opacity="0.55"/><circle cx="275.4" cy="334.6" r="0.52" fill="#c0de52" opacity="0.43"/><circle cx="268.4" cy="315.7" r="0.34" fill="#c0de52" opacity="0.23"/><circle cx="273.4" cy="319.4" r="0.32" fill="#c0de52" opacity="0.34"/><circle cx="255.2" cy="312.9" r="0.48" fill="#c0de52" opacity="0.55"/><circle cx="276.6" cy="320.2" r="0.40" fill="#c0de52" opacity="0.27"/><circle cx="268.2" cy="320.7" r="0.45" fill="#c0de52" opacity="0.20"/><circle cx="265.8" cy="309.2" r="0.60" fill="#c0de52" opacity="0.22"/><circle cx="266.6" cy="327.5" r="0.44" fill="#c0de52" opacity="0.30"/><circle cx="269.6" cy="320.3" r="0.42" fill="#c0de52" opacity="0.57"/><circle cx="271.9" cy="321.5" r="0.45" fill="#c0de52" opacity="0.23"/><circle cx="267.1" cy="316.7" r="0.40" fill="#c0de52" opacity="0.48"/><circle cx="254.4" cy="308.2" r="0.40" fill="#c0de52" opacity="0.26"/><circle cx="278.0" cy="324.4" r="0.33" fill="#c0de52" opacity="0.18"/><circle cx="278.1" cy="317.8" r="0.48" fill="#c0de52" opacity="0.35"/><circle cx="273.0" cy="314.9" r="0.48" fill="#c0de52" opacity="0.37"/><circle cx="270.4" cy="308.6" r="0.52" fill="#c0de52" opacity="0.58"/><circle cx="265.7" cy="309.3" r="0.47" fill="#c0de52" opacity="0.45"/><circle cx="273.3" cy="317.0" r="0.45" fill="#c0de52" opacity="0.32"/><circle cx="276.2" cy="309.4" r="0.36" fill="#c0de52" opacity="0.31"/><circle cx="270.3" cy="313.5" r="0.35" fill="#c0de52" opacity="0.43"/><circle cx="273.7" cy="310.7" r="0.31" fill="#c0de52" opacity="0.19"/><circle cx="259.8" cy="318.3" r="0.35" fill="#c0de52" opacity="0.35"/><circle cx="266.5" cy="317.9" r="0.55" fill="#c0de52" opacity="0.23"/><circle cx="261.6" cy="315.1" r="0.58" fill="#c0de52" opacity="0.44"/><circle cx="268.2" cy="330.4" r="0.31" fill="#c0de52" opacity="0.39"/><circle cx="267.1" cy="322.8" r="0.54" fill="#c0de52" opacity="0.33"/><circle cx="261.1" cy="324.3" r="0.42" fill="#c0de52" opacity="0.44"/><circle cx="265.9" cy="302.1" r="0.32" fill="#c0de52" opacity="0.15"/><circle cx="258.6" cy="315.7" r="0.53" fill="#c0de52" opacity="0.45"/><circle cx="272.3" cy="319.7" r="0.55" fill="#c0de52" opacity="0.45"/><circle cx="265.2" cy="310.9" r="0.48" fill="#c0de52" opacity="0.53"/><circle cx="270.0" cy="310.9" r="0.47" fill="#c0de52" opacity="0.39"/><circle cx="265.0" cy="316.6" r="0.32" fill="#c0de52" opacity="0.57"/><circle cx="276.5" cy="318.1" r="0.33" fill="#c0de52" opacity="0.31"/><circle cx="276.3" cy="318.3" r="0.31" fill="#c0de52" opacity="0.60"/><circle cx="260.6" cy="306.9" r="0.31" fill="#c0de52" opacity="0.54"/><circle cx="262.7" cy="313.8" r="0.52" fill="#c0de52" opacity="0.37"/><circle cx="265.4" cy="323.7" r="0.30" fill="#c0de52" opacity="0.41"/><circle cx="271.5" cy="314.8" r="0.52" fill="#c0de52" opacity="0.26"/><circle cx="271.8" cy="318.4" r="0.43" fill="#c0de52" opacity="0.32"/><circle cx="243.1" cy="292.4" r="0.60" fill="#c0de52" opacity="0.59"/><circle cx="257.9" cy="300.2" r="0.38" fill="#c0de52" opacity="0.60"/><circle cx="261.0" cy="313.0" r="0.44" fill="#c0de52" opacity="0.29"/><circle cx="247.1" cy="297.2" r="0.43" fill="#c0de52" opacity="0.32"/><circle cx="272.5" cy="320.1" r="0.57" fill="#c0de52" opacity="0.40"/><circle cx="253.0" cy="307.2" r="0.58" fill="#c0de52" opacity="0.23"/><circle cx="264.2" cy="316.1" r="0.57" fill="#c0de52" opacity="0.50"/><circle cx="262.2" cy="304.1" r="0.60" fill="#c0de52" opacity="0.21"/><circle cx="248.8" cy="316.6" r="0.60" fill="#c0de52" opacity="0.54"/><circle cx="274.4" cy="322.8" r="0.54" fill="#c0de52" opacity="0.54"/><circle cx="264.0" cy="307.2" r="0.43" fill="#c0de52" opacity="0.37"/><circle cx="276.2" cy="315.7" r="0.44" fill="#c0de52" opacity="0.24"/><circle cx="259.9" cy="299.7" r="0.31" fill="#c0de52" opacity="0.16"/><circle cx="278.4" cy="331.3" r="0.55" fill="#c0de52" opacity="0.36"/><circle cx="265.2" cy="314.5" r="0.57" fill="#c0de52" opacity="0.47"/><circle cx="271.6" cy="323.3" r="0.33" fill="#c0de52" opacity="0.34"/><circle cx="255.1" cy="309.5" r="0.49" fill="#c0de52" opacity="0.52"/><circle cx="260.9" cy="311.8" r="0.51" fill="#c0de52" opacity="0.57"/><circle cx="248.8" cy="310.3" r="0.58" fill="#c0de52" opacity="0.34"/><circle cx="265.7" cy="303.1" r="0.37" fill="#c0de52" opacity="0.52"/><circle cx="263.5" cy="303.7" r="0.37" fill="#c0de52" opacity="0.32"/><circle cx="263.2" cy="312.8" r="0.60" fill="#c0de52" opacity="0.41"/><circle cx="277.1" cy="322.5" r="0.50" fill="#c0de52" opacity="0.45"/><circle cx="276.1" cy="341.2" r="0.47" fill="#c0de52" opacity="0.45"/><circle cx="268.2" cy="324.5" r="0.58" fill="#c0de52" opacity="0.27"/><circle cx="260.6" cy="323.5" r="0.32" fill="#c0de52" opacity="0.55"/><circle cx="280.9" cy="334.5" r="0.42" fill="#c0de52" opacity="0.42"/><circle cx="275.9" cy="311.9" r="0.55" fill="#c0de52" opacity="0.54"/><circle cx="275.4" cy="319.8" r="0.54" fill="#c0de52" opacity="0.47"/><circle cx="263.7" cy="318.0" r="0.54" fill="#c0de52" opacity="0.19"/><circle cx="276.9" cy="322.8" r="0.40" fill="#c0de52" opacity="0.34"/><circle cx="259.0" cy="316.4" r="0.43" fill="#c0de52" opacity="0.50"/><circle cx="259.2" cy="304.7" r="0.37" fill="#c0de52" opacity="0.50"/><circle cx="266.7" cy="326.7" r="0.57" fill="#c0de52" opacity="0.32"/><circle cx="265.0" cy="311.0" r="0.36" fill="#c0de52" opacity="0.60"/><circle cx="266.1" cy="314.6" r="0.31" fill="#c0de52" opacity="0.29"/><circle cx="278.1" cy="326.9" r="0.48" fill="#c0de52" opacity="0.20"/><circle cx="270.1" cy="327.7" r="0.35" fill="#c0de52" opacity="0.37"/><circle cx="264.8" cy="316.9" r="0.33" fill="#c0de52" opacity="0.32"/><circle cx="273.5" cy="304.2" r="0.36" fill="#c0de52" opacity="0.43"/><circle cx="265.7" cy="306.0" r="0.47" fill="#c0de52" opacity="0.45"/><circle cx="270.3" cy="317.0" r="0.41" fill="#c0de52" opacity="0.18"/><circle cx="260.5" cy="303.2" r="0.37" fill="#c0de52" opacity="0.33"/><circle cx="260.3" cy="314.6" r="0.49" fill="#c0de52" opacity="0.18"/><circle cx="250.3" cy="307.7" r="0.35" fill="#c0de52" opacity="0.25"/><circle cx="266.2" cy="322.2" r="0.31" fill="#c0de52" opacity="0.25"/><circle cx="264.7" cy="325.6" r="0.59" fill="#c0de52" opacity="0.40"/><circle cx="271.3" cy="331.1" r="0.42" fill="#c0de52" opacity="0.18"/><circle cx="259.5" cy="306.5" r="0.38" fill="#c0de52" opacity="0.41"/><circle cx="265.1" cy="312.0" r="0.51" fill="#c0de52" opacity="0.28"/><circle cx="266.2" cy="293.4" r="0.33" fill="#c0de52" opacity="0.57"/><circle cx="268.1" cy="321.5" r="0.31" fill="#c0de52" opacity="0.19"/><circle cx="273.8" cy="314.1" r="0.32" fill="#c0de52" opacity="0.38"/><circle cx="256.2" cy="305.0" r="0.45" fill="#c0de52" opacity="0.19"/><circle cx="275.0" cy="319.7" r="0.46" fill="#c0de52" opacity="0.56"/><circle cx="258.1" cy="314.5" r="0.37" fill="#c0de52" opacity="0.54"/><circle cx="266.2" cy="320.6" r="0.56" fill="#c0de52" opacity="0.28"/><circle cx="260.7" cy="310.3" r="0.44" fill="#c0de52" opacity="0.57"/><circle cx="281.5" cy="337.2" r="0.53" fill="#c0de52" opacity="0.23"/><circle cx="258.7" cy="301.7" r="0.36" fill="#c0de52" opacity="0.50"/><circle cx="259.4" cy="321.1" r="0.39" fill="#c0de52" opacity="0.33"/><circle cx="250.2" cy="316.9" r="0.39" fill="#c0de52" opacity="0.23"/><circle cx="266.8" cy="317.0" r="0.57" fill="#c0de52" opacity="0.56"/><circle cx="260.2" cy="322.7" r="0.50" fill="#c0de52" opacity="0.22"/><circle cx="266.5" cy="319.1" r="0.41" fill="#c0de52" opacity="0.16"/><circle cx="275.9" cy="329.5" r="0.48" fill="#c0de52" opacity="0.28"/><circle cx="267.7" cy="312.1" r="0.57" fill="#c0de52" opacity="0.36"/><circle cx="259.5" cy="297.8" r="0.35" fill="#c0de52" opacity="0.36"/><circle cx="250.6" cy="306.7" r="0.43" fill="#c0de52" opacity="0.26"/><circle cx="273.7" cy="314.0" r="0.58" fill="#c0de52" opacity="0.30"/><circle cx="262.5" cy="321.1" r="0.54" fill="#c0de52" opacity="0.19"/><circle cx="266.4" cy="328.8" r="0.39" fill="#c0de52" opacity="0.18"/><circle cx="261.7" cy="314.7" r="0.36" fill="#c0de52" opacity="0.36"/><circle cx="263.3" cy="321.5" r="0.38" fill="#c0de52" opacity="0.31"/><circle cx="258.9" cy="328.0" r="0.55" fill="#c0de52" opacity="0.47"/><circle cx="266.3" cy="312.2" r="0.34" fill="#c0de52" opacity="0.35"/><circle cx="272.0" cy="313.6" r="0.36" fill="#c0de52" opacity="0.38"/><circle cx="252.4" cy="326.1" r="0.40" fill="#c0de52" opacity="0.52"/><circle cx="271.9" cy="321.3" r="0.45" fill="#c0de52" opacity="0.52"/><circle cx="262.3" cy="307.0" r="0.58" fill="#c0de52" opacity="0.57"/><circle cx="263.4" cy="309.7" r="0.32" fill="#c0de52" opacity="0.28"/><circle cx="260.6" cy="307.6" r="0.54" fill="#c0de52" opacity="0.38"/><circle cx="269.3" cy="312.5" r="0.43" fill="#c0de52" opacity="0.29"/><circle cx="282.2" cy="347.8" r="0.48" fill="#5078d0" opacity="0.16"/><circle cx="289.4" cy="338.5" r="0.32" fill="#5078d0" opacity="0.21"/><circle cx="301.4" cy="340.8" r="0.41" fill="#5078d0" opacity="0.38"/><circle cx="292.8" cy="346.7" r="0.34" fill="#5078d0" opacity="0.50"/><circle cx="293.9" cy="347.5" r="0.55" fill="#5078d0" opacity="0.40"/><circle cx="291.0" cy="330.8" r="0.47" fill="#5078d0" opacity="0.37"/><circle cx="282.0" cy="326.2" r="0.37" fill="#5078d0" opacity="0.51"/><circle cx="280.2" cy="332.3" r="0.44" fill="#5078d0" opacity="0.27"/><circle cx="282.6" cy="338.8" r="0.43" fill="#5078d0" opacity="0.22"/><circle cx="286.5" cy="350.2" r="0.57" fill="#5078d0" opacity="0.25"/><circle cx="289.2" cy="345.8" r="0.40" fill="#5078d0" opacity="0.36"/><circle cx="288.9" cy="334.8" r="0.40" fill="#5078d0" opacity="0.16"/><circle cx="294.9" cy="343.4" r="0.44" fill="#5078d0" opacity="0.46"/><circle cx="290.0" cy="348.3" r="0.55" fill="#5078d0" opacity="0.41"/><circle cx="289.0" cy="349.0" r="0.33" fill="#5078d0" opacity="0.23"/><circle cx="283.4" cy="343.7" r="0.44" fill="#5078d0" opacity="0.21"/><circle cx="294.5" cy="341.6" r="0.48" fill="#5078d0" opacity="0.55"/><circle cx="293.7" cy="344.0" r="0.36" fill="#5078d0" opacity="0.19"/><circle cx="284.5" cy="343.6" r="0.52" fill="#5078d0" opacity="0.37"/><circle cx="275.8" cy="334.9" r="0.39" fill="#5078d0" opacity="0.27"/><circle cx="277.1" cy="340.2" r="0.40" fill="#5078d0" opacity="0.35"/><circle cx="303.2" cy="345.6" r="0.31" fill="#5078d0" opacity="0.18"/><circle cx="282.6" cy="349.8" r="0.55" fill="#5078d0" opacity="0.48"/><circle cx="282.0" cy="341.1" r="0.51" fill="#5078d0" opacity="0.50"/><circle cx="283.0" cy="338.4" r="0.49" fill="#5078d0" opacity="0.21"/><circle cx="282.7" cy="338.8" r="0.57" fill="#5078d0" opacity="0.49"/><circle cx="293.4" cy="336.2" r="0.35" fill="#5078d0" opacity="0.60"/><circle cx="294.3" cy="335.8" r="0.41" fill="#5078d0" opacity="0.18"/><circle cx="299.6" cy="357.4" r="0.35" fill="#5078d0" opacity="0.37"/><circle cx="283.4" cy="361.3" r="0.37" fill="#5078d0" opacity="0.17"/><circle cx="295.7" cy="343.5" r="0.49" fill="#5078d0" opacity="0.30"/><circle cx="284.3" cy="347.9" r="0.34" fill="#5078d0" opacity="0.29"/><circle cx="284.7" cy="340.8" r="0.33" fill="#5078d0" opacity="0.19"/><circle cx="295.6" cy="345.8" r="0.57" fill="#5078d0" opacity="0.47"/><circle cx="291.8" cy="354.7" r="0.51" fill="#5078d0" opacity="0.21"/><circle cx="288.2" cy="334.9" r="0.54" fill="#5078d0" opacity="0.47"/><circle cx="286.0" cy="338.4" r="0.38" fill="#5078d0" opacity="0.51"/><circle cx="278.4" cy="328.9" r="0.42" fill="#5078d0" opacity="0.37"/><circle cx="294.7" cy="344.1" r="0.48" fill="#5078d0" opacity="0.26"/><circle cx="283.9" cy="354.6" r="0.52" fill="#5078d0" opacity="0.28"/><circle cx="288.4" cy="346.9" r="0.47" fill="#5078d0" opacity="0.45"/><circle cx="288.8" cy="344.5" r="0.59" fill="#5078d0" opacity="0.19"/><circle cx="298.2" cy="347.6" r="0.31" fill="#5078d0" opacity="0.22"/><circle cx="287.9" cy="349.8" r="0.49" fill="#5078d0" opacity="0.56"/><circle cx="291.1" cy="341.5" r="0.49" fill="#5078d0" opacity="0.30"/><circle cx="290.5" cy="345.2" r="0.51" fill="#5078d0" opacity="0.49"/><circle cx="296.9" cy="345.8" r="0.43" fill="#5078d0" opacity="0.40"/><circle cx="284.1" cy="339.7" r="0.54" fill="#5078d0" opacity="0.47"/><circle cx="277.7" cy="341.5" r="0.56" fill="#5078d0" opacity="0.20"/><circle cx="296.0" cy="336.8" r="0.33" fill="#5078d0" opacity="0.43"/><circle cx="288.5" cy="347.8" r="0.56" fill="#5078d0" opacity="0.21"/><circle cx="291.7" cy="351.2" r="0.46" fill="#5078d0" opacity="0.37"/><circle cx="288.2" cy="343.7" r="0.56" fill="#5078d0" opacity="0.23"/><circle cx="284.8" cy="344.0" r="0.44" fill="#5078d0" opacity="0.59"/><circle cx="291.0" cy="334.9" r="0.46" fill="#5078d0" opacity="0.20"/><circle cx="296.2" cy="347.2" r="0.51" fill="#5078d0" opacity="0.39"/><circle cx="287.4" cy="342.0" r="0.56" fill="#5078d0" opacity="0.49"/><circle cx="286.2" cy="332.8" r="0.52" fill="#5078d0" opacity="0.59"/><circle cx="279.5" cy="339.0" r="0.41" fill="#5078d0" opacity="0.38"/><circle cx="295.7" cy="349.1" r="0.37" fill="#5078d0" opacity="0.32"/><circle cx="293.0" cy="344.0" r="0.31" fill="#5078d0" opacity="0.17"/><circle cx="290.9" cy="331.0" r="0.57" fill="#5078d0" opacity="0.57"/><circle cx="281.9" cy="343.7" r="0.41" fill="#5078d0" opacity="0.22"/><circle cx="287.8" cy="350.9" r="0.50" fill="#5078d0" opacity="0.51"/><circle cx="282.9" cy="342.6" r="0.34" fill="#5078d0" opacity="0.56"/><circle cx="282.2" cy="340.5" r="0.41" fill="#5078d0" opacity="0.23"/><circle cx="278.1" cy="344.3" r="0.40" fill="#5078d0" opacity="0.46"/><circle cx="294.1" cy="337.9" r="0.59" fill="#5078d0" opacity="0.22"/><circle cx="279.3" cy="336.7" r="0.58" fill="#5078d0" opacity="0.37"/><circle cx="283.5" cy="338.7" r="0.48" fill="#5078d0" opacity="0.33"/><circle cx="286.5" cy="344.6" r="0.42" fill="#5078d0" opacity="0.41"/><circle cx="287.9" cy="344.6" r="0.57" fill="#5078d0" opacity="0.57"/><circle cx="277.4" cy="343.3" r="0.46" fill="#5078d0" opacity="0.33"/><circle cx="292.6" cy="343.1" r="0.54" fill="#5078d0" opacity="0.26"/><circle cx="297.5" cy="338.5" r="0.52" fill="#5078d0" opacity="0.35"/><circle cx="281.0" cy="330.7" r="0.35" fill="#5078d0" opacity="0.16"/><circle cx="280.4" cy="336.0" r="0.56" fill="#5078d0" opacity="0.34"/><circle cx="291.8" cy="343.7" r="0.31" fill="#5078d0" opacity="0.42"/><circle cx="280.1" cy="336.2" r="0.34" fill="#5078d0" opacity="0.32"/><circle cx="288.4" cy="335.5" r="0.57" fill="#5078d0" opacity="0.31"/><circle cx="288.7" cy="333.8" r="0.30" fill="#5078d0" opacity="0.32"/><circle cx="292.5" cy="348.8" r="0.32" fill="#5078d0" opacity="0.40"/><circle cx="296.7" cy="365.5" r="0.41" fill="#5078d0" opacity="0.45"/><circle cx="280.8" cy="338.7" r="0.57" fill="#5078d0" opacity="0.49"/><circle cx="289.3" cy="352.3" r="0.58" fill="#5078d0" opacity="0.21"/><circle cx="284.2" cy="349.7" r="0.42" fill="#5078d0" opacity="0.46"/><circle cx="294.5" cy="352.1" r="0.53" fill="#5078d0" opacity="0.18"/><circle cx="288.5" cy="336.2" r="0.37" fill="#5078d0" opacity="0.48"/><circle cx="291.3" cy="351.7" r="0.39" fill="#5078d0" opacity="0.52"/><circle cx="289.1" cy="346.9" r="0.37" fill="#5078d0" opacity="0.16"/><circle cx="283.7" cy="352.2" r="0.59" fill="#5078d0" opacity="0.25"/><circle cx="292.7" cy="326.3" r="0.39" fill="#5078d0" opacity="0.32"/><circle cx="294.3" cy="348.7" r="0.31" fill="#5078d0" opacity="0.25"/><circle cx="293.0" cy="343.9" r="0.38" fill="#5078d0" opacity="0.46"/><circle cx="286.4" cy="342.9" r="0.41" fill="#5078d0" opacity="0.47"/><circle cx="293.8" cy="343.9" r="0.35" fill="#5078d0" opacity="0.23"/><circle cx="283.2" cy="345.5" r="0.57" fill="#5078d0" opacity="0.50"/><circle cx="283.9" cy="337.8" r="0.57" fill="#5078d0" opacity="0.46"/><circle cx="284.5" cy="331.5" r="0.42" fill="#5078d0" opacity="0.30"/><circle cx="273.6" cy="327.8" r="0.51" fill="#5078d0" opacity="0.57"/><circle cx="284.1" cy="340.4" r="0.41" fill="#5078d0" opacity="0.57"/><circle cx="289.1" cy="346.9" r="0.33" fill="#5078d0" opacity="0.35"/><circle cx="291.2" cy="338.0" r="0.56" fill="#5078d0" opacity="0.22"/><circle cx="292.8" cy="347.6" r="0.35" fill="#5078d0" opacity="0.53"/><circle cx="287.8" cy="354.1" r="0.36" fill="#5078d0" opacity="0.39"/><circle cx="287.6" cy="338.6" r="0.48" fill="#5078d0" opacity="0.38"/><circle cx="280.7" cy="332.1" r="0.41" fill="#5078d0" opacity="0.55"/><circle cx="288.0" cy="329.4" r="0.38" fill="#5078d0" opacity="0.26"/><circle cx="275.9" cy="333.8" r="0.56" fill="#5078d0" opacity="0.42"/><circle cx="301.6" cy="352.6" r="0.58" fill="#5078d0" opacity="0.50"/><circle cx="274.5" cy="337.3" r="0.52" fill="#5078d0" opacity="0.35"/><circle cx="294.2" cy="334.9" r="0.31" fill="#5078d0" opacity="0.45"/><circle cx="281.3" cy="329.0" r="0.38" fill="#5078d0" opacity="0.52"/><circle cx="298.0" cy="350.2" r="0.59" fill="#5078d0" opacity="0.22"/><circle cx="288.0" cy="338.8" r="0.41" fill="#5078d0" opacity="0.20"/><circle cx="290.9" cy="343.6" r="0.58" fill="#5078d0" opacity="0.31"/><circle cx="293.5" cy="338.4" r="0.52" fill="#5078d0" opacity="0.51"/><circle cx="290.2" cy="342.8" r="0.33" fill="#5078d0" opacity="0.28"/><circle cx="300.8" cy="351.1" r="0.40" fill="#5078d0" opacity="0.41"/><circle cx="275.7" cy="335.2" r="0.55" fill="#5078d0" opacity="0.16"/><circle cx="284.4" cy="345.0" r="0.56" fill="#5078d0" opacity="0.44"/><circle cx="300.1" cy="345.2" r="0.37" fill="#5078d0" opacity="0.56"/><circle cx="277.7" cy="327.7" r="0.50" fill="#5078d0" opacity="0.51"/><circle cx="277.1" cy="338.3" r="0.31" fill="#5078d0" opacity="0.28"/><circle cx="286.8" cy="337.2" r="0.47" fill="#5078d0" opacity="0.50"/><circle cx="292.3" cy="335.1" r="0.59" fill="#5078d0" opacity="0.35"/><circle cx="285.6" cy="341.1" r="0.48" fill="#5078d0" opacity="0.46"/><circle cx="282.3" cy="338.1" r="0.49" fill="#5078d0" opacity="0.56"/><circle cx="288.8" cy="350.5" r="0.45" fill="#5078d0" opacity="0.51"/><circle cx="287.5" cy="340.1" r="0.43" fill="#5078d0" opacity="0.54"/><circle cx="298.8" cy="343.3" r="0.51" fill="#5078d0" opacity="0.43"/><circle cx="294.2" cy="336.2" r="0.47" fill="#5078d0" opacity="0.58"/><circle cx="290.3" cy="353.0" r="0.33" fill="#5078d0" opacity="0.35"/><circle cx="290.5" cy="335.8" r="0.49" fill="#5078d0" opacity="0.27"/><circle cx="286.0" cy="344.1" r="0.33" fill="#5078d0" opacity="0.31"/><circle cx="281.4" cy="338.2" r="0.38" fill="#5078d0" opacity="0.57"/><circle cx="300.8" cy="344.9" r="0.31" fill="#5078d0" opacity="0.55"/><circle cx="283.7" cy="331.2" r="0.52" fill="#5078d0" opacity="0.60"/><circle cx="294.1" cy="350.1" r="0.57" fill="#5078d0" opacity="0.59"/><circle cx="284.9" cy="341.2" r="0.55" fill="#5078d0" opacity="0.33"/><circle cx="285.2" cy="338.2" r="0.31" fill="#5078d0" opacity="0.16"/><circle cx="286.7" cy="345.7" r="0.52" fill="#5078d0" opacity="0.58"/><circle cx="283.9" cy="328.2" r="0.49" fill="#5078d0" opacity="0.48"/><circle cx="287.0" cy="328.7" r="0.32" fill="#5078d0" opacity="0.49"/><circle cx="281.8" cy="336.3" r="0.44" fill="#5078d0" opacity="0.15"/><circle cx="294.0" cy="352.4" r="0.32" fill="#5078d0" opacity="0.27"/><circle cx="279.5" cy="338.6" r="0.51" fill="#5078d0" opacity="0.23"/><circle cx="301.3" cy="339.0" r="0.58" fill="#5078d0" opacity="0.20"/><circle cx="279.5" cy="340.7" r="0.37" fill="#5078d0" opacity="0.22"/><circle cx="277.2" cy="332.8" r="0.37" fill="#5078d0" opacity="0.37"/><circle cx="279.7" cy="353.8" r="0.35" fill="#5078d0" opacity="0.19"/><circle cx="290.6" cy="342.1" r="0.44" fill="#5078d0" opacity="0.54"/><circle cx="279.1" cy="336.0" r="0.31" fill="#5078d0" opacity="0.18"/><circle cx="288.0" cy="361.0" r="0.50" fill="#5078d0" opacity="0.19"/><circle cx="289.6" cy="342.3" r="0.47" fill="#5078d0" opacity="0.38"/><circle cx="283.0" cy="350.4" r="0.36" fill="#5078d0" opacity="0.40"/><circle cx="288.4" cy="326.9" r="0.59" fill="#5078d0" opacity="0.41"/><circle cx="294.4" cy="339.5" r="0.34" fill="#5078d0" opacity="0.42"/><circle cx="302.2" cy="350.0" r="0.35" fill="#5078d0" opacity="0.15"/><circle cx="301.8" cy="345.6" r="0.53" fill="#5078d0" opacity="0.28"/><circle cx="289.1" cy="347.9" r="0.48" fill="#5078d0" opacity="0.53"/><circle cx="284.2" cy="341.6" r="0.38" fill="#5078d0" opacity="0.47"/><circle cx="286.6" cy="343.7" r="0.33" fill="#5078d0" opacity="0.39"/><circle cx="283.2" cy="350.1" r="0.40" fill="#5078d0" opacity="0.47"/><circle cx="282.6" cy="333.8" r="0.33" fill="#5078d0" opacity="0.28"/><circle cx="296.1" cy="350.1" r="0.56" fill="#5078d0" opacity="0.54"/><circle cx="293.1" cy="350.3" r="0.51" fill="#5078d0" opacity="0.29"/><circle cx="274.8" cy="336.1" r="0.52" fill="#5078d0" opacity="0.47"/><circle cx="278.5" cy="338.0" r="0.40" fill="#5078d0" opacity="0.20"/><circle cx="278.2" cy="337.2" r="0.49" fill="#5078d0" opacity="0.27"/><circle cx="282.5" cy="337.2" r="0.55" fill="#5078d0" opacity="0.16"/><circle cx="283.1" cy="342.3" r="0.43" fill="#5078d0" opacity="0.31"/><circle cx="292.2" cy="336.1" r="0.47" fill="#5078d0" opacity="0.42"/><circle cx="291.7" cy="337.9" r="0.45" fill="#5078d0" opacity="0.49"/><circle cx="279.4" cy="346.1" r="0.43" fill="#5078d0" opacity="0.27"/><circle cx="290.7" cy="344.7" r="0.54" fill="#5078d0" opacity="0.25"/><circle cx="286.0" cy="340.3" r="0.37" fill="#5078d0" opacity="0.52"/><circle cx="277.7" cy="348.8" r="0.41" fill="#5078d0" opacity="0.18"/><circle cx="296.4" cy="343.8" r="0.31" fill="#5078d0" opacity="0.29"/><circle cx="291.5" cy="338.8" r="0.46" fill="#5078d0" opacity="0.51"/><circle cx="298.3" cy="347.9" r="0.57" fill="#5078d0" opacity="0.49"/><circle cx="278.4" cy="344.2" r="0.47" fill="#5078d0" opacity="0.33"/><circle cx="278.7" cy="334.3" r="0.35" fill="#5078d0" opacity="0.26"/><circle cx="283.1" cy="347.5" r="0.48" fill="#5078d0" opacity="0.52"/><circle cx="295.4" cy="353.1" r="0.32" fill="#5078d0" opacity="0.34"/><circle cx="294.0" cy="359.2" r="0.33" fill="#5078d0" opacity="0.33"/><circle cx="288.6" cy="340.9" r="0.52" fill="#5078d0" opacity="0.25"/><circle cx="297.6" cy="345.0" r="0.32" fill="#5078d0" opacity="0.35"/><circle cx="281.0" cy="340.2" r="0.32" fill="#5078d0" opacity="0.51"/><circle cx="285.6" cy="334.2" r="0.32" fill="#5078d0" opacity="0.55"/><circle cx="291.3" cy="342.9" r="0.46" fill="#5078d0" opacity="0.56"/><circle cx="270.8" cy="335.7" r="0.37" fill="#5078d0" opacity="0.45"/><circle cx="294.7" cy="352.6" r="0.49" fill="#5078d0" opacity="0.40"/><circle cx="279.2" cy="332.4" r="0.33" fill="#5078d0" opacity="0.37"/><circle cx="301.3" cy="347.8" r="0.47" fill="#5078d0" opacity="0.45"/><circle cx="285.2" cy="345.1" r="0.32" fill="#5078d0" opacity="0.42"/><circle cx="284.1" cy="325.1" r="0.43" fill="#5078d0" opacity="0.35"/><circle cx="293.3" cy="342.2" r="0.37" fill="#5078d0" opacity="0.42"/><circle cx="290.0" cy="332.0" r="0.41" fill="#5078d0" opacity="0.29"/><circle cx="289.3" cy="329.0" r="0.48" fill="#5078d0" opacity="0.46"/><circle cx="290.7" cy="337.3" r="0.38" fill="#5078d0" opacity="0.30"/><circle cx="282.8" cy="331.4" r="0.39" fill="#5078d0" opacity="0.19"/><circle cx="293.8" cy="358.7" r="0.46" fill="#5078d0" opacity="0.46"/><circle cx="275.8" cy="329.0" r="0.41" fill="#5078d0" opacity="0.57"/><circle cx="286.4" cy="336.3" r="0.43" fill="#5078d0" opacity="0.43"/><circle cx="294.4" cy="340.8" r="0.47" fill="#5078d0" opacity="0.15"/><circle cx="299.3" cy="347.3" r="0.41" fill="#5078d0" opacity="0.39"/><circle cx="275.7" cy="347.2" r="0.31" fill="#5078d0" opacity="0.28"/><circle cx="290.9" cy="350.5" r="0.52" fill="#5078d0" opacity="0.34"/><circle cx="288.0" cy="343.8" r="0.42" fill="#5078d0" opacity="0.20"/><circle cx="284.6" cy="347.1" r="0.39" fill="#5078d0" opacity="0.27"/><circle cx="278.9" cy="355.6" r="0.42" fill="#5078d0" opacity="0.57"/><circle cx="298.9" cy="356.3" r="0.46" fill="#5078d0" opacity="0.56"/><circle cx="296.2" cy="355.4" r="0.57" fill="#5078d0" opacity="0.49"/><circle cx="276.6" cy="338.3" r="0.34" fill="#5078d0" opacity="0.48"/><circle cx="296.0" cy="335.1" r="0.40" fill="#5078d0" opacity="0.54"/><circle cx="278.4" cy="340.1" r="0.60" fill="#5078d0" opacity="0.17"/><circle cx="284.6" cy="351.9" r="0.59" fill="#5078d0" opacity="0.45"/><circle cx="289.2" cy="342.9" r="0.37" fill="#5078d0" opacity="0.57"/><circle cx="282.5" cy="340.0" r="0.53" fill="#5078d0" opacity="0.56"/><circle cx="276.9" cy="348.7" r="0.40" fill="#5078d0" opacity="0.17"/><circle cx="287.1" cy="346.8" r="0.31" fill="#5078d0" opacity="0.40"/><circle cx="301.0" cy="343.8" r="0.34" fill="#5078d0" opacity="0.24"/><circle cx="295.4" cy="339.8" r="0.54" fill="#5078d0" opacity="0.49"/><circle cx="293.3" cy="354.5" r="0.46" fill="#5078d0" opacity="0.30"/><circle cx="293.4" cy="328.3" r="0.42" fill="#5078d0" opacity="0.44"/><circle cx="285.0" cy="359.2" r="0.33" fill="#5078d0" opacity="0.31"/><circle cx="293.0" cy="356.6" r="0.50" fill="#5078d0" opacity="0.21"/><circle cx="291.2" cy="341.4" r="0.45" fill="#5078d0" opacity="0.25"/><circle cx="291.6" cy="345.5" r="0.54" fill="#5078d0" opacity="0.16"/><circle cx="276.5" cy="340.2" r="0.47" fill="#5078d0" opacity="0.19"/><circle cx="278.1" cy="333.0" r="0.58" fill="#5078d0" opacity="0.16"/><circle cx="295.4" cy="330.0" r="0.55" fill="#5078d0" opacity="0.49"/><circle cx="298.9" cy="341.5" r="0.52" fill="#5078d0" opacity="0.34"/><circle cx="290.4" cy="338.8" r="0.55" fill="#5078d0" opacity="0.31"/><circle cx="290.2" cy="352.1" r="0.36" fill="#5078d0" opacity="0.56"/><circle cx="294.3" cy="336.0" r="0.51" fill="#5078d0" opacity="0.46"/><circle cx="294.5" cy="345.5" r="0.36" fill="#5078d0" opacity="0.40"/><circle cx="287.4" cy="353.1" r="0.50" fill="#5078d0" opacity="0.36"/><circle cx="281.6" cy="343.7" r="0.33" fill="#5078d0" opacity="0.50"/><circle cx="283.8" cy="350.8" r="0.34" fill="#5078d0" opacity="0.30"/><circle cx="283.1" cy="344.8" r="0.36" fill="#5078d0" opacity="0.50"/><circle cx="293.5" cy="353.9" r="0.41" fill="#5078d0" opacity="0.53"/><circle cx="284.3" cy="343.1" r="0.33" fill="#5078d0" opacity="0.49"/><circle cx="288.0" cy="332.4" r="0.55" fill="#5078d0" opacity="0.21"/><circle cx="286.6" cy="342.5" r="0.59" fill="#5078d0" opacity="0.56"/><circle cx="297.8" cy="341.1" r="0.31" fill="#5078d0" opacity="0.18"/><circle cx="290.4" cy="346.7" r="0.55" fill="#5078d0" opacity="0.26"/><circle cx="279.5" cy="338.3" r="0.39" fill="#5078d0" opacity="0.33"/><circle cx="290.4" cy="318.6" r="0.35" fill="#5078d0" opacity="0.46"/><circle cx="283.5" cy="339.7" r="0.38" fill="#5078d0" opacity="0.36"/><circle cx="283.1" cy="337.0" r="0.45" fill="#5078d0" opacity="0.44"/><circle cx="302.0" cy="357.3" r="0.41" fill="#5078d0" opacity="0.58"/><circle cx="284.1" cy="342.0" r="0.57" fill="#5078d0" opacity="0.27"/><circle cx="290.4" cy="345.5" r="0.40" fill="#5078d0" opacity="0.31"/><circle cx="297.1" cy="361.6" r="0.34" fill="#5078d0" opacity="0.25"/><circle cx="275.1" cy="338.7" r="0.41" fill="#5078d0" opacity="0.50"/><circle cx="292.5" cy="349.1" r="0.54" fill="#5078d0" opacity="0.27"/><circle cx="306.4" cy="355.3" r="0.37" fill="#5078d0" opacity="0.27"/><circle cx="296.5" cy="352.2" r="0.55" fill="#5078d0" opacity="0.51"/><circle cx="304.7" cy="374.3" r="0.36" fill="#3cb844" opacity="0.23"/><circle cx="322.7" cy="378.3" r="0.50" fill="#3cb844" opacity="0.20"/><circle cx="304.3" cy="373.5" r="0.30" fill="#3cb844" opacity="0.39"/><circle cx="298.0" cy="358.2" r="0.43" fill="#3cb844" opacity="0.35"/><circle cx="309.9" cy="380.2" r="0.38" fill="#3cb844" opacity="0.23"/><circle cx="314.0" cy="374.5" r="0.58" fill="#3cb844" opacity="0.55"/><circle cx="308.2" cy="364.9" r="0.49" fill="#3cb844" opacity="0.54"/><circle cx="319.7" cy="371.2" r="0.54" fill="#3cb844" opacity="0.45"/><circle cx="311.6" cy="362.9" r="0.34" fill="#3cb844" opacity="0.49"/><circle cx="312.2" cy="370.6" r="0.34" fill="#3cb844" opacity="0.42"/><circle cx="313.6" cy="372.0" r="0.35" fill="#3cb844" opacity="0.50"/><circle cx="309.7" cy="377.1" r="0.48" fill="#3cb844" opacity="0.47"/><circle cx="304.8" cy="370.4" r="0.57" fill="#3cb844" opacity="0.28"/><circle cx="316.5" cy="376.0" r="0.58" fill="#3cb844" opacity="0.36"/><circle cx="310.0" cy="382.2" r="0.58" fill="#3cb844" opacity="0.19"/><circle cx="310.0" cy="372.3" r="0.43" fill="#3cb844" opacity="0.46"/><circle cx="304.2" cy="357.4" r="0.39" fill="#3cb844" opacity="0.56"/><circle cx="308.4" cy="354.3" r="0.42" fill="#3cb844" opacity="0.49"/><circle cx="306.0" cy="372.8" r="0.37" fill="#3cb844" opacity="0.55"/><circle cx="316.8" cy="371.7" r="0.36" fill="#3cb844" opacity="0.23"/><circle cx="309.6" cy="377.9" r="0.39" fill="#3cb844" opacity="0.46"/><circle cx="320.6" cy="371.0" r="0.51" fill="#3cb844" opacity="0.50"/><circle cx="318.5" cy="370.3" r="0.36" fill="#3cb844" opacity="0.57"/><circle cx="306.6" cy="370.3" r="0.34" fill="#3cb844" opacity="0.20"/><circle cx="314.0" cy="378.1" r="0.44" fill="#3cb844" opacity="0.51"/><circle cx="299.8" cy="353.8" r="0.53" fill="#3cb844" opacity="0.28"/><circle cx="307.8" cy="368.3" r="0.30" fill="#3cb844" opacity="0.18"/><circle cx="309.9" cy="370.0" r="0.32" fill="#3cb844" opacity="0.47"/><circle cx="305.0" cy="370.3" r="0.45" fill="#3cb844" opacity="0.37"/><circle cx="307.1" cy="379.9" r="0.53" fill="#3cb844" opacity="0.24"/><circle cx="310.7" cy="379.6" r="0.33" fill="#3cb844" opacity="0.24"/><circle cx="312.1" cy="373.6" r="0.34" fill="#3cb844" opacity="0.56"/><circle cx="307.8" cy="365.0" r="0.30" fill="#3cb844" opacity="0.52"/><circle cx="297.4" cy="370.1" r="0.45" fill="#3cb844" opacity="0.19"/><circle cx="299.7" cy="364.0" r="0.37" fill="#3cb844" opacity="0.22"/><circle cx="305.6" cy="369.3" r="0.38" fill="#3cb844" opacity="0.51"/><circle cx="321.1" cy="368.5" r="0.33" fill="#3cb844" opacity="0.28"/><circle cx="313.2" cy="366.5" r="0.53" fill="#3cb844" opacity="0.34"/><circle cx="310.5" cy="374.9" r="0.39" fill="#3cb844" opacity="0.40"/><circle cx="303.6" cy="362.4" r="0.33" fill="#3cb844" opacity="0.26"/><circle cx="310.9" cy="370.2" r="0.47" fill="#3cb844" opacity="0.30"/><circle cx="308.2" cy="372.7" r="0.42" fill="#3cb844" opacity="0.53"/><circle cx="306.0" cy="370.1" r="0.51" fill="#3cb844" opacity="0.25"/><circle cx="309.0" cy="380.3" r="0.47" fill="#3cb844" opacity="0.32"/><circle cx="312.3" cy="369.1" r="0.37" fill="#3cb844" opacity="0.59"/><circle cx="324.9" cy="381.9" r="0.45" fill="#3cb844" opacity="0.41"/><circle cx="317.4" cy="381.4" r="0.32" fill="#3cb844" opacity="0.23"/><circle cx="303.3" cy="374.5" r="0.48" fill="#3cb844" opacity="0.27"/><circle cx="309.4" cy="380.6" r="0.34" fill="#3cb844" opacity="0.51"/><circle cx="306.7" cy="370.3" r="0.53" fill="#3cb844" opacity="0.30"/><circle cx="315.9" cy="378.4" r="0.58" fill="#3cb844" opacity="0.37"/><circle cx="295.9" cy="367.1" r="0.56" fill="#3cb844" opacity="0.55"/><circle cx="304.9" cy="370.1" r="0.57" fill="#3cb844" opacity="0.51"/><circle cx="307.0" cy="369.3" r="0.49" fill="#3cb844" opacity="0.21"/><circle cx="304.7" cy="370.9" r="0.41" fill="#3cb844" opacity="0.28"/><circle cx="303.4" cy="367.1" r="0.56" fill="#3cb844" opacity="0.56"/><circle cx="319.9" cy="383.1" r="0.34" fill="#3cb844" opacity="0.31"/><circle cx="309.8" cy="367.2" r="0.45" fill="#3cb844" opacity="0.50"/><circle cx="298.0" cy="373.2" r="0.52" fill="#3cb844" opacity="0.18"/><circle cx="312.1" cy="379.9" r="0.38" fill="#3cb844" opacity="0.16"/><circle cx="303.9" cy="371.1" r="0.33" fill="#3cb844" opacity="0.17"/><circle cx="312.2" cy="370.2" r="0.59" fill="#3cb844" opacity="0.21"/><circle cx="301.6" cy="368.3" r="0.32" fill="#3cb844" opacity="0.55"/><circle cx="299.3" cy="357.0" r="0.44" fill="#3cb844" opacity="0.51"/><circle cx="316.9" cy="383.8" r="0.37" fill="#3cb844" opacity="0.59"/><circle cx="316.3" cy="373.1" r="0.58" fill="#3cb844" opacity="0.47"/><circle cx="314.3" cy="379.7" r="0.55" fill="#3cb844" opacity="0.46"/><circle cx="296.0" cy="361.0" r="0.55" fill="#3cb844" opacity="0.52"/><circle cx="307.7" cy="362.8" r="0.53" fill="#3cb844" opacity="0.19"/><circle cx="306.2" cy="359.4" r="0.45" fill="#3cb844" opacity="0.29"/><circle cx="305.5" cy="363.8" r="0.42" fill="#3cb844" opacity="0.43"/><circle cx="311.0" cy="381.2" r="0.57" fill="#3cb844" opacity="0.55"/><circle cx="311.9" cy="362.8" r="0.37" fill="#3cb844" opacity="0.17"/><circle cx="315.9" cy="378.0" r="0.30" fill="#3cb844" opacity="0.21"/><circle cx="302.0" cy="362.2" r="0.57" fill="#3cb844" opacity="0.30"/><circle cx="307.6" cy="378.6" r="0.42" fill="#3cb844" opacity="0.16"/><circle cx="300.7" cy="356.5" r="0.41" fill="#3cb844" opacity="0.57"/><circle cx="314.3" cy="376.7" r="0.42" fill="#3cb844" opacity="0.42"/><circle cx="304.9" cy="379.1" r="0.39" fill="#3cb844" opacity="0.55"/><circle cx="296.6" cy="356.6" r="0.33" fill="#3cb844" opacity="0.53"/><circle cx="312.9" cy="382.8" r="0.39" fill="#3cb844" opacity="0.33"/><circle cx="307.2" cy="372.9" r="0.45" fill="#3cb844" opacity="0.38"/><circle cx="323.2" cy="369.0" r="0.36" fill="#3cb844" opacity="0.50"/><circle cx="308.9" cy="381.5" r="0.32" fill="#3cb844" opacity="0.52"/><circle cx="316.3" cy="374.7" r="0.58" fill="#3cb844" opacity="0.27"/><circle cx="298.8" cy="354.4" r="0.42" fill="#3cb844" opacity="0.50"/><circle cx="302.0" cy="358.8" r="0.45" fill="#3cb844" opacity="0.58"/><circle cx="311.7" cy="367.7" r="0.49" fill="#3cb844" opacity="0.21"/><circle cx="310.2" cy="366.8" r="0.38" fill="#3cb844" opacity="0.20"/><circle cx="324.1" cy="369.7" r="0.48" fill="#3cb844" opacity="0.27"/><circle cx="315.3" cy="379.0" r="0.54" fill="#3cb844" opacity="0.20"/><circle cx="286.4" cy="355.6" r="0.39" fill="#3cb844" opacity="0.20"/><circle cx="293.3" cy="353.5" r="0.48" fill="#3cb844" opacity="0.24"/><circle cx="310.7" cy="372.1" r="0.58" fill="#3cb844" opacity="0.38"/><circle cx="309.6" cy="378.9" r="0.57" fill="#3cb844" opacity="0.30"/><circle cx="318.9" cy="372.1" r="0.34" fill="#3cb844" opacity="0.44"/><circle cx="313.5" cy="363.3" r="0.40" fill="#3cb844" opacity="0.51"/><circle cx="303.8" cy="377.3" r="0.39" fill="#3cb844" opacity="0.24"/><circle cx="307.2" cy="366.0" r="0.51" fill="#3cb844" opacity="0.20"/><circle cx="306.8" cy="376.6" r="0.59" fill="#3cb844" opacity="0.59"/><circle cx="300.3" cy="375.6" r="0.38" fill="#3cb844" opacity="0.46"/><circle cx="304.0" cy="373.2" r="0.39" fill="#3cb844" opacity="0.49"/><circle cx="309.9" cy="375.9" r="0.33" fill="#3cb844" opacity="0.33"/><circle cx="306.5" cy="365.1" r="0.58" fill="#3cb844" opacity="0.26"/><circle cx="302.2" cy="364.6" r="0.44" fill="#3cb844" opacity="0.27"/><circle cx="321.4" cy="379.9" r="0.40" fill="#3cb844" opacity="0.21"/><circle cx="308.8" cy="374.3" r="0.39" fill="#3cb844" opacity="0.16"/><circle cx="309.2" cy="364.3" r="0.52" fill="#3cb844" opacity="0.34"/><circle cx="302.3" cy="368.0" r="0.53" fill="#3cb844" opacity="0.18"/><circle cx="318.2" cy="375.5" r="0.42" fill="#3cb844" opacity="0.25"/><circle cx="308.9" cy="363.1" r="0.32" fill="#3cb844" opacity="0.37"/><circle cx="312.2" cy="364.3" r="0.43" fill="#3cb844" opacity="0.38"/><circle cx="312.9" cy="367.5" r="0.51" fill="#3cb844" opacity="0.42"/><circle cx="310.0" cy="358.5" r="0.60" fill="#3cb844" opacity="0.24"/><circle cx="310.4" cy="378.8" r="0.46" fill="#3cb844" opacity="0.22"/><circle cx="300.9" cy="363.1" r="0.50" fill="#3cb844" opacity="0.53"/><circle cx="309.4" cy="370.3" r="0.31" fill="#3cb844" opacity="0.51"/><circle cx="302.0" cy="367.4" r="0.55" fill="#3cb844" opacity="0.44"/><circle cx="312.2" cy="377.1" r="0.35" fill="#3cb844" opacity="0.32"/><circle cx="309.4" cy="369.2" r="0.35" fill="#3cb844" opacity="0.30"/><circle cx="301.3" cy="377.3" r="0.35" fill="#3cb844" opacity="0.44"/><circle cx="305.8" cy="366.7" r="0.31" fill="#3cb844" opacity="0.31"/><circle cx="313.4" cy="374.1" r="0.46" fill="#3cb844" opacity="0.54"/><circle cx="302.1" cy="373.5" r="0.36" fill="#3cb844" opacity="0.27"/><circle cx="317.5" cy="366.2" r="0.58" fill="#3cb844" opacity="0.50"/><circle cx="317.2" cy="380.3" r="0.35" fill="#3cb844" opacity="0.22"/><circle cx="300.1" cy="371.2" r="0.42" fill="#3cb844" opacity="0.22"/><circle cx="312.3" cy="372.6" r="0.54" fill="#3cb844" opacity="0.22"/><circle cx="318.3" cy="383.8" r="0.43" fill="#3cb844" opacity="0.56"/><circle cx="308.3" cy="368.0" r="0.41" fill="#3cb844" opacity="0.19"/><circle cx="308.5" cy="379.2" r="0.45" fill="#3cb844" opacity="0.17"/><circle cx="295.3" cy="361.2" r="0.45" fill="#3cb844" opacity="0.27"/><circle cx="313.4" cy="384.6" r="0.40" fill="#3cb844" opacity="0.53"/><circle cx="305.5" cy="364.8" r="0.59" fill="#3cb844" opacity="0.39"/><circle cx="297.0" cy="368.4" r="0.58" fill="#3cb844" opacity="0.32"/><circle cx="307.9" cy="369.1" r="0.48" fill="#3cb844" opacity="0.26"/><circle cx="323.1" cy="381.8" r="0.59" fill="#3cb844" opacity="0.37"/><circle cx="304.3" cy="376.8" r="0.48" fill="#3cb844" opacity="0.48"/><circle cx="315.6" cy="383.7" r="0.31" fill="#3cb844" opacity="0.43"/><circle cx="308.1" cy="372.5" r="0.35" fill="#3cb844" opacity="0.33"/><circle cx="320.1" cy="385.5" r="0.50" fill="#3cb844" opacity="0.42"/><circle cx="314.9" cy="382.6" r="0.59" fill="#3cb844" opacity="0.16"/><circle cx="310.1" cy="361.7" r="0.41" fill="#3cb844" opacity="0.48"/><circle cx="313.0" cy="368.5" r="0.53" fill="#3cb844" opacity="0.28"/><circle cx="314.7" cy="375.2" r="0.31" fill="#3cb844" opacity="0.38"/><circle cx="300.0" cy="372.1" r="0.31" fill="#3cb844" opacity="0.30"/><circle cx="309.8" cy="369.8" r="0.42" fill="#3cb844" opacity="0.29"/><circle cx="303.6" cy="363.5" r="0.46" fill="#3cb844" opacity="0.19"/><circle cx="305.0" cy="367.3" r="0.34" fill="#3cb844" opacity="0.59"/><circle cx="306.8" cy="366.9" r="0.39" fill="#3cb844" opacity="0.60"/><circle cx="308.0" cy="374.3" r="0.51" fill="#3cb844" opacity="0.16"/><circle cx="310.2" cy="358.9" r="0.54" fill="#3cb844" opacity="0.32"/><circle cx="303.3" cy="366.8" r="0.51" fill="#3cb844" opacity="0.58"/><circle cx="304.1" cy="369.7" r="0.53" fill="#3cb844" opacity="0.25"/><circle cx="308.9" cy="373.8" r="0.44" fill="#3cb844" opacity="0.52"/><circle cx="326.0" cy="380.1" r="0.39" fill="#3cb844" opacity="0.39"/><circle cx="308.0" cy="372.6" r="0.38" fill="#3cb844" opacity="0.48"/><circle cx="304.5" cy="364.2" r="0.34" fill="#3cb844" opacity="0.16"/><circle cx="317.9" cy="368.1" r="0.45" fill="#3cb844" opacity="0.44"/><circle cx="311.3" cy="363.4" r="0.33" fill="#3cb844" opacity="0.16"/><circle cx="321.3" cy="382.5" r="0.32" fill="#3cb844" opacity="0.52"/><circle cx="308.1" cy="370.2" r="0.45" fill="#3cb844" opacity="0.37"/><circle cx="311.3" cy="396.5" r="0.46" fill="#3cb844" opacity="0.53"/><circle cx="305.4" cy="364.1" r="0.54" fill="#3cb844" opacity="0.52"/><circle cx="300.5" cy="362.6" r="0.60" fill="#3cb844" opacity="0.51"/><circle cx="312.0" cy="376.6" r="0.47" fill="#3cb844" opacity="0.17"/><circle cx="300.4" cy="366.9" r="0.50" fill="#3cb844" opacity="0.44"/><circle cx="310.9" cy="368.8" r="0.47" fill="#3cb844" opacity="0.48"/><circle cx="306.6" cy="363.3" r="0.48" fill="#3cb844" opacity="0.54"/><circle cx="299.2" cy="367.1" r="0.60" fill="#3cb844" opacity="0.33"/><circle cx="302.7" cy="357.8" r="0.50" fill="#3cb844" opacity="0.56"/><circle cx="304.9" cy="370.1" r="0.44" fill="#3cb844" opacity="0.28"/><circle cx="307.2" cy="374.8" r="0.39" fill="#3cb844" opacity="0.49"/><circle cx="316.2" cy="379.2" r="0.50" fill="#3cb844" opacity="0.33"/><circle cx="310.8" cy="367.5" r="0.48" fill="#3cb844" opacity="0.29"/><circle cx="304.5" cy="370.7" r="0.40" fill="#3cb844" opacity="0.50"/><circle cx="307.7" cy="373.8" r="0.41" fill="#3cb844" opacity="0.59"/><circle cx="310.7" cy="375.9" r="0.37" fill="#3cb844" opacity="0.57"/><circle cx="310.6" cy="382.5" r="0.37" fill="#3cb844" opacity="0.46"/><circle cx="306.0" cy="369.9" r="0.53" fill="#3cb844" opacity="0.46"/><circle cx="311.3" cy="363.4" r="0.33" fill="#3cb844" opacity="0.38"/><circle cx="311.5" cy="369.5" r="0.53" fill="#3cb844" opacity="0.41"/><circle cx="307.4" cy="369.1" r="0.49" fill="#3cb844" opacity="0.54"/><circle cx="312.1" cy="371.8" r="0.45" fill="#3cb844" opacity="0.45"/><circle cx="313.3" cy="371.2" r="0.58" fill="#3cb844" opacity="0.21"/><circle cx="302.5" cy="364.6" r="0.44" fill="#3cb844" opacity="0.17"/><circle cx="296.1" cy="362.8" r="0.30" fill="#3cb844" opacity="0.26"/><circle cx="307.3" cy="376.6" r="0.58" fill="#3cb844" opacity="0.24"/><circle cx="305.3" cy="371.7" r="0.58" fill="#3cb844" opacity="0.48"/><circle cx="307.6" cy="365.1" r="0.47" fill="#3cb844" opacity="0.15"/><circle cx="321.8" cy="387.2" r="0.51" fill="#3cb844" opacity="0.19"/><circle cx="319.8" cy="370.9" r="0.51" fill="#3cb844" opacity="0.27"/><circle cx="300.0" cy="360.5" r="0.32" fill="#3cb844" opacity="0.60"/><circle cx="300.0" cy="360.6" r="0.45" fill="#3cb844" opacity="0.57"/><circle cx="306.0" cy="359.9" r="0.37" fill="#3cb844" opacity="0.34"/><circle cx="299.6" cy="361.1" r="0.32" fill="#3cb844" opacity="0.36"/><circle cx="298.3" cy="365.0" r="0.43" fill="#3cb844" opacity="0.55"/><circle cx="315.5" cy="365.9" r="0.55" fill="#3cb844" opacity="0.39"/><circle cx="299.4" cy="360.2" r="0.42" fill="#3cb844" opacity="0.48"/><circle cx="309.2" cy="377.6" r="0.56" fill="#3cb844" opacity="0.28"/><circle cx="307.3" cy="363.7" r="0.44" fill="#3cb844" opacity="0.23"/><circle cx="310.3" cy="380.6" r="0.39" fill="#3cb844" opacity="0.23"/><circle cx="303.1" cy="365.8" r="0.48" fill="#3cb844" opacity="0.47"/><circle cx="314.1" cy="368.2" r="0.56" fill="#3cb844" opacity="0.31"/><circle cx="298.8" cy="360.5" r="0.58" fill="#3cb844" opacity="0.59"/><circle cx="307.0" cy="371.4" r="0.53" fill="#3cb844" opacity="0.48"/><circle cx="309.7" cy="363.9" r="0.43" fill="#3cb844" opacity="0.23"/><circle cx="312.0" cy="375.2" r="0.58" fill="#3cb844" opacity="0.19"/><circle cx="303.5" cy="364.7" r="0.33" fill="#3cb844" opacity="0.33"/><circle cx="316.8" cy="377.6" r="0.32" fill="#3cb844" opacity="0.38"/><circle cx="307.0" cy="361.8" r="0.31" fill="#3cb844" opacity="0.57"/><circle cx="317.3" cy="385.9" r="0.45" fill="#3cb844" opacity="0.56"/><circle cx="316.9" cy="361.6" r="0.45" fill="#3cb844" opacity="0.17"/><circle cx="313.8" cy="373.2" r="0.53" fill="#3cb844" opacity="0.30"/><circle cx="306.8" cy="370.9" r="0.47" fill="#3cb844" opacity="0.18"/><circle cx="306.9" cy="368.1" r="0.49" fill="#3cb844" opacity="0.42"/><circle cx="310.2" cy="371.2" r="0.41" fill="#3cb844" opacity="0.60"/><circle cx="318.3" cy="383.5" r="0.36" fill="#3cb844" opacity="0.50"/><circle cx="314.9" cy="383.2" r="0.40" fill="#3cb844" opacity="0.45"/><circle cx="307.6" cy="389.3" r="0.38" fill="#3cb844" opacity="0.17"/><circle cx="301.5" cy="367.0" r="0.47" fill="#3cb844" opacity="0.21"/><circle cx="305.0" cy="372.8" r="0.50" fill="#3cb844" opacity="0.28"/><circle cx="302.1" cy="359.3" r="0.52" fill="#3cb844" opacity="0.49"/><circle cx="320.5" cy="389.1" r="0.42" fill="#3cb844" opacity="0.52"/><circle cx="315.2" cy="372.9" r="0.46" fill="#3cb844" opacity="0.19"/><circle cx="318.8" cy="379.7" r="0.53" fill="#3cb844" opacity="0.53"/><circle cx="302.0" cy="361.3" r="0.44" fill="#3cb844" opacity="0.45"/><circle cx="308.0" cy="374.4" r="0.55" fill="#3cb844" opacity="0.16"/><circle cx="315.4" cy="373.4" r="0.58" fill="#3cb844" opacity="0.24"/><circle cx="317.7" cy="382.3" r="0.56" fill="#3cb844" opacity="0.49"/><circle cx="313.4" cy="374.0" r="0.33" fill="#3cb844" opacity="0.19"/><circle cx="307.3" cy="369.5" r="0.56" fill="#3cb844" opacity="0.46"/><circle cx="316.8" cy="377.4" r="0.40" fill="#3cb844" opacity="0.18"/><circle cx="311.7" cy="384.9" r="0.52" fill="#3cb844" opacity="0.44"/><circle cx="320.0" cy="386.6" r="0.33" fill="#3cb844" opacity="0.54"/><circle cx="307.5" cy="352.7" r="0.60" fill="#3cb844" opacity="0.43"/><circle cx="316.1" cy="378.0" r="0.54" fill="#3cb844" opacity="0.35"/><circle cx="309.3" cy="363.9" r="0.42" fill="#3cb844" opacity="0.35"/><circle cx="306.0" cy="372.3" r="0.54" fill="#3cb844" opacity="0.35"/><circle cx="311.6" cy="364.0" r="0.59" fill="#3cb844" opacity="0.20"/><circle cx="316.8" cy="368.8" r="0.59" fill="#3cb844" opacity="0.17"/><circle cx="310.7" cy="378.7" r="0.43" fill="#3cb844" opacity="0.49"/><circle cx="309.9" cy="370.2" r="0.55" fill="#3cb844" opacity="0.25"/><circle cx="314.1" cy="387.1" r="0.52" fill="#3cb844" opacity="0.58"/><circle cx="305.2" cy="358.5" r="0.32" fill="#3cb844" opacity="0.20"/><circle cx="298.8" cy="356.4" r="0.40" fill="#3cb844" opacity="0.17"/><circle cx="318.2" cy="382.4" r="0.31" fill="#3cb844" opacity="0.50"/><circle cx="304.5" cy="359.4" r="0.33" fill="#3cb844" opacity="0.49"/><circle cx="306.6" cy="378.6" r="0.45" fill="#3cb844" opacity="0.56"/><circle cx="318.1" cy="366.4" r="0.40" fill="#3cb844" opacity="0.45"/><circle cx="308.2" cy="369.9" r="0.37" fill="#3cb844" opacity="0.40"/><circle cx="324.7" cy="367.3" r="0.57" fill="#3cb844" opacity="0.27"/><circle cx="321.6" cy="379.5" r="0.30" fill="#3cb844" opacity="0.59"/><circle cx="312.4" cy="373.3" r="0.42" fill="#3cb844" opacity="0.15"/><circle cx="300.4" cy="368.5" r="0.43" fill="#3cb844" opacity="0.19"/><circle cx="309.0" cy="381.3" r="0.30" fill="#3cb844" opacity="0.32"/><circle cx="310.5" cy="374.0" r="0.54" fill="#3cb844" opacity="0.38"/><circle cx="308.0" cy="394.1" r="0.39" fill="#3cb844" opacity="0.39"/><circle cx="299.7" cy="366.1" r="0.53" fill="#3cb844" opacity="0.28"/><circle cx="303.3" cy="364.5" r="0.44" fill="#3cb844" opacity="0.43"/><circle cx="342.8" cy="394.9" r="0.54" fill="#d03a28" opacity="0.27"/><circle cx="329.7" cy="401.3" r="0.48" fill="#d03a28" opacity="0.15"/><circle cx="322.2" cy="393.0" r="0.39" fill="#d03a28" opacity="0.52"/><circle cx="322.7" cy="394.6" r="0.55" fill="#d03a28" opacity="0.33"/><circle cx="330.5" cy="387.7" r="0.37" fill="#d03a28" opacity="0.50"/><circle cx="329.6" cy="401.4" r="0.52" fill="#d03a28" opacity="0.60"/><circle cx="322.4" cy="399.3" r="0.59" fill="#d03a28" opacity="0.20"/><circle cx="319.4" cy="387.8" r="0.52" fill="#d03a28" opacity="0.40"/><circle cx="327.3" cy="390.2" r="0.52" fill="#d03a28" opacity="0.29"/><circle cx="327.0" cy="401.3" r="0.50" fill="#d03a28" opacity="0.36"/><circle cx="333.2" cy="393.5" r="0.34" fill="#d03a28" opacity="0.42"/><circle cx="326.4" cy="389.6" r="0.58" fill="#d03a28" opacity="0.54"/><circle cx="317.8" cy="385.1" r="0.46" fill="#d03a28" opacity="0.44"/><circle cx="321.7" cy="392.1" r="0.43" fill="#d03a28" opacity="0.15"/><circle cx="328.8" cy="396.7" r="0.59" fill="#d03a28" opacity="0.17"/><circle cx="328.1" cy="399.1" r="0.48" fill="#d03a28" opacity="0.23"/><circle cx="326.7" cy="390.9" r="0.40" fill="#d03a28" opacity="0.45"/><circle cx="321.2" cy="392.8" r="0.39" fill="#d03a28" opacity="0.17"/><circle cx="319.1" cy="378.8" r="0.55" fill="#d03a28" opacity="0.19"/><circle cx="318.6" cy="396.7" r="0.42" fill="#d03a28" opacity="0.59"/><circle cx="328.4" cy="397.5" r="0.45" fill="#d03a28" opacity="0.56"/><circle cx="324.6" cy="395.1" r="0.52" fill="#d03a28" opacity="0.48"/><circle cx="327.3" cy="401.3" r="0.55" fill="#d03a28" opacity="0.28"/><circle cx="329.2" cy="390.1" r="0.46" fill="#d03a28" opacity="0.36"/><circle cx="322.7" cy="397.6" r="0.54" fill="#d03a28" opacity="0.33"/><circle cx="335.5" cy="397.2" r="0.49" fill="#d03a28" opacity="0.39"/><circle cx="322.0" cy="399.3" r="0.59" fill="#d03a28" opacity="0.47"/><circle cx="327.9" cy="390.4" r="0.39" fill="#d03a28" opacity="0.31"/><circle cx="321.3" cy="389.5" r="0.44" fill="#d03a28" opacity="0.23"/><circle cx="326.9" cy="396.0" r="0.49" fill="#d03a28" opacity="0.30"/><circle cx="324.9" cy="387.7" r="0.47" fill="#d03a28" opacity="0.41"/><circle cx="328.3" cy="390.0" r="0.31" fill="#d03a28" opacity="0.48"/><circle cx="322.8" cy="395.6" r="0.35" fill="#d03a28" opacity="0.49"/><circle cx="324.5" cy="389.8" r="0.39" fill="#d03a28" opacity="0.37"/><circle cx="332.6" cy="408.7" r="0.38" fill="#d03a28" opacity="0.16"/><circle cx="320.0" cy="392.6" r="0.46" fill="#d03a28" opacity="0.27"/><circle cx="319.6" cy="388.3" r="0.33" fill="#d03a28" opacity="0.17"/><circle cx="328.9" cy="397.9" r="0.58" fill="#d03a28" opacity="0.19"/><circle cx="328.0" cy="392.9" r="0.46" fill="#d03a28" opacity="0.15"/><circle cx="322.2" cy="392.2" r="0.58" fill="#d03a28" opacity="0.60"/><circle cx="316.1" cy="400.9" r="0.40" fill="#d03a28" opacity="0.43"/><circle cx="336.8" cy="404.8" r="0.41" fill="#d03a28" opacity="0.42"/><circle cx="319.5" cy="387.4" r="0.48" fill="#d03a28" opacity="0.43"/><circle cx="334.2" cy="396.2" r="0.58" fill="#d03a28" opacity="0.52"/><circle cx="327.6" cy="396.1" r="0.38" fill="#d03a28" opacity="0.34"/><circle cx="323.9" cy="397.8" r="0.50" fill="#d03a28" opacity="0.48"/><circle cx="327.7" cy="401.0" r="0.40" fill="#d03a28" opacity="0.39"/><circle cx="328.5" cy="382.2" r="0.47" fill="#d03a28" opacity="0.52"/><circle cx="330.2" cy="397.2" r="0.38" fill="#d03a28" opacity="0.20"/><circle cx="330.9" cy="392.8" r="0.39" fill="#d03a28" opacity="0.48"/><circle cx="330.3" cy="382.2" r="0.34" fill="#d03a28" opacity="0.52"/><circle cx="328.7" cy="398.0" r="0.46" fill="#d03a28" opacity="0.26"/><circle cx="326.1" cy="393.1" r="0.45" fill="#d03a28" opacity="0.22"/><circle cx="317.3" cy="394.9" r="0.45" fill="#d03a28" opacity="0.39"/><circle cx="329.8" cy="392.0" r="0.47" fill="#d03a28" opacity="0.38"/><circle cx="325.6" cy="397.1" r="0.38" fill="#d03a28" opacity="0.60"/><circle cx="330.4" cy="390.4" r="0.36" fill="#d03a28" opacity="0.38"/><circle cx="322.4" cy="399.8" r="0.37" fill="#d03a28" opacity="0.26"/><circle cx="320.7" cy="380.8" r="0.56" fill="#d03a28" opacity="0.30"/><circle cx="319.8" cy="397.5" r="0.47" fill="#d03a28" opacity="0.54"/><circle cx="325.6" cy="397.8" r="0.34" fill="#d03a28" opacity="0.38"/><circle cx="331.4" cy="390.9" r="0.53" fill="#d03a28" opacity="0.19"/><circle cx="326.1" cy="397.0" r="0.45" fill="#d03a28" opacity="0.33"/><circle cx="327.5" cy="395.6" r="0.50" fill="#d03a28" opacity="0.55"/><circle cx="324.7" cy="392.8" r="0.53" fill="#d03a28" opacity="0.29"/><circle cx="318.2" cy="381.9" r="0.59" fill="#d03a28" opacity="0.23"/><circle cx="326.9" cy="395.1" r="0.43" fill="#d03a28" opacity="0.35"/><circle cx="319.4" cy="377.8" r="0.33" fill="#d03a28" opacity="0.19"/><circle cx="331.4" cy="390.2" r="0.41" fill="#d03a28" opacity="0.37"/><circle cx="327.3" cy="394.9" r="0.34" fill="#d03a28" opacity="0.52"/><circle cx="321.0" cy="394.3" r="0.39" fill="#d03a28" opacity="0.60"/><circle cx="335.9" cy="406.0" r="0.49" fill="#d03a28" opacity="0.27"/><circle cx="321.3" cy="391.0" r="0.30" fill="#d03a28" opacity="0.36"/><circle cx="326.9" cy="394.3" r="0.34" fill="#d03a28" opacity="0.25"/><circle cx="321.6" cy="390.9" r="0.51" fill="#d03a28" opacity="0.39"/><circle cx="324.2" cy="396.1" r="0.44" fill="#d03a28" opacity="0.19"/><circle cx="329.6" cy="394.4" r="0.50" fill="#d03a28" opacity="0.20"/><circle cx="327.6" cy="392.9" r="0.38" fill="#d03a28" opacity="0.56"/><circle cx="330.9" cy="390.4" r="0.38" fill="#d03a28" opacity="0.52"/><circle cx="324.7" cy="394.7" r="0.59" fill="#d03a28" opacity="0.19"/><circle cx="331.7" cy="399.5" r="0.54" fill="#d03a28" opacity="0.54"/><circle cx="320.8" cy="393.8" r="0.59" fill="#d03a28" opacity="0.50"/><circle cx="318.9" cy="392.6" r="0.52" fill="#d03a28" opacity="0.17"/><circle cx="335.0" cy="387.9" r="0.44" fill="#d03a28" opacity="0.16"/><circle cx="338.7" cy="394.2" r="0.53" fill="#d03a28" opacity="0.39"/><circle cx="318.5" cy="379.7" r="0.30" fill="#d03a28" opacity="0.28"/><circle cx="328.4" cy="393.6" r="0.58" fill="#d03a28" opacity="0.44"/><circle cx="326.9" cy="388.3" r="0.57" fill="#d03a28" opacity="0.27"/><circle cx="334.3" cy="401.6" r="0.45" fill="#d03a28" opacity="0.33"/><circle cx="333.3" cy="397.3" r="0.45" fill="#d03a28" opacity="0.46"/><circle cx="328.8" cy="398.7" r="0.32" fill="#d03a28" opacity="0.22"/><circle cx="329.2" cy="399.4" r="0.32" fill="#d03a28" opacity="0.44"/><circle cx="320.7" cy="398.9" r="0.49" fill="#d03a28" opacity="0.49"/><circle cx="321.1" cy="395.5" r="0.36" fill="#d03a28" opacity="0.24"/><circle cx="326.3" cy="384.2" r="0.46" fill="#d03a28" opacity="0.29"/><circle cx="337.3" cy="396.5" r="0.54" fill="#d03a28" opacity="0.19"/><circle cx="323.1" cy="388.9" r="0.35" fill="#d03a28" opacity="0.26"/><circle cx="324.4" cy="389.8" r="0.44" fill="#d03a28" opacity="0.20"/><circle cx="321.1" cy="386.0" r="0.46" fill="#d03a28" opacity="0.29"/><circle cx="322.6" cy="400.0" r="0.44" fill="#d03a28" opacity="0.15"/><circle cx="327.9" cy="389.0" r="0.34" fill="#d03a28" opacity="0.36"/><circle cx="332.7" cy="405.4" r="0.33" fill="#d03a28" opacity="0.56"/><circle cx="334.0" cy="401.0" r="0.43" fill="#d03a28" opacity="0.56"/><circle cx="328.0" cy="400.8" r="0.57" fill="#d03a28" opacity="0.46"/><circle cx="319.5" cy="385.4" r="0.49" fill="#d03a28" opacity="0.44"/><circle cx="329.4" cy="390.2" r="0.41" fill="#d03a28" opacity="0.30"/><circle cx="324.1" cy="387.5" r="0.31" fill="#d03a28" opacity="0.59"/><circle cx="315.3" cy="383.7" r="0.44" fill="#d03a28" opacity="0.32"/><circle cx="327.3" cy="400.8" r="0.54" fill="#d03a28" opacity="0.26"/><circle cx="328.5" cy="406.4" r="0.43" fill="#d03a28" opacity="0.32"/><circle cx="328.3" cy="399.6" r="0.32" fill="#d03a28" opacity="0.43"/><circle cx="326.7" cy="397.5" r="0.35" fill="#d03a28" opacity="0.44"/><circle cx="332.4" cy="399.8" r="0.47" fill="#d03a28" opacity="0.40"/><circle cx="326.9" cy="388.9" r="0.45" fill="#d03a28" opacity="0.28"/><circle cx="331.8" cy="396.8" r="0.33" fill="#d03a28" opacity="0.43"/><circle cx="327.8" cy="407.4" r="0.31" fill="#d03a28" opacity="0.29"/><circle cx="329.3" cy="393.9" r="0.38" fill="#d03a28" opacity="0.34"/><circle cx="324.1" cy="387.4" r="0.42" fill="#d03a28" opacity="0.33"/><circle cx="321.3" cy="388.7" r="0.49" fill="#d03a28" opacity="0.40"/><circle cx="308.8" cy="398.9" r="0.47" fill="#d03a28" opacity="0.43"/><circle cx="329.8" cy="397.3" r="0.38" fill="#d03a28" opacity="0.50"/><circle cx="325.7" cy="397.7" r="0.44" fill="#d03a28" opacity="0.54"/><circle cx="321.7" cy="393.1" r="0.57" fill="#d03a28" opacity="0.22"/><circle cx="330.9" cy="401.6" r="0.41" fill="#d03a28" opacity="0.21"/><circle cx="330.4" cy="392.4" r="0.33" fill="#d03a28" opacity="0.48"/><circle cx="327.4" cy="393.4" r="0.41" fill="#d03a28" opacity="0.39"/><circle cx="326.2" cy="394.4" r="0.58" fill="#d03a28" opacity="0.30"/><circle cx="330.5" cy="401.8" r="0.38" fill="#d03a28" opacity="0.50"/><circle cx="323.2" cy="409.2" r="0.49" fill="#d03a28" opacity="0.45"/><circle cx="310.2" cy="392.5" r="0.32" fill="#d03a28" opacity="0.46"/><circle cx="323.5" cy="399.8" r="0.46" fill="#d03a28" opacity="0.53"/><circle cx="325.2" cy="395.8" r="0.55" fill="#d03a28" opacity="0.19"/><circle cx="325.2" cy="391.2" r="0.56" fill="#d03a28" opacity="0.21"/><circle cx="329.1" cy="397.7" r="0.37" fill="#d03a28" opacity="0.28"/><circle cx="327.5" cy="399.5" r="0.54" fill="#d03a28" opacity="0.41"/><circle cx="325.8" cy="397.7" r="0.57" fill="#d03a28" opacity="0.43"/><circle cx="319.1" cy="393.5" r="0.54" fill="#d03a28" opacity="0.52"/><circle cx="326.3" cy="395.2" r="0.55" fill="#d03a28" opacity="0.45"/><circle cx="322.2" cy="391.8" r="0.56" fill="#d03a28" opacity="0.51"/><circle cx="320.4" cy="387.9" r="0.49" fill="#d03a28" opacity="0.24"/><circle cx="325.3" cy="389.3" r="0.42" fill="#d03a28" opacity="0.31"/><circle cx="327.6" cy="401.5" r="0.35" fill="#d03a28" opacity="0.44"/><circle cx="321.3" cy="397.4" r="0.31" fill="#d03a28" opacity="0.51"/><circle cx="329.7" cy="402.6" r="0.38" fill="#d03a28" opacity="0.49"/><circle cx="325.9" cy="395.2" r="0.40" fill="#d03a28" opacity="0.17"/><circle cx="327.0" cy="391.9" r="0.37" fill="#d03a28" opacity="0.34"/><circle cx="329.5" cy="400.1" r="0.33" fill="#d03a28" opacity="0.50"/><circle cx="321.9" cy="390.7" r="0.56" fill="#d03a28" opacity="0.36"/><circle cx="327.9" cy="401.8" r="0.57" fill="#d03a28" opacity="0.37"/><circle cx="327.5" cy="393.0" r="0.56" fill="#d03a28" opacity="0.43"/><circle cx="322.4" cy="392.5" r="0.45" fill="#d03a28" opacity="0.57"/><circle cx="328.3" cy="401.0" r="0.30" fill="#d03a28" opacity="0.22"/><circle cx="325.4" cy="394.8" r="0.50" fill="#d03a28" opacity="0.45"/><circle cx="329.4" cy="393.9" r="0.33" fill="#d03a28" opacity="0.34"/><circle cx="319.2" cy="391.4" r="0.46" fill="#d03a28" opacity="0.46"/><circle cx="332.6" cy="389.6" r="0.45" fill="#d03a28" opacity="0.53"/><circle cx="323.7" cy="392.7" r="0.59" fill="#d03a28" opacity="0.29"/><circle cx="327.5" cy="400.0" r="0.46" fill="#d03a28" opacity="0.38"/><circle cx="324.8" cy="392.8" r="0.45" fill="#d03a28" opacity="0.47"/><circle cx="335.4" cy="399.1" r="0.42" fill="#d03a28" opacity="0.19"/><circle cx="328.1" cy="392.2" r="0.41" fill="#d03a28" opacity="0.48"/><circle cx="329.3" cy="396.2" r="0.39" fill="#d03a28" opacity="0.44"/><circle cx="318.2" cy="385.7" r="0.47" fill="#d03a28" opacity="0.36"/><circle cx="330.3" cy="390.1" r="0.32" fill="#d03a28" opacity="0.39"/><circle cx="325.1" cy="400.4" r="0.38" fill="#d03a28" opacity="0.38"/><circle cx="325.1" cy="389.9" r="0.41" fill="#d03a28" opacity="0.41"/><circle cx="333.7" cy="390.7" r="0.54" fill="#d03a28" opacity="0.15"/><circle cx="325.2" cy="389.3" r="0.36" fill="#d03a28" opacity="0.40"/><circle cx="335.4" cy="399.1" r="0.33" fill="#d03a28" opacity="0.47"/><circle cx="333.0" cy="389.5" r="0.35" fill="#d03a28" opacity="0.26"/><circle cx="322.6" cy="397.6" r="0.54" fill="#d03a28" opacity="0.49"/><circle cx="322.8" cy="390.1" r="0.58" fill="#d03a28" opacity="0.55"/><circle cx="328.6" cy="403.1" r="0.50" fill="#d03a28" opacity="0.34"/><circle cx="320.3" cy="387.2" r="0.51" fill="#d03a28" opacity="0.30"/><circle cx="326.1" cy="396.5" r="0.46" fill="#d03a28" opacity="0.55"/><circle cx="326.2" cy="393.9" r="0.52" fill="#d03a28" opacity="0.24"/><circle cx="320.1" cy="387.0" r="0.45" fill="#d03a28" opacity="0.34"/><circle cx="328.8" cy="393.1" r="0.44" fill="#d03a28" opacity="0.38"/><circle cx="325.0" cy="391.1" r="0.52" fill="#d03a28" opacity="0.20"/><circle cx="326.9" cy="391.5" r="0.48" fill="#d03a28" opacity="0.56"/><circle cx="326.7" cy="398.0" r="0.53" fill="#d03a28" opacity="0.30"/><circle cx="326.3" cy="392.1" r="0.42" fill="#d03a28" opacity="0.53"/><circle cx="323.2" cy="394.7" r="0.43" fill="#d03a28" opacity="0.17"/><circle cx="324.7" cy="388.9" r="0.57" fill="#d03a28" opacity="0.44"/><circle cx="331.5" cy="398.9" r="0.58" fill="#d03a28" opacity="0.38"/><circle cx="325.5" cy="396.8" r="0.31" fill="#d03a28" opacity="0.18"/><circle cx="324.1" cy="395.2" r="0.33" fill="#d03a28" opacity="0.44"/><circle cx="332.9" cy="401.1" r="0.43" fill="#d03a28" opacity="0.58"/><circle cx="333.6" cy="396.8" r="0.37" fill="#d03a28" opacity="0.31"/><circle cx="318.7" cy="399.6" r="0.58" fill="#d03a28" opacity="0.41"/><circle cx="331.1" cy="394.9" r="0.35" fill="#d03a28" opacity="0.28"/><circle cx="321.5" cy="389.7" r="0.43" fill="#d03a28" opacity="0.51"/><circle cx="328.3" cy="395.7" r="0.44" fill="#d03a28" opacity="0.27"/><circle cx="321.2" cy="383.3" r="0.33" fill="#d03a28" opacity="0.41"/><circle cx="335.4" cy="390.1" r="0.45" fill="#d03a28" opacity="0.20"/><circle cx="329.2" cy="402.1" r="0.50" fill="#d03a28" opacity="0.34"/><circle cx="331.9" cy="393.9" r="0.36" fill="#d03a28" opacity="0.57"/><circle cx="315.5" cy="385.0" r="0.48" fill="#d03a28" opacity="0.57"/><circle cx="328.2" cy="406.1" r="0.40" fill="#d03a28" opacity="0.46"/><circle cx="324.4" cy="399.6" r="0.49" fill="#d03a28" opacity="0.35"/><circle cx="330.9" cy="390.1" r="0.47" fill="#d03a28" opacity="0.20"/><circle cx="328.5" cy="396.5" r="0.50" fill="#d03a28" opacity="0.35"/><circle cx="326.6" cy="390.0" r="0.57" fill="#d03a28" opacity="0.55"/><circle cx="332.0" cy="389.3" r="0.59" fill="#d03a28" opacity="0.16"/><circle cx="327.1" cy="393.6" r="0.47" fill="#d03a28" opacity="0.19"/><circle cx="332.1" cy="394.3" r="0.52" fill="#d03a28" opacity="0.47"/><circle cx="324.2" cy="396.6" r="0.37" fill="#d03a28" opacity="0.39"/><circle cx="332.0" cy="395.7" r="0.42" fill="#d03a28" opacity="0.52"/><circle cx="330.5" cy="395.3" r="0.40" fill="#d03a28" opacity="0.53"/><circle cx="315.6" cy="384.9" r="0.50" fill="#d03a28" opacity="0.17"/><circle cx="321.5" cy="393.3" r="0.31" fill="#d03a28" opacity="0.36"/><circle cx="329.3" cy="387.4" r="0.31" fill="#d03a28" opacity="0.31"/><circle cx="327.2" cy="396.2" r="0.32" fill="#d03a28" opacity="0.51"/><circle cx="328.0" cy="396.6" r="0.39" fill="#d03a28" opacity="0.39"/><circle cx="322.2" cy="388.2" r="0.53" fill="#d03a28" opacity="0.41"/><circle cx="323.4" cy="394.2" r="0.32" fill="#d03a28" opacity="0.51"/><circle cx="330.3" cy="397.5" r="0.30" fill="#d03a28" opacity="0.39"/><circle cx="331.2" cy="395.9" r="0.42" fill="#d03a28" opacity="0.16"/><circle cx="332.2" cy="394.9" r="0.44" fill="#d03a28" opacity="0.26"/><circle cx="332.5" cy="400.0" r="0.32" fill="#d03a28" opacity="0.38"/><circle cx="325.4" cy="392.0" r="0.47" fill="#d03a28" opacity="0.37"/><circle cx="322.5" cy="385.5" r="0.46" fill="#d03a28" opacity="0.39"/><circle cx="322.9" cy="389.0" r="0.41" fill="#d03a28" opacity="0.26"/><circle cx="330.1" cy="400.5" r="0.41" fill="#d03a28" opacity="0.47"/><circle cx="323.1" cy="393.9" r="0.36" fill="#d03a28" opacity="0.49"/><circle cx="319.0" cy="384.2" r="0.47" fill="#d03a28" opacity="0.41"/><circle cx="329.0" cy="400.1" r="0.55" fill="#d03a28" opacity="0.33"/><circle cx="333.8" cy="397.2" r="0.32" fill="#d03a28" opacity="0.22"/><circle cx="327.6" cy="396.6" r="0.46" fill="#d03a28" opacity="0.33"/><circle cx="324.1" cy="391.0" r="0.53" fill="#d03a28" opacity="0.42"/><circle cx="326.4" cy="395.2" r="0.34" fill="#d03a28" opacity="0.42"/><circle cx="326.6" cy="397.1" r="0.48" fill="#d03a28" opacity="0.40"/><circle cx="327.4" cy="394.8" r="0.47" fill="#d03a28" opacity="0.25"/><circle cx="328.1" cy="388.1" r="0.57" fill="#d03a28" opacity="0.45"/><circle cx="324.7" cy="399.7" r="0.52" fill="#d03a28" opacity="0.29"/><circle cx="329.3" cy="384.1" r="0.36" fill="#d03a28" opacity="0.40"/><circle cx="319.0" cy="389.3" r="0.41" fill="#d03a28" opacity="0.57"/><circle cx="321.4" cy="405.9" r="0.36" fill="#d03a28" opacity="0.30"/><circle cx="325.8" cy="389.2" r="0.36" fill="#d03a28" opacity="0.29"/><circle cx="331.1" cy="398.7" r="0.41" fill="#d03a28" opacity="0.37"/><circle cx="313.7" cy="395.0" r="0.52" fill="#d03a28" opacity="0.51"/><circle cx="326.7" cy="395.0" r="0.39" fill="#d03a28" opacity="0.38"/><circle cx="325.2" cy="396.0" r="0.32" fill="#d03a28" opacity="0.57"/><circle cx="323.0" cy="395.5" r="0.50" fill="#d03a28" opacity="0.16"/><circle cx="319.7" cy="395.6" r="0.33" fill="#d03a28" opacity="0.56"/><circle cx="312.4" cy="387.9" r="0.37" fill="#d03a28" opacity="0.48"/><circle cx="323.7" cy="400.4" r="0.44" fill="#d03a28" opacity="0.55"/><circle cx="331.6" cy="396.1" r="0.53" fill="#d03a28" opacity="0.56"/><circle cx="329.7" cy="391.7" r="0.37" fill="#d03a28" opacity="0.38"/><circle cx="322.7" cy="388.3" r="0.54" fill="#d03a28" opacity="0.32"/><circle cx="331.3" cy="398.3" r="0.58" fill="#d03a28" opacity="0.45"/><circle cx="333.9" cy="397.6" r="0.40" fill="#d03a28" opacity="0.18"/><circle cx="329.1" cy="391.0" r="0.53" fill="#d03a28" opacity="0.25"/><circle cx="333.2" cy="395.2" r="0.43" fill="#d03a28" opacity="0.32"/><circle cx="325.5" cy="399.5" r="0.57" fill="#d03a28" opacity="0.21"/><circle cx="323.4" cy="400.1" r="0.37" fill="#d03a28" opacity="0.30"/><circle cx="328.6" cy="395.6" r="0.48" fill="#d03a28" opacity="0.32"/><circle cx="329.8" cy="393.4" r="0.54" fill="#d03a28" opacity="0.19"/><circle cx="328.9" cy="389.7" r="0.32" fill="#d03a28" opacity="0.45"/><circle cx="328.5" cy="392.3" r="0.41" fill="#d03a28" opacity="0.18"/></g>
<line x1="209.2" y1="408.3" x2="232" y2="408.3" stroke="#eee" stroke-width="1.6"/>
<text x="187.3" y="246.0" style="font-family:'Liberation Sans',Arial,sans-serif;font-weight:bold;font-size:16px" fill="#111">e</text>
<rect x="16" y="453.5" width="162" height="161.20000000000005" fill="#252122"/>
<g clip-path="url(#cpg)"><path d="M0,640 L0,466 Q50,466 89,476 Q135,488 178,515 L190,520 L190,640 Z" fill="#2f2b2c" opacity="0.9" filter="url(#b1_5)"/><path d="M89,476 Q135,488 180,516" fill="none" stroke="#5a5657" stroke-width="1" opacity="0.45" filter="url(#b0_6)"/><ellipse cx="102" cy="565" rx="62" ry="70" fill="#575354" opacity="0.5" filter="url(#b16)"/><ellipse cx="95" cy="530" rx="13" ry="55" fill="#8a8889" opacity="0.45" filter="url(#b7)"/><path d="M95,527 Q140,527 180,560" fill="none" stroke="#8a8889" stroke-width="3" opacity="0.3" filter="url(#b2)"/><path d="M16,545 Q60,525 95,527" fill="none" stroke="#777" stroke-width="2" opacity="0.15" filter="url(#b2)"/><path d="M40,604 Q80,590 140,600" fill="none" stroke="#6a6667" stroke-width="1.5" opacity="0.3" filter="url(#b1)"/><ellipse cx="95" cy="502" rx="2.8" ry="26" fill="#eee" opacity="0.75" filter="url(#b1_8)"/><ellipse cx="95" cy="500" rx="6" ry="26" fill="#bbb" opacity="0.3" filter="url(#b3)"/><ellipse cx="94.8" cy="506" rx="1.8" ry="3" fill="#fff" opacity="0.95" filter="url(#b1)"/><ellipse cx="95" cy="552" rx="3.2" ry="17" fill="#f4f4f4" opacity="0.85" filter="url(#b2)"/></g>
<line x1="20.9" y1="608.5" x2="43.1" y2="608.5" stroke="#eee" stroke-width="1.6"/>
<text x="-0.4" y="446.2" style="font-family:'Liberation Sans',Arial,sans-serif;font-weight:bold;font-size:16px" fill="#111">g</text>
<rect x="200.5" y="454" width="163.0" height="162" fill="#080a0a"/>
<g clip-path="url(#cph)"><ellipse cx="283" cy="525" rx="22" ry="55" fill="#1c241c" opacity="0.4" filter="url(#b16)"/><path d="M278,469 Q320,474 363,503" fill="none" stroke="#5a5a50" stroke-width="1" opacity="0.3" filter="url(#b0_8)"/><path d="M276,468 Q288,468 300,471" fill="none" stroke="#c8c8a0" stroke-width="1.2" opacity="0.5" filter="url(#b0_8)"/><path d="M200,540 Q280,508 363,552" fill="none" stroke="#2a3040" stroke-width="2" opacity="0.25" filter="url(#b2)"/><path d="M230,603 Q265,590 320,600" fill="none" stroke="#3a3a30" stroke-width="1.2" opacity="0.4" filter="url(#b1)"/><ellipse cx="281.5" cy="572" rx="6" ry="14" fill="#801a10" opacity="0.45" filter="url(#b5)"/><ellipse cx="276" cy="530" rx="10" ry="14" fill="#203a90" opacity="0.35" filter="url(#b6)"/><ellipse cx="284" cy="486" rx="18" ry="23.799999999999997" fill="#b8c03a" opacity="0.23800000000000002" filter="url(#b6)"/><ellipse cx="284" cy="488" rx="9" ry="13.600000000000001" fill="#b8c03a" opacity="0.7224999999999999" filter="url(#b3)"/><ellipse cx="284" cy="477.5" rx="4.05" ry="11.899999999999999" fill="#b8c03a" opacity="0.51" filter="url(#b2_5)"/><ellipse cx="283" cy="515.5" rx="20" ry="18.2" fill="#3a62d0" opacity="0.22400000000000003" filter="url(#b6)"/><ellipse cx="283" cy="517.5" rx="10" ry="10.4" fill="#3a62d0" opacity="0.68" filter="url(#b3)"/><ellipse cx="283" cy="509.0" rx="4.5" ry="9.1" fill="#3a62d0" opacity="0.48" filter="url(#b2_5)"/><ellipse cx="283" cy="540" rx="13.0" ry="15.399999999999999" fill="#30c040" opacity="0.23800000000000002" filter="url(#b6)"/><ellipse cx="283" cy="542" rx="6.5" ry="8.8" fill="#30c040" opacity="0.7224999999999999" filter="url(#b3)"/><ellipse cx="283" cy="534.5" rx="2.9250000000000003" ry="7.699999999999999" fill="#30c040" opacity="0.51" filter="url(#b2_5)"/><ellipse cx="282" cy="561" rx="13.0" ry="15.399999999999999" fill="#e03a20" opacity="0.23800000000000002" filter="url(#b6)"/><ellipse cx="282" cy="563" rx="6.5" ry="8.8" fill="#e03a20" opacity="0.7224999999999999" filter="url(#b3)"/><ellipse cx="282" cy="555.5" rx="2.9250000000000003" ry="7.699999999999999" fill="#e03a20" opacity="0.51" filter="url(#b2_5)"/><ellipse cx="284" cy="488" rx="3" ry="7" fill="#e8f080" opacity="0.55" filter="url(#b2)"/></g>
<line x1="209.3" y1="608" x2="231.8" y2="608" stroke="#eee" stroke-width="1.6"/>
<text x="186.8" y="447" style="font-family:'Liberation Sans',Arial,sans-serif;font-weight:bold;font-size:16px" fill="#111">h</text>
<rect x="425.2" y="267" width="250.8" height="128.60000000000002" fill="#fff"/><line x1="460.96" y1="267" x2="460.96" y2="395.6" stroke="#d6d6d6" stroke-width="1"/><line x1="496.73" y1="267" x2="496.73" y2="395.6" stroke="#d6d6d6" stroke-width="1"/><line x1="532.50" y1="267" x2="532.50" y2="395.6" stroke="#d6d6d6" stroke-width="1"/><line x1="568.26" y1="267" x2="568.26" y2="395.6" stroke="#d6d6d6" stroke-width="1"/><line x1="604.02" y1="267" x2="604.02" y2="395.6" stroke="#d6d6d6" stroke-width="1"/><line x1="639.79" y1="267" x2="639.79" y2="395.6" stroke="#d6d6d6" stroke-width="1"/><line x1="425.2" y1="383.88" x2="676" y2="383.88" stroke="#d6d6d6" stroke-width="1"/><line x1="425.2" y1="372.16" x2="676" y2="372.16" stroke="#d6d6d6" stroke-width="1"/><line x1="425.2" y1="360.44" x2="676" y2="360.44" stroke="#d6d6d6" stroke-width="1"/><line x1="425.2" y1="348.72" x2="676" y2="348.72" stroke="#d6d6d6" stroke-width="1"/><line x1="425.2" y1="337.00" x2="676" y2="337.00" stroke="#d6d6d6" stroke-width="1"/><line x1="425.2" y1="325.28" x2="676" y2="325.28" stroke="#d6d6d6" stroke-width="1"/><line x1="425.2" y1="313.56" x2="676" y2="313.56" stroke="#d6d6d6" stroke-width="1"/><line x1="425.2" y1="301.84" x2="676" y2="301.84" stroke="#d6d6d6" stroke-width="1"/><line x1="425.2" y1="290.12" x2="676" y2="290.12" stroke="#d6d6d6" stroke-width="1"/><line x1="425.2" y1="278.40" x2="676" y2="278.40" stroke="#d6d6d6" stroke-width="1"/><rect x="426.70" y="370.18" width="1.15" height="1.15" fill="#3a68b8"/><rect x="429.52" y="369.53" width="1.15" height="1.15" fill="#3a68b8"/><rect x="432.35" y="369.53" width="1.15" height="1.15" fill="#3a68b8"/><rect x="435.18" y="369.53" width="1.15" height="1.15" fill="#3a68b8"/><rect x="438.00" y="369.53" width="1.15" height="1.15" fill="#3a68b8"/><rect x="440.83" y="369.53" width="1.15" height="1.15" fill="#3a68b8"/><rect x="443.65" y="369.53" width="1.15" height="1.15" fill="#3a68b8"/><rect x="446.48" y="369.53" width="1.15" height="1.15" fill="#3a68b8"/><rect x="449.30" y="368.24" width="1.15" height="1.15" fill="#3a68b8"/><rect x="452.13" y="368.89" width="1.15" height="1.15" fill="#3a68b8"/><rect x="454.95" y="366.55" width="1.15" height="1.15" fill="#3a68b8"/><rect x="457.78" y="355.41" width="1.15" height="1.15" fill="#3a68b8"/><rect x="463.43" y="333.08" width="1.15" height="1.15" fill="#3a68b8"/><rect x="466.26" y="333.08" width="1.15" height="1.15" fill="#3a68b8"/><rect x="469.08" y="319.31" width="1.15" height="1.15" fill="#3a68b8"/><rect x="471.91" y="319.31" width="1.15" height="1.15" fill="#3a68b8"/><rect x="474.73" y="336.72" width="1.15" height="1.15" fill="#3a68b8"/><rect x="477.56" y="342.52" width="1.15" height="1.15" fill="#3a68b8"/><rect x="480.38" y="342.52" width="1.15" height="1.15" fill="#3a68b8"/><rect x="483.21" y="342.52" width="1.15" height="1.15" fill="#3a68b8"/><rect x="486.03" y="342.52" width="1.15" height="1.15" fill="#3a68b8"/><rect x="488.86" y="342.11" width="1.15" height="1.15" fill="#3a68b8"/><rect x="491.68" y="337.30" width="1.15" height="1.15" fill="#3a68b8"/><rect x="494.51" y="337.30" width="1.15" height="1.15" fill="#3a68b8"/><rect x="497.34" y="327.34" width="1.15" height="1.15" fill="#3a68b8"/><rect x="497.34" y="393.15" width="1.15" height="1.15" fill="#3a68b8"/><rect x="500.16" y="317.03" width="1.15" height="1.15" fill="#3a68b8"/><rect x="500.16" y="391.86" width="1.15" height="1.15" fill="#3a68b8"/><rect x="502.99" y="314.27" width="1.15" height="1.15" fill="#3a68b8"/><rect x="502.99" y="391.39" width="1.15" height="1.15" fill="#3a68b8"/><rect x="505.81" y="313.40" width="1.15" height="1.15" fill="#3a68b8"/><rect x="505.81" y="390.98" width="1.15" height="1.15" fill="#3a68b8"/><rect x="508.64" y="315.97" width="1.15" height="1.15" fill="#3a68b8"/><rect x="508.64" y="384.54" width="1.15" height="1.15" fill="#3a68b8"/><rect x="511.46" y="322.42" width="1.15" height="1.15" fill="#3a68b8"/><rect x="511.46" y="384.13" width="1.15" height="1.15" fill="#3a68b8"/><rect x="514.29" y="322.42" width="1.15" height="1.15" fill="#3a68b8"/><rect x="514.29" y="384.13" width="1.15" height="1.15" fill="#3a68b8"/><rect x="517.11" y="325.17" width="1.15" height="1.15" fill="#3a68b8"/><rect x="517.11" y="382.84" width="1.15" height="1.15" fill="#3a68b8"/><rect x="519.94" y="327.34" width="1.15" height="1.15" fill="#3a68b8"/><rect x="519.94" y="381.31" width="1.15" height="1.15" fill="#3a68b8"/><rect x="522.76" y="322.83" width="1.15" height="1.15" fill="#3a68b8"/><rect x="522.76" y="378.97" width="1.15" height="1.15" fill="#3a68b8"/><rect x="525.59" y="322.42" width="1.15" height="1.15" fill="#3a68b8"/><rect x="525.59" y="378.56" width="1.15" height="1.15" fill="#3a68b8"/><rect x="528.42" y="319.84" width="1.15" height="1.15" fill="#3a68b8"/><rect x="528.42" y="375.98" width="1.15" height="1.15" fill="#3a68b8"/><rect x="531.24" y="322.42" width="1.15" height="1.15" fill="#3a68b8"/><rect x="531.24" y="371.70" width="1.15" height="1.15" fill="#3a68b8"/><rect x="534.07" y="319.84" width="1.15" height="1.15" fill="#3a68b8"/><rect x="534.07" y="371.06" width="1.15" height="1.15" fill="#3a68b8"/><rect x="536.89" y="322.01" width="1.15" height="1.15" fill="#3a68b8"/><rect x="536.89" y="370.59" width="1.15" height="1.15" fill="#3a68b8"/><rect x="539.72" y="320.25" width="1.15" height="1.15" fill="#3a68b8"/><rect x="539.72" y="370.18" width="1.15" height="1.15" fill="#3a68b8"/><rect x="542.54" y="318.55" width="1.15" height="1.15" fill="#3a68b8"/><rect x="542.54" y="368.89" width="1.15" height="1.15" fill="#3a68b8"/><rect x="545.37" y="315.97" width="1.15" height="1.15" fill="#3a68b8"/><rect x="545.37" y="367.42" width="1.15" height="1.15" fill="#3a68b8"/><rect x="548.19" y="314.92" width="1.15" height="1.15" fill="#3a68b8"/><rect x="548.19" y="365.26" width="1.15" height="1.15" fill="#3a68b8"/><rect x="551.02" y="313.40" width="1.15" height="1.15" fill="#3a68b8"/><rect x="551.02" y="362.03" width="1.15" height="1.15" fill="#3a68b8"/><rect x="553.84" y="307.33" width="1.15" height="1.15" fill="#3a68b8"/><rect x="553.84" y="361.39" width="1.15" height="1.15" fill="#3a68b8"/><rect x="556.67" y="310.12" width="1.15" height="1.15" fill="#3a68b8"/><rect x="556.67" y="360.53" width="1.15" height="1.15" fill="#3a68b8"/><rect x="559.49" y="306.26" width="1.15" height="1.15" fill="#3a68b8"/><rect x="559.49" y="360.53" width="1.15" height="1.15" fill="#3a68b8"/><rect x="562.32" y="305.83" width="1.15" height="1.15" fill="#3a68b8"/><rect x="562.32" y="359.46" width="1.15" height="1.15" fill="#3a68b8"/><rect x="565.15" y="305.18" width="1.15" height="1.15" fill="#3a68b8"/><rect x="565.15" y="358.39" width="1.15" height="1.15" fill="#3a68b8"/><rect x="567.97" y="305.18" width="1.15" height="1.15" fill="#3a68b8"/><rect x="567.97" y="357.31" width="1.15" height="1.15" fill="#3a68b8"/><rect x="570.80" y="304.76" width="1.15" height="1.15" fill="#3a68b8"/><rect x="570.80" y="356.24" width="1.15" height="1.15" fill="#3a68b8"/><rect x="573.62" y="304.11" width="1.15" height="1.15" fill="#3a68b8"/><rect x="573.62" y="355.60" width="1.15" height="1.15" fill="#3a68b8"/><rect x="576.45" y="303.47" width="1.15" height="1.15" fill="#3a68b8"/><rect x="576.45" y="354.52" width="1.15" height="1.15" fill="#3a68b8"/><rect x="579.27" y="299.39" width="1.15" height="1.15" fill="#3a68b8"/><rect x="579.27" y="350.23" width="1.15" height="1.15" fill="#3a68b8"/><rect x="582.10" y="299.82" width="1.15" height="1.15" fill="#3a68b8"/><rect x="582.10" y="349.16" width="1.15" height="1.15" fill="#3a68b8"/><rect x="584.92" y="299.82" width="1.15" height="1.15" fill="#3a68b8"/><rect x="584.92" y="348.09" width="1.15" height="1.15" fill="#3a68b8"/><rect x="587.75" y="297.68" width="1.15" height="1.15" fill="#3a68b8"/><rect x="587.75" y="347.02" width="1.15" height="1.15" fill="#3a68b8"/><rect x="590.57" y="297.68" width="1.15" height="1.15" fill="#3a68b8"/><rect x="590.57" y="347.02" width="1.15" height="1.15" fill="#3a68b8"/><rect x="593.40" y="296.60" width="1.15" height="1.15" fill="#3a68b8"/><rect x="593.40" y="345.94" width="1.15" height="1.15" fill="#3a68b8"/><rect x="596.23" y="296.17" width="1.15" height="1.15" fill="#3a68b8"/><rect x="596.23" y="344.87" width="1.15" height="1.15" fill="#3a68b8"/><rect x="599.05" y="295.10" width="1.15" height="1.15" fill="#3a68b8"/><rect x="599.05" y="343.80" width="1.15" height="1.15" fill="#3a68b8"/><rect x="601.88" y="294.46" width="1.15" height="1.15" fill="#3a68b8"/><rect x="601.88" y="342.73" width="1.15" height="1.15" fill="#3a68b8"/><rect x="604.70" y="293.39" width="1.15" height="1.15" fill="#3a68b8"/><rect x="604.70" y="338.44" width="1.15" height="1.15" fill="#3a68b8"/><rect x="607.53" y="292.31" width="1.15" height="1.15" fill="#3a68b8"/><rect x="607.53" y="336.93" width="1.15" height="1.15" fill="#3a68b8"/><rect x="610.35" y="291.24" width="1.15" height="1.15" fill="#3a68b8"/><rect x="610.35" y="335.86" width="1.15" height="1.15" fill="#3a68b8"/><rect x="613.18" y="291.24" width="1.15" height="1.15" fill="#3a68b8"/><rect x="613.18" y="335.65" width="1.15" height="1.15" fill="#3a68b8"/><rect x="616.00" y="290.17" width="1.15" height="1.15" fill="#3a68b8"/><rect x="616.00" y="334.79" width="1.15" height="1.15" fill="#3a68b8"/><rect x="618.83" y="288.45" width="1.15" height="1.15" fill="#3a68b8"/><rect x="618.83" y="334.79" width="1.15" height="1.15" fill="#3a68b8"/><rect x="621.65" y="288.45" width="1.15" height="1.15" fill="#3a68b8"/><rect x="621.65" y="333.72" width="1.15" height="1.15" fill="#3a68b8"/><rect x="624.48" y="287.59" width="1.15" height="1.15" fill="#3a68b8"/><rect x="624.48" y="332.64" width="1.15" height="1.15" fill="#3a68b8"/><rect x="627.31" y="286.52" width="1.15" height="1.15" fill="#3a68b8"/><rect x="627.31" y="332.00" width="1.15" height="1.15" fill="#3a68b8"/><rect x="630.13" y="285.88" width="1.15" height="1.15" fill="#3a68b8"/><rect x="630.13" y="332.00" width="1.15" height="1.15" fill="#3a68b8"/><rect x="632.96" y="284.80" width="1.15" height="1.15" fill="#3a68b8"/><rect x="632.96" y="326.21" width="1.15" height="1.15" fill="#3a68b8"/><rect x="635.78" y="283.73" width="1.15" height="1.15" fill="#3a68b8"/><rect x="635.78" y="325.56" width="1.15" height="1.15" fill="#3a68b8"/><rect x="638.61" y="283.73" width="1.15" height="1.15" fill="#3a68b8"/><rect x="638.61" y="325.56" width="1.15" height="1.15" fill="#3a68b8"/><rect x="641.43" y="282.66" width="1.15" height="1.15" fill="#3a68b8"/><rect x="641.43" y="324.92" width="1.15" height="1.15" fill="#3a68b8"/><rect x="644.26" y="281.59" width="1.15" height="1.15" fill="#3a68b8"/><rect x="644.26" y="324.92" width="1.15" height="1.15" fill="#3a68b8"/><rect x="647.08" y="280.94" width="1.15" height="1.15" fill="#3a68b8"/><rect x="647.08" y="322.99" width="1.15" height="1.15" fill="#3a68b8"/><rect x="649.91" y="280.09" width="1.15" height="1.15" fill="#3a68b8"/><rect x="649.91" y="322.99" width="1.15" height="1.15" fill="#3a68b8"/><rect x="652.73" y="279.44" width="1.15" height="1.15" fill="#3a68b8"/><rect x="652.73" y="324.06" width="1.15" height="1.15" fill="#3a68b8"/><rect x="655.56" y="278.58" width="1.15" height="1.15" fill="#3a68b8"/><rect x="655.56" y="322.99" width="1.15" height="1.15" fill="#3a68b8"/><rect x="658.39" y="278.58" width="1.15" height="1.15" fill="#3a68b8"/><rect x="658.39" y="322.78" width="1.15" height="1.15" fill="#3a68b8"/><rect x="661.21" y="277.73" width="1.15" height="1.15" fill="#3a68b8"/><rect x="661.21" y="322.78" width="1.15" height="1.15" fill="#3a68b8"/><circle cx="427.27" cy="384.11" r="1.4" fill="none" stroke="#3769c3" stroke-width="1.15"/><circle cx="430.10" cy="384.11" r="1.4" fill="none" stroke="#3769c3" stroke-width="1.15"/><circle cx="432.93" cy="384.11" r="1.4" fill="none" stroke="#3769c3" stroke-width="1.15"/><circle cx="435.75" cy="384.11" r="1.4" fill="none" stroke="#3769c3" stroke-width="1.15"/><circle cx="438.58" cy="384.11" r="1.4" fill="none" stroke="#3769c3" stroke-width="1.15"/><circle cx="441.40" cy="384.11" r="1.4" fill="none" stroke="#3769c3" stroke-width="1.15"/><circle cx="444.23" cy="384.11" r="1.4" fill="none" stroke="#3769c3" stroke-width="1.15"/><circle cx="447.05" cy="384.11" r="1.4" fill="none" stroke="#3769c3" stroke-width="1.15"/><circle cx="449.88" cy="384.11" r="1.4" fill="none" stroke="#3769c3" stroke-width="1.15"/><circle cx="452.70" cy="383.59" r="1.4" fill="none" stroke="#3769c3" stroke-width="1.15"/><circle cx="455.53" cy="382.83" r="1.4" fill="none" stroke="#3769c3" stroke-width="1.15"/><circle cx="458.35" cy="378.72" r="1.4" fill="none" stroke="#3769c3" stroke-width="1.15"/><circle cx="461.18" cy="375.03" r="1.4" fill="none" stroke="#3769c3" stroke-width="1.15"/><circle cx="464.01" cy="368.82" r="1.4" fill="none" stroke="#3769c3" stroke-width="1.15"/><circle cx="466.83" cy="368.82" r="1.4" fill="none" stroke="#3769c3" stroke-width="1.15"/><circle cx="469.66" cy="363.25" r="1.4" fill="none" stroke="#3769c3" stroke-width="1.15"/><circle cx="472.48" cy="363.25" r="1.4" fill="none" stroke="#3769c3" stroke-width="1.15"/><circle cx="475.31" cy="370.11" r="1.4" fill="none" stroke="#3769c3" stroke-width="1.15"/><circle cx="478.13" cy="371.81" r="1.4" fill="none" stroke="#3769c3" stroke-width="1.15"/><circle cx="480.96" cy="371.81" r="1.4" fill="none" stroke="#3769c3" stroke-width="1.15"/><circle cx="483.78" cy="371.57" r="1.4" fill="none" stroke="#3769c3" stroke-width="1.15"/><circle cx="486.61" cy="371.16" r="1.4" fill="none" stroke="#3769c3" stroke-width="1.15"/><circle cx="489.43" cy="370.52" r="1.4" fill="none" stroke="#3769c3" stroke-width="1.15"/><circle cx="492.26" cy="368.64" r="1.4" fill="none" stroke="#3769c3" stroke-width="1.15"/><circle cx="495.08" cy="368.00" r="1.4" fill="none" stroke="#3769c3" stroke-width="1.15"/><circle cx="497.91" cy="362.20" r="1.4" fill="none" stroke="#3769c3" stroke-width="1.15"/><circle cx="500.74" cy="357.69" r="1.4" fill="none" stroke="#3769c3" stroke-width="1.15"/><circle cx="503.56" cy="355.75" r="1.4" fill="none" stroke="#3769c3" stroke-width="1.15"/><circle cx="506.39" cy="354.70" r="1.4" fill="none" stroke="#3769c3" stroke-width="1.15"/><circle cx="509.21" cy="353.41" r="1.4" fill="none" stroke="#3769c3" stroke-width="1.15"/><circle cx="512.04" cy="355.52" r="1.4" fill="none" stroke="#3769c3" stroke-width="1.15"/><circle cx="514.86" cy="355.52" r="1.4" fill="none" stroke="#3769c3" stroke-width="1.15"/><circle cx="517.69" cy="355.75" r="1.4" fill="none" stroke="#3769c3" stroke-width="1.15"/><circle cx="520.51" cy="355.52" r="1.4" fill="none" stroke="#3769c3" stroke-width="1.15"/><circle cx="523.34" cy="351.88" r="1.4" fill="none" stroke="#3769c3" stroke-width="1.15"/><circle cx="526.16" cy="351.24" r="1.4" fill="none" stroke="#3769c3" stroke-width="1.15"/><circle cx="528.99" cy="349.72" r="1.4" fill="none" stroke="#3769c3" stroke-width="1.15"/><circle cx="531.82" cy="348.72" r="1.4" fill="none" stroke="#3769c3" stroke-width="1.15"/><circle cx="534.64" cy="347.20" r="1.4" fill="none" stroke="#3769c3" stroke-width="1.15"/><circle cx="537.47" cy="346.96" r="1.4" fill="none" stroke="#3769c3" stroke-width="1.15"/><circle cx="540.29" cy="345.91" r="1.4" fill="none" stroke="#3769c3" stroke-width="1.15"/><circle cx="543.12" cy="344.44" r="1.4" fill="none" stroke="#3769c3" stroke-width="1.15"/><circle cx="545.94" cy="342.68" r="1.4" fill="none" stroke="#3769c3" stroke-width="1.15"/><circle cx="548.77" cy="341.86" r="1.4" fill="none" stroke="#3769c3" stroke-width="1.15"/><circle cx="551.59" cy="338.99" r="1.4" fill="none" stroke="#3769c3" stroke-width="1.15"/><circle cx="554.42" cy="335.79" r="1.4" fill="none" stroke="#3769c3" stroke-width="1.15"/><circle cx="557.24" cy="334.72" r="1.4" fill="none" stroke="#3769c3" stroke-width="1.15"/><circle cx="560.07" cy="334.72" r="1.4" fill="none" stroke="#3769c3" stroke-width="1.15"/><circle cx="562.90" cy="333.65" r="1.4" fill="none" stroke="#3769c3" stroke-width="1.15"/><circle cx="565.72" cy="332.57" r="1.4" fill="none" stroke="#3769c3" stroke-width="1.15"/><circle cx="568.55" cy="331.93" r="1.4" fill="none" stroke="#3769c3" stroke-width="1.15"/><circle cx="571.37" cy="331.07" r="1.4" fill="none" stroke="#3769c3" stroke-width="1.15"/><circle cx="574.20" cy="330.43" r="1.4" fill="none" stroke="#3769c3" stroke-width="1.15"/><circle cx="577.02" cy="329.36" r="1.4" fill="none" stroke="#3769c3" stroke-width="1.15"/><circle cx="579.85" cy="326.14" r="1.4" fill="none" stroke="#3769c3" stroke-width="1.15"/><circle cx="582.67" cy="325.07" r="1.4" fill="none" stroke="#3769c3" stroke-width="1.15"/><circle cx="585.50" cy="323.99" r="1.4" fill="none" stroke="#3769c3" stroke-width="1.15"/><circle cx="588.32" cy="322.49" r="1.4" fill="none" stroke="#3769c3" stroke-width="1.15"/><circle cx="591.15" cy="322.49" r="1.4" fill="none" stroke="#3769c3" stroke-width="1.15"/><circle cx="593.98" cy="321.42" r="1.4" fill="none" stroke="#3769c3" stroke-width="1.15"/><circle cx="596.80" cy="320.35" r="1.4" fill="none" stroke="#3769c3" stroke-width="1.15"/><circle cx="599.63" cy="319.70" r="1.4" fill="none" stroke="#3769c3" stroke-width="1.15"/><circle cx="602.45" cy="318.63" r="1.4" fill="none" stroke="#3769c3" stroke-width="1.15"/><circle cx="605.28" cy="315.84" r="1.4" fill="none" stroke="#3769c3" stroke-width="1.15"/><circle cx="608.10" cy="314.34" r="1.4" fill="none" stroke="#3769c3" stroke-width="1.15"/><circle cx="610.93" cy="313.27" r="1.4" fill="none" stroke="#3769c3" stroke-width="1.15"/><circle cx="613.75" cy="312.62" r="1.4" fill="none" stroke="#3769c3" stroke-width="1.15"/><circle cx="616.58" cy="311.77" r="1.4" fill="none" stroke="#3769c3" stroke-width="1.15"/><circle cx="619.40" cy="311.77" r="1.4" fill="none" stroke="#3769c3" stroke-width="1.15"/><circle cx="622.23" cy="310.69" r="1.4" fill="none" stroke="#3769c3" stroke-width="1.15"/><circle cx="625.05" cy="310.05" r="1.4" fill="none" stroke="#3769c3" stroke-width="1.15"/><circle cx="627.88" cy="309.41" r="1.4" fill="none" stroke="#3769c3" stroke-width="1.15"/><circle cx="630.71" cy="308.98" r="1.4" fill="none" stroke="#3769c3" stroke-width="1.15"/><circle cx="633.53" cy="306.40" r="1.4" fill="none" stroke="#3769c3" stroke-width="1.15"/><circle cx="636.36" cy="305.33" r="1.4" fill="none" stroke="#3769c3" stroke-width="1.15"/><circle cx="639.18" cy="304.69" r="1.4" fill="none" stroke="#3769c3" stroke-width="1.15"/><circle cx="642.01" cy="304.04" r="1.4" fill="none" stroke="#3769c3" stroke-width="1.15"/><circle cx="644.83" cy="304.04" r="1.4" fill="none" stroke="#3769c3" stroke-width="1.15"/><circle cx="647.66" cy="303.61" r="1.4" fill="none" stroke="#3769c3" stroke-width="1.15"/><circle cx="650.48" cy="302.97" r="1.4" fill="none" stroke="#3769c3" stroke-width="1.15"/><circle cx="653.31" cy="302.54" r="1.4" fill="none" stroke="#3769c3" stroke-width="1.15"/><circle cx="656.13" cy="301.90" r="1.4" fill="none" stroke="#3769c3" stroke-width="1.15"/><circle cx="658.96" cy="301.04" r="1.4" fill="none" stroke="#3769c3" stroke-width="1.15"/><circle cx="661.79" cy="300.40" r="1.4" fill="none" stroke="#3769c3" stroke-width="1.15"/><rect x="425.2" y="267" width="250.8" height="128.60000000000002" fill="none" stroke="#1a1a1a" stroke-width="1.3"/><rect x="424.50" y="394.80" width="1.4" height="1.6" fill="#1d3060"/><rect x="425.93" y="394.80" width="1.4" height="1.6" fill="#1d3060"/><rect x="427.36" y="394.80" width="1.4" height="1.6" fill="#1d3060"/><rect x="428.79" y="394.80" width="1.4" height="1.6" fill="#1d3060"/><rect x="430.22" y="394.80" width="1.4" height="1.6" fill="#1d3060"/><rect x="431.65" y="394.80" width="1.4" height="1.6" fill="#1d3060"/><rect x="433.08" y="394.80" width="1.4" height="1.6" fill="#1d3060"/><rect x="434.51" y="394.80" width="1.4" height="1.6" fill="#1d3060"/><rect x="435.94" y="394.80" width="1.4" height="1.6" fill="#1d3060"/><rect x="437.38" y="394.80" width="1.4" height="1.6" fill="#1d3060"/><rect x="438.81" y="394.80" width="1.4" height="1.6" fill="#1d3060"/><rect x="440.24" y="394.80" width="1.4" height="1.6" fill="#1d3060"/><rect x="441.67" y="394.80" width="1.4" height="1.6" fill="#1d3060"/><rect x="443.10" y="394.80" width="1.4" height="1.6" fill="#1d3060"/><rect x="444.53" y="394.80" width="1.4" height="1.6" fill="#1d3060"/><rect x="445.96" y="394.80" width="1.4" height="1.6" fill="#1d3060"/><rect x="447.39" y="394.80" width="1.4" height="1.6" fill="#1d3060"/><rect x="448.82" y="394.80" width="1.4" height="1.6" fill="#1d3060"/><rect x="450.25" y="394.80" width="1.4" height="1.6" fill="#1d3060"/><rect x="451.68" y="394.80" width="1.4" height="1.6" fill="#1d3060"/><rect x="453.11" y="394.80" width="1.4" height="1.6" fill="#1d3060"/><rect x="454.54" y="394.80" width="1.4" height="1.6" fill="#1d3060"/><rect x="455.97" y="394.80" width="1.4" height="1.6" fill="#1d3060"/><rect x="457.40" y="394.80" width="1.4" height="1.6" fill="#1d3060"/><rect x="458.83" y="394.80" width="1.4" height="1.6" fill="#1d3060"/><rect x="460.26" y="394.80" width="1.4" height="1.6" fill="#1d3060"/><rect x="461.70" y="394.80" width="1.4" height="1.6" fill="#1d3060"/><rect x="463.13" y="394.80" width="1.4" height="1.6" fill="#1d3060"/><rect x="464.56" y="394.80" width="1.4" height="1.6" fill="#1d3060"/><rect x="465.99" y="394.80" width="1.4" height="1.6" fill="#1d3060"/><rect x="467.42" y="394.80" width="1.4" height="1.6" fill="#1d3060"/><rect x="468.85" y="394.80" width="1.4" height="1.6" fill="#1d3060"/><rect x="470.28" y="394.80" width="1.4" height="1.6" fill="#1d3060"/><rect x="471.71" y="394.80" width="1.4" height="1.6" fill="#1d3060"/><rect x="473.14" y="394.80" width="1.4" height="1.6" fill="#1d3060"/><rect x="474.57" y="394.80" width="1.4" height="1.6" fill="#1d3060"/><rect x="476.00" y="394.80" width="1.4" height="1.6" fill="#1d3060"/><rect x="477.43" y="394.80" width="1.4" height="1.6" fill="#1d3060"/><rect x="478.86" y="394.80" width="1.4" height="1.6" fill="#1d3060"/><rect x="480.29" y="394.80" width="1.4" height="1.6" fill="#1d3060"/><rect x="481.72" y="394.80" width="1.4" height="1.6" fill="#1d3060"/><rect x="483.15" y="394.80" width="1.4" height="1.6" fill="#1d3060"/><rect x="484.59" y="394.80" width="1.4" height="1.6" fill="#1d3060"/><rect x="486.02" y="394.80" width="1.4" height="1.6" fill="#1d3060"/><rect x="487.45" y="394.80" width="1.4" height="1.6" fill="#1d3060"/><rect x="488.88" y="394.80" width="1.4" height="1.6" fill="#1d3060"/><rect x="490.31" y="394.80" width="1.4" height="1.6" fill="#1d3060"/><rect x="491.74" y="394.80" width="1.4" height="1.6" fill="#1d3060"/><rect x="493.17" y="394.80" width="1.4" height="1.6" fill="#1d3060"/><rect x="494.60" y="394.80" width="1.4" height="1.6" fill="#1d3060"/><rect x="496.03" y="394.80" width="1.4" height="1.6" fill="#1d3060"/><line x1="425.20" y1="395.6" x2="425.20" y2="392.40000000000003" stroke="#1a1a1a" stroke-width="1.3"/><line x1="425.20" y1="267" x2="425.20" y2="270.2" stroke="#1a1a1a" stroke-width="1.3"/><text x="424.40" y="407.60" text-anchor="middle" style="font-family:'Liberation Sans',Arial,sans-serif;font-size:10.9px" fill="#222">0</text><line x1="460.96" y1="395.6" x2="460.96" y2="392.40000000000003" stroke="#1a1a1a" stroke-width="1.3"/><line x1="460.96" y1="267" x2="460.96" y2="270.2" stroke="#1a1a1a" stroke-width="1.3"/><text x="459.20" y="407.60" text-anchor="middle" style="font-family:'Liberation Sans',Arial,sans-serif;font-size:10.9px" fill="#222">5</text><line x1="496.73" y1="395.6" x2="496.73" y2="392.40000000000003" stroke="#1a1a1a" stroke-width="1.3"/><line x1="496.73" y1="267" x2="496.73" y2="270.2" stroke="#1a1a1a" stroke-width="1.3"/><text x="497.30" y="407.60" text-anchor="middle" style="font-family:'Liberation Sans',Arial,sans-serif;font-size:10.9px" fill="#222">10</text><line x1="532.50" y1="395.6" x2="532.50" y2="392.40000000000003" stroke="#1a1a1a" stroke-width="1.3"/><line x1="532.50" y1="267" x2="532.50" y2="270.2" stroke="#1a1a1a" stroke-width="1.3"/><text x="533.30" y="407.60" text-anchor="middle" style="font-family:'Liberation Sans',Arial,sans-serif;font-size:10.9px" fill="#222">15</text><line x1="568.26" y1="395.6" x2="568.26" y2="392.40000000000003" stroke="#1a1a1a" stroke-width="1.3"/><line x1="568.26" y1="267" x2="568.26" y2="270.2" stroke="#1a1a1a" stroke-width="1.3"/><text x="570.90" y="407.60" text-anchor="middle" style="font-family:'Liberation Sans',Arial,sans-serif;font-size:10.9px" fill="#222">20</text><line x1="604.02" y1="395.6" x2="604.02" y2="392.40000000000003" stroke="#1a1a1a" stroke-width="1.3"/><line x1="604.02" y1="267" x2="604.02" y2="270.2" stroke="#1a1a1a" stroke-width="1.3"/><text x="607.50" y="407.60" text-anchor="middle" style="font-family:'Liberation Sans',Arial,sans-serif;font-size:10.9px" fill="#222">25</text><line x1="639.79" y1="395.6" x2="639.79" y2="392.40000000000003" stroke="#1a1a1a" stroke-width="1.3"/><line x1="639.79" y1="267" x2="639.79" y2="270.2" stroke="#1a1a1a" stroke-width="1.3"/><text x="642.00" y="407.60" text-anchor="middle" style="font-family:'Liberation Sans',Arial,sans-serif;font-size:10.9px" fill="#222">30</text><line x1="425.2" y1="395.60" x2="428.4" y2="395.60" stroke="#1a1a1a" stroke-width="1.3"/><line x1="676" y1="395.60" x2="672.8" y2="395.60" stroke="#1a1a1a" stroke-width="1.3"/><text x="422.30" y="399.10" text-anchor="end" style="font-family:'Liberation Sans',Arial,sans-serif;font-size:11px" fill="#222">0</text><line x1="425.2" y1="383.88" x2="428.4" y2="383.88" stroke="#1a1a1a" stroke-width="1.3"/><line x1="676" y1="383.88" x2="672.8" y2="383.88" stroke="#1a1a1a" stroke-width="1.3"/><text x="422.30" y="387.38" text-anchor="end" style="font-family:'Liberation Sans',Arial,sans-serif;font-size:11px" fill="#222">0.2</text><line x1="425.2" y1="372.16" x2="428.4" y2="372.16" stroke="#1a1a1a" stroke-width="1.3"/><line x1="676" y1="372.16" x2="672.8" y2="372.16" stroke="#1a1a1a" stroke-width="1.3"/><text x="422.30" y="375.66" text-anchor="end" style="font-family:'Liberation Sans',Arial,sans-serif;font-size:11px" fill="#222">0.4</text><line x1="425.2" y1="360.44" x2="428.4" y2="360.44" stroke="#1a1a1a" stroke-width="1.3"/><line x1="676" y1="360.44" x2="672.8" y2="360.44" stroke="#1a1a1a" stroke-width="1.3"/><text x="422.30" y="363.94" text-anchor="end" style="font-family:'Liberation Sans',Arial,sans-serif;font-size:11px" fill="#222">0.6</text><line x1="425.2" y1="348.72" x2="428.4" y2="348.72" stroke="#1a1a1a" stroke-width="1.3"/><line x1="676" y1="348.72" x2="672.8" y2="348.72" stroke="#1a1a1a" stroke-width="1.3"/><text x="422.30" y="352.22" text-anchor="end" style="font-family:'Liberation Sans',Arial,sans-serif;font-size:11px" fill="#222">0.8</text><line x1="425.2" y1="337.00" x2="428.4" y2="337.00" stroke="#1a1a1a" stroke-width="1.3"/><line x1="676" y1="337.00" x2="672.8" y2="337.00" stroke="#1a1a1a" stroke-width="1.3"/><text x="422.30" y="340.50" text-anchor="end" style="font-family:'Liberation Sans',Arial,sans-serif;font-size:11px" fill="#222">1.0</text><line x1="425.2" y1="325.28" x2="428.4" y2="325.28" stroke="#1a1a1a" stroke-width="1.3"/><line x1="676" y1="325.28" x2="672.8" y2="325.28" stroke="#1a1a1a" stroke-width="1.3"/><text x="422.30" y="328.78" text-anchor="end" style="font-family:'Liberation Sans',Arial,sans-serif;font-size:11px" fill="#222">1.2</text><line x1="425.2" y1="313.56" x2="428.4" y2="313.56" stroke="#1a1a1a" stroke-width="1.3"/><line x1="676" y1="313.56" x2="672.8" y2="313.56" stroke="#1a1a1a" stroke-width="1.3"/><text x="422.30" y="317.06" text-anchor="end" style="font-family:'Liberation Sans',Arial,sans-serif;font-size:11px" fill="#222">1.4</text><line x1="425.2" y1="301.84" x2="428.4" y2="301.84" stroke="#1a1a1a" stroke-width="1.3"/><line x1="676" y1="301.84" x2="672.8" y2="301.84" stroke="#1a1a1a" stroke-width="1.3"/><text x="422.30" y="305.34" text-anchor="end" style="font-family:'Liberation Sans',Arial,sans-serif;font-size:11px" fill="#222">1.6</text><line x1="425.2" y1="290.12" x2="428.4" y2="290.12" stroke="#1a1a1a" stroke-width="1.3"/><line x1="676" y1="290.12" x2="672.8" y2="290.12" stroke="#1a1a1a" stroke-width="1.3"/><text x="422.30" y="293.62" text-anchor="end" style="font-family:'Liberation Sans',Arial,sans-serif;font-size:11px" fill="#222">1.8</text><line x1="425.2" y1="278.40" x2="428.4" y2="278.40" stroke="#1a1a1a" stroke-width="1.3"/><line x1="676" y1="278.40" x2="672.8" y2="278.40" stroke="#1a1a1a" stroke-width="1.3"/><text x="422.30" y="281.90" text-anchor="end" style="font-family:'Liberation Sans',Arial,sans-serif;font-size:11px" fill="#222">2.0</text><text x="555.9" y="418.9" text-anchor="middle" style="font-family:'Liberation Sans',Arial,sans-serif;font-size:11.2px" fill="#222">Input angle [°]</text><text transform="translate(399.9,330.4) rotate(-90)" text-anchor="middle" style="font-family:'Liberation Sans',Arial,sans-serif;font-size:11.4px" fill="#222">Distance from the tip [mm]</text><circle cx="422.20" cy="259.70" r="2.1" fill="none" stroke="#3769c3" stroke-width="1.45"/><text x="426.4" y="263.3" style="font-family:'Liberation Sans',Arial,sans-serif;font-size:11.2px" fill="#222">Centroid positions</text><rect x="526.75" y="258.65" width="1.9" height="1.9" fill="#3a68b8"/><text x="534.1" y="263.3" style="font-family:'Liberation Sans',Arial,sans-serif;font-size:11.2px" fill="#222">FWHM boundaries</text>
<text x="384.3" y="246.6" style="font-family:'Liberation Sans',Arial,sans-serif;font-weight:bold;font-size:16px" fill="#111">f</text>
<rect x="427" y="467.6" width="250.29999999999995" height="124.5" fill="#fff"/><line x1="462.80" y1="467.6" x2="462.80" y2="592.1" stroke="#d6d6d6" stroke-width="1"/><line x1="498.60" y1="467.6" x2="498.60" y2="592.1" stroke="#d6d6d6" stroke-width="1"/><line x1="534.40" y1="467.6" x2="534.40" y2="592.1" stroke="#d6d6d6" stroke-width="1"/><line x1="570.20" y1="467.6" x2="570.20" y2="592.1" stroke="#d6d6d6" stroke-width="1"/><line x1="606.00" y1="467.6" x2="606.00" y2="592.1" stroke="#d6d6d6" stroke-width="1"/><line x1="641.80" y1="467.6" x2="641.80" y2="592.1" stroke="#d6d6d6" stroke-width="1"/><line x1="427" y1="580.74" x2="677.3" y2="580.74" stroke="#d6d6d6" stroke-width="1"/><line x1="427" y1="569.38" x2="677.3" y2="569.38" stroke="#d6d6d6" stroke-width="1"/><line x1="427" y1="558.02" x2="677.3" y2="558.02" stroke="#d6d6d6" stroke-width="1"/><line x1="427" y1="546.66" x2="677.3" y2="546.66" stroke="#d6d6d6" stroke-width="1"/><line x1="427" y1="535.30" x2="677.3" y2="535.30" stroke="#d6d6d6" stroke-width="1"/><line x1="427" y1="523.94" x2="677.3" y2="523.94" stroke="#d6d6d6" stroke-width="1"/><line x1="427" y1="512.58" x2="677.3" y2="512.58" stroke="#d6d6d6" stroke-width="1"/><line x1="427" y1="501.22" x2="677.3" y2="501.22" stroke="#d6d6d6" stroke-width="1"/><line x1="427" y1="489.86" x2="677.3" y2="489.86" stroke="#d6d6d6" stroke-width="1"/><line x1="427" y1="478.50" x2="677.3" y2="478.50" stroke="#d6d6d6" stroke-width="1"/><circle cx="428.43" cy="564.63" r="1.15" fill="#e8a828"/><circle cx="431.30" cy="566.01" r="1.15" fill="#e8a828"/><circle cx="434.16" cy="564.56" r="1.15" fill="#e8a828"/><circle cx="437.02" cy="563.30" r="1.15" fill="#e8a828"/><circle cx="439.89" cy="562.02" r="1.15" fill="#e8a828"/><circle cx="442.75" cy="561.53" r="1.15" fill="#e8a828"/><circle cx="445.62" cy="561.68" r="1.15" fill="#e8a828"/><circle cx="448.48" cy="564.06" r="1.15" fill="#e8a828"/><circle cx="451.34" cy="562.56" r="1.15" fill="#e8a828"/><circle cx="454.21" cy="561.37" r="1.15" fill="#e8a828"/><circle cx="457.07" cy="561.19" r="1.15" fill="#e8a828"/><circle cx="459.94" cy="561.08" r="1.15" fill="#e8a828"/><circle cx="462.80" cy="560.16" r="1.15" fill="#e8a828"/><circle cx="465.66" cy="558.09" r="1.15" fill="#e8a828"/><circle cx="468.53" cy="557.81" r="1.15" fill="#e8a828"/><circle cx="471.39" cy="557.78" r="1.15" fill="#e8a828"/><circle cx="474.26" cy="556.13" r="1.15" fill="#e8a828"/><circle cx="477.12" cy="555.71" r="1.15" fill="#e8a828"/><circle cx="479.98" cy="554.53" r="1.15" fill="#e8a828"/><circle cx="482.85" cy="553.53" r="1.15" fill="#e8a828"/><circle cx="485.71" cy="552.70" r="1.15" fill="#e8a828"/><circle cx="488.58" cy="551.19" r="1.15" fill="#e8a828"/><circle cx="491.44" cy="547.14" r="1.15" fill="#e8a828"/><circle cx="494.30" cy="543.38" r="1.15" fill="#e8a828"/><circle cx="497.17" cy="540.37" r="1.15" fill="#e8a828"/><rect x="496.02" y="590.95" width="2.30" height="2.30" fill="#e8a828"/><circle cx="500.03" cy="538.79" r="1.15" fill="#e8a828"/><circle cx="500.03" cy="589.89" r="1.15" fill="#e8a828"/><circle cx="502.90" cy="539.68" r="1.15" fill="#e8a828"/><circle cx="502.90" cy="588.51" r="1.15" fill="#e8a828"/><circle cx="505.76" cy="538.82" r="1.15" fill="#e8a828"/><circle cx="505.76" cy="587.07" r="1.15" fill="#e8a828"/><circle cx="508.62" cy="537.79" r="1.15" fill="#e8a828"/><circle cx="508.62" cy="585.07" r="1.15" fill="#e8a828"/><circle cx="511.49" cy="536.06" r="1.15" fill="#e8a828"/><circle cx="511.49" cy="583.24" r="1.15" fill="#e8a828"/><circle cx="514.35" cy="535.60" r="1.15" fill="#e8a828"/><circle cx="514.35" cy="582.57" r="1.15" fill="#e8a828"/><circle cx="517.22" cy="534.44" r="1.15" fill="#e8a828"/><circle cx="517.22" cy="581.11" r="1.15" fill="#e8a828"/><circle cx="520.08" cy="533.90" r="1.15" fill="#e8a828"/><circle cx="520.08" cy="578.64" r="1.15" fill="#e8a828"/><circle cx="522.94" cy="533.45" r="1.15" fill="#e8a828"/><circle cx="522.94" cy="577.54" r="1.15" fill="#e8a828"/><circle cx="525.81" cy="533.22" r="1.15" fill="#e8a828"/><circle cx="525.81" cy="578.38" r="1.15" fill="#e8a828"/><circle cx="528.67" cy="532.19" r="1.15" fill="#e8a828"/><circle cx="528.67" cy="576.47" r="1.15" fill="#e8a828"/><circle cx="531.54" cy="531.59" r="1.15" fill="#e8a828"/><circle cx="531.54" cy="575.15" r="1.15" fill="#e8a828"/><circle cx="534.40" cy="530.80" r="1.15" fill="#e8a828"/><circle cx="534.40" cy="574.86" r="1.15" fill="#e8a828"/><circle cx="537.26" cy="529.18" r="1.15" fill="#e8a828"/><circle cx="537.26" cy="574.97" r="1.15" fill="#e8a828"/><circle cx="540.13" cy="528.87" r="1.15" fill="#e8a828"/><circle cx="540.13" cy="573.59" r="1.15" fill="#e8a828"/><circle cx="542.99" cy="526.25" r="1.15" fill="#e8a828"/><circle cx="542.99" cy="573.14" r="1.15" fill="#e8a828"/><circle cx="545.86" cy="524.18" r="1.15" fill="#e8a828"/><circle cx="545.86" cy="573.20" r="1.15" fill="#e8a828"/><circle cx="548.72" cy="523.14" r="1.15" fill="#e8a828"/><circle cx="548.72" cy="573.99" r="1.15" fill="#e8a828"/><circle cx="551.58" cy="520.16" r="1.15" fill="#e8a828"/><circle cx="551.58" cy="573.03" r="1.15" fill="#e8a828"/><circle cx="554.45" cy="519.14" r="1.15" fill="#e8a828"/><circle cx="554.45" cy="570.97" r="1.15" fill="#e8a828"/><circle cx="557.31" cy="516.98" r="1.15" fill="#e8a828"/><circle cx="557.31" cy="569.42" r="1.15" fill="#e8a828"/><circle cx="560.18" cy="515.34" r="1.15" fill="#e8a828"/><circle cx="560.18" cy="567.47" r="1.15" fill="#e8a828"/><circle cx="563.04" cy="514.62" r="1.15" fill="#e8a828"/><circle cx="563.04" cy="566.14" r="1.15" fill="#e8a828"/><circle cx="565.90" cy="513.19" r="1.15" fill="#e8a828"/><circle cx="565.90" cy="564.61" r="1.15" fill="#e8a828"/><circle cx="568.77" cy="512.56" r="1.15" fill="#e8a828"/><circle cx="568.77" cy="562.49" r="1.15" fill="#e8a828"/><circle cx="571.63" cy="511.37" r="1.15" fill="#e8a828"/><circle cx="571.63" cy="561.83" r="1.15" fill="#e8a828"/><circle cx="574.50" cy="511.71" r="1.15" fill="#e8a828"/><circle cx="574.50" cy="561.14" r="1.15" fill="#e8a828"/><circle cx="577.36" cy="510.20" r="1.15" fill="#e8a828"/><circle cx="577.36" cy="559.97" r="1.15" fill="#e8a828"/><circle cx="580.22" cy="510.40" r="1.15" fill="#e8a828"/><circle cx="580.22" cy="559.80" r="1.15" fill="#e8a828"/><circle cx="583.09" cy="502.22" r="1.15" fill="#e8a828"/><circle cx="583.09" cy="559.08" r="1.15" fill="#e8a828"/><circle cx="585.95" cy="499.90" r="1.15" fill="#e8a828"/><circle cx="585.95" cy="558.27" r="1.15" fill="#e8a828"/><circle cx="588.82" cy="498.86" r="1.15" fill="#e8a828"/><circle cx="588.82" cy="558.04" r="1.15" fill="#e8a828"/><circle cx="591.68" cy="499.26" r="1.15" fill="#e8a828"/><circle cx="591.68" cy="557.32" r="1.15" fill="#e8a828"/><circle cx="594.54" cy="497.50" r="1.15" fill="#e8a828"/><circle cx="594.54" cy="557.11" r="1.15" fill="#e8a828"/><circle cx="597.41" cy="497.41" r="1.15" fill="#e8a828"/><circle cx="597.41" cy="556.87" r="1.15" fill="#e8a828"/><circle cx="600.27" cy="496.41" r="1.15" fill="#e8a828"/><circle cx="600.27" cy="554.41" r="1.15" fill="#e8a828"/><circle cx="603.14" cy="495.50" r="1.15" fill="#e8a828"/><circle cx="603.14" cy="553.89" r="1.15" fill="#e8a828"/><circle cx="606.00" cy="495.25" r="1.15" fill="#e8a828"/><circle cx="606.00" cy="553.96" r="1.15" fill="#e8a828"/><circle cx="608.86" cy="494.21" r="1.15" fill="#e8a828"/><circle cx="608.86" cy="552.26" r="1.15" fill="#e8a828"/><circle cx="611.73" cy="492.77" r="1.15" fill="#e8a828"/><circle cx="611.73" cy="552.28" r="1.15" fill="#e8a828"/><circle cx="614.59" cy="492.77" r="1.15" fill="#e8a828"/><circle cx="614.59" cy="552.52" r="1.15" fill="#e8a828"/><circle cx="617.46" cy="491.71" r="1.15" fill="#e8a828"/><circle cx="617.46" cy="551.30" r="1.15" fill="#e8a828"/><circle cx="620.32" cy="491.01" r="1.15" fill="#e8a828"/><circle cx="620.32" cy="550.74" r="1.15" fill="#e8a828"/><circle cx="623.18" cy="490.57" r="1.15" fill="#e8a828"/><circle cx="623.18" cy="541.96" r="1.15" fill="#e8a828"/><circle cx="626.05" cy="490.86" r="1.15" fill="#e8a828"/><circle cx="626.05" cy="542.84" r="1.15" fill="#e8a828"/><circle cx="628.91" cy="490.61" r="1.15" fill="#e8a828"/><circle cx="628.91" cy="542.39" r="1.15" fill="#e8a828"/><circle cx="631.78" cy="490.28" r="1.15" fill="#e8a828"/><circle cx="631.78" cy="541.79" r="1.15" fill="#e8a828"/><circle cx="634.64" cy="490.19" r="1.15" fill="#e8a828"/><circle cx="634.64" cy="540.02" r="1.15" fill="#e8a828"/><circle cx="637.50" cy="490.48" r="1.15" fill="#e8a828"/><circle cx="637.50" cy="538.44" r="1.15" fill="#e8a828"/><circle cx="640.37" cy="489.53" r="1.15" fill="#e8a828"/><circle cx="640.37" cy="536.11" r="1.15" fill="#e8a828"/><circle cx="643.23" cy="490.32" r="1.15" fill="#e8a828"/><circle cx="643.23" cy="534.24" r="1.15" fill="#e8a828"/><circle cx="646.10" cy="490.01" r="1.15" fill="#e8a828"/><circle cx="646.10" cy="533.31" r="1.15" fill="#e8a828"/><circle cx="648.96" cy="489.78" r="1.15" fill="#e8a828"/><circle cx="648.96" cy="532.88" r="1.15" fill="#e8a828"/><circle cx="651.82" cy="488.50" r="1.15" fill="#e8a828"/><circle cx="651.82" cy="531.85" r="1.15" fill="#e8a828"/><circle cx="654.69" cy="488.84" r="1.15" fill="#e8a828"/><circle cx="654.69" cy="530.13" r="1.15" fill="#e8a828"/><circle cx="657.55" cy="488.85" r="1.15" fill="#e8a828"/><circle cx="657.55" cy="529.18" r="1.15" fill="#e8a828"/><circle cx="660.42" cy="488.66" r="1.15" fill="#e8a828"/><circle cx="660.42" cy="527.63" r="1.15" fill="#e8a828"/><circle cx="663.28" cy="487.69" r="1.15" fill="#e8a828"/><circle cx="663.28" cy="526.60" r="1.15" fill="#e8a828"/><circle cx="666.14" cy="488.09" r="1.15" fill="#e8a828"/><circle cx="666.14" cy="523.43" r="1.15" fill="#e8a828"/><circle cx="669.01" cy="487.93" r="1.15" fill="#e8a828"/><circle cx="669.01" cy="523.28" r="1.15" fill="#e8a828"/><circle cx="671.87" cy="486.81" r="1.15" fill="#e8a828"/><circle cx="671.87" cy="523.81" r="1.15" fill="#e8a828"/><circle cx="428.43" cy="579.57" r="1.5" fill="none" stroke="#e8a620" stroke-width="1.25"/><circle cx="431.30" cy="579.26" r="1.5" fill="none" stroke="#e8a620" stroke-width="1.25"/><circle cx="434.16" cy="579.89" r="1.5" fill="none" stroke="#e8a620" stroke-width="1.25"/><circle cx="437.02" cy="579.25" r="1.5" fill="none" stroke="#e8a620" stroke-width="1.25"/><circle cx="439.89" cy="579.00" r="1.5" fill="none" stroke="#e8a620" stroke-width="1.25"/><circle cx="442.75" cy="578.54" r="1.5" fill="none" stroke="#e8a620" stroke-width="1.25"/><circle cx="445.62" cy="578.50" r="1.5" fill="none" stroke="#e8a620" stroke-width="1.25"/><circle cx="448.48" cy="578.31" r="1.5" fill="none" stroke="#e8a620" stroke-width="1.25"/><circle cx="451.34" cy="578.05" r="1.5" fill="none" stroke="#e8a620" stroke-width="1.25"/><circle cx="454.21" cy="577.40" r="1.5" fill="none" stroke="#e8a620" stroke-width="1.25"/><circle cx="457.07" cy="577.11" r="1.5" fill="none" stroke="#e8a620" stroke-width="1.25"/><circle cx="459.94" cy="577.51" r="1.5" fill="none" stroke="#e8a620" stroke-width="1.25"/><circle cx="462.80" cy="577.02" r="1.5" fill="none" stroke="#e8a620" stroke-width="1.25"/><circle cx="465.66" cy="575.50" r="1.5" fill="none" stroke="#e8a620" stroke-width="1.25"/><circle cx="468.53" cy="575.63" r="1.5" fill="none" stroke="#e8a620" stroke-width="1.25"/><circle cx="471.39" cy="574.77" r="1.5" fill="none" stroke="#e8a620" stroke-width="1.25"/><circle cx="474.26" cy="573.80" r="1.5" fill="none" stroke="#e8a620" stroke-width="1.25"/><circle cx="477.12" cy="572.86" r="1.5" fill="none" stroke="#e8a620" stroke-width="1.25"/><circle cx="479.98" cy="571.90" r="1.5" fill="none" stroke="#e8a620" stroke-width="1.25"/><circle cx="482.85" cy="571.20" r="1.5" fill="none" stroke="#e8a620" stroke-width="1.25"/><circle cx="485.71" cy="570.43" r="1.5" fill="none" stroke="#e8a620" stroke-width="1.25"/><circle cx="488.58" cy="568.98" r="1.5" fill="none" stroke="#e8a620" stroke-width="1.25"/><circle cx="491.44" cy="567.90" r="1.5" fill="none" stroke="#e8a620" stroke-width="1.25"/><circle cx="494.30" cy="566.40" r="1.5" fill="none" stroke="#e8a620" stroke-width="1.25"/><circle cx="497.17" cy="565.71" r="1.5" fill="none" stroke="#e8a620" stroke-width="1.25"/><circle cx="500.03" cy="564.96" r="1.5" fill="none" stroke="#e8a620" stroke-width="1.25"/><circle cx="502.90" cy="563.85" r="1.5" fill="none" stroke="#e8a620" stroke-width="1.25"/><circle cx="505.76" cy="562.23" r="1.5" fill="none" stroke="#e8a620" stroke-width="1.25"/><circle cx="508.62" cy="561.78" r="1.5" fill="none" stroke="#e8a620" stroke-width="1.25"/><circle cx="511.49" cy="561.22" r="1.5" fill="none" stroke="#e8a620" stroke-width="1.25"/><circle cx="514.35" cy="559.97" r="1.5" fill="none" stroke="#e8a620" stroke-width="1.25"/><circle cx="517.22" cy="558.93" r="1.5" fill="none" stroke="#e8a620" stroke-width="1.25"/><circle cx="520.08" cy="557.75" r="1.5" fill="none" stroke="#e8a620" stroke-width="1.25"/><circle cx="522.94" cy="557.34" r="1.5" fill="none" stroke="#e8a620" stroke-width="1.25"/><circle cx="525.81" cy="556.05" r="1.5" fill="none" stroke="#e8a620" stroke-width="1.25"/><circle cx="528.67" cy="555.11" r="1.5" fill="none" stroke="#e8a620" stroke-width="1.25"/><circle cx="531.54" cy="554.54" r="1.5" fill="none" stroke="#e8a620" stroke-width="1.25"/><circle cx="534.40" cy="553.52" r="1.5" fill="none" stroke="#e8a620" stroke-width="1.25"/><circle cx="537.26" cy="551.83" r="1.5" fill="none" stroke="#e8a620" stroke-width="1.25"/><circle cx="540.13" cy="550.61" r="1.5" fill="none" stroke="#e8a620" stroke-width="1.25"/><circle cx="542.99" cy="549.56" r="1.5" fill="none" stroke="#e8a620" stroke-width="1.25"/><circle cx="545.86" cy="548.44" r="1.5" fill="none" stroke="#e8a620" stroke-width="1.25"/><circle cx="548.72" cy="547.02" r="1.5" fill="none" stroke="#e8a620" stroke-width="1.25"/><circle cx="551.58" cy="546.05" r="1.5" fill="none" stroke="#e8a620" stroke-width="1.25"/><circle cx="554.45" cy="544.76" r="1.5" fill="none" stroke="#e8a620" stroke-width="1.25"/><circle cx="557.31" cy="543.66" r="1.5" fill="none" stroke="#e8a620" stroke-width="1.25"/><circle cx="560.18" cy="542.19" r="1.5" fill="none" stroke="#e8a620" stroke-width="1.25"/><circle cx="563.04" cy="540.93" r="1.5" fill="none" stroke="#e8a620" stroke-width="1.25"/><circle cx="565.90" cy="539.00" r="1.5" fill="none" stroke="#e8a620" stroke-width="1.25"/><circle cx="568.77" cy="538.40" r="1.5" fill="none" stroke="#e8a620" stroke-width="1.25"/><circle cx="571.63" cy="536.79" r="1.5" fill="none" stroke="#e8a620" stroke-width="1.25"/><circle cx="574.50" cy="535.61" r="1.5" fill="none" stroke="#e8a620" stroke-width="1.25"/><circle cx="577.36" cy="534.91" r="1.5" fill="none" stroke="#e8a620" stroke-width="1.25"/><circle cx="580.22" cy="533.55" r="1.5" fill="none" stroke="#e8a620" stroke-width="1.25"/><circle cx="583.09" cy="533.26" r="1.5" fill="none" stroke="#e8a620" stroke-width="1.25"/><circle cx="585.95" cy="531.70" r="1.5" fill="none" stroke="#e8a620" stroke-width="1.25"/><circle cx="588.82" cy="530.47" r="1.5" fill="none" stroke="#e8a620" stroke-width="1.25"/><circle cx="591.68" cy="530.16" r="1.5" fill="none" stroke="#e8a620" stroke-width="1.25"/><circle cx="594.54" cy="528.90" r="1.5" fill="none" stroke="#e8a620" stroke-width="1.25"/><circle cx="597.41" cy="527.41" r="1.5" fill="none" stroke="#e8a620" stroke-width="1.25"/><circle cx="600.27" cy="526.72" r="1.5" fill="none" stroke="#e8a620" stroke-width="1.25"/><circle cx="603.14" cy="525.93" r="1.5" fill="none" stroke="#e8a620" stroke-width="1.25"/><circle cx="606.00" cy="524.78" r="1.5" fill="none" stroke="#e8a620" stroke-width="1.25"/><circle cx="608.86" cy="523.84" r="1.5" fill="none" stroke="#e8a620" stroke-width="1.25"/><circle cx="611.73" cy="522.56" r="1.5" fill="none" stroke="#e8a620" stroke-width="1.25"/><circle cx="614.59" cy="521.56" r="1.5" fill="none" stroke="#e8a620" stroke-width="1.25"/><circle cx="617.46" cy="520.60" r="1.5" fill="none" stroke="#e8a620" stroke-width="1.25"/><circle cx="620.32" cy="519.55" r="1.5" fill="none" stroke="#e8a620" stroke-width="1.25"/><circle cx="623.18" cy="518.27" r="1.5" fill="none" stroke="#e8a620" stroke-width="1.25"/><circle cx="626.05" cy="516.82" r="1.5" fill="none" stroke="#e8a620" stroke-width="1.25"/><circle cx="628.91" cy="515.77" r="1.5" fill="none" stroke="#e8a620" stroke-width="1.25"/><circle cx="631.78" cy="514.30" r="1.5" fill="none" stroke="#e8a620" stroke-width="1.25"/><circle cx="634.64" cy="513.07" r="1.5" fill="none" stroke="#e8a620" stroke-width="1.25"/><circle cx="637.50" cy="511.93" r="1.5" fill="none" stroke="#e8a620" stroke-width="1.25"/><circle cx="640.37" cy="510.39" r="1.5" fill="none" stroke="#e8a620" stroke-width="1.25"/><circle cx="643.23" cy="508.87" r="1.5" fill="none" stroke="#e8a620" stroke-width="1.25"/><circle cx="646.10" cy="508.40" r="1.5" fill="none" stroke="#e8a620" stroke-width="1.25"/><circle cx="648.96" cy="508.03" r="1.5" fill="none" stroke="#e8a620" stroke-width="1.25"/><circle cx="651.82" cy="507.60" r="1.5" fill="none" stroke="#e8a620" stroke-width="1.25"/><circle cx="654.69" cy="506.61" r="1.5" fill="none" stroke="#e8a620" stroke-width="1.25"/><circle cx="657.55" cy="506.18" r="1.5" fill="none" stroke="#e8a620" stroke-width="1.25"/><circle cx="660.42" cy="505.73" r="1.5" fill="none" stroke="#e8a620" stroke-width="1.25"/><circle cx="663.28" cy="505.27" r="1.5" fill="none" stroke="#e8a620" stroke-width="1.25"/><circle cx="666.14" cy="504.68" r="1.5" fill="none" stroke="#e8a620" stroke-width="1.25"/><circle cx="669.01" cy="504.22" r="1.5" fill="none" stroke="#e8a620" stroke-width="1.25"/><circle cx="671.87" cy="504.41" r="1.5" fill="none" stroke="#e8a620" stroke-width="1.25"/><rect x="427" y="467.6" width="250.29999999999995" height="124.5" fill="none" stroke="#1a1a1a" stroke-width="1.3"/><line x1="427.00" y1="592.1" x2="427.00" y2="588.9" stroke="#1a1a1a" stroke-width="1.3"/><line x1="427.00" y1="467.6" x2="427.00" y2="470.8" stroke="#1a1a1a" stroke-width="1.3"/><text x="428.00" y="604.10" text-anchor="middle" style="font-family:'Liberation Sans',Arial,sans-serif;font-size:10.9px" fill="#222">0</text><line x1="462.80" y1="592.1" x2="462.80" y2="588.9" stroke="#1a1a1a" stroke-width="1.3"/><line x1="462.80" y1="467.6" x2="462.80" y2="470.8" stroke="#1a1a1a" stroke-width="1.3"/><text x="462.70" y="604.10" text-anchor="middle" style="font-family:'Liberation Sans',Arial,sans-serif;font-size:10.9px" fill="#222">5</text><line x1="498.60" y1="592.1" x2="498.60" y2="588.9" stroke="#1a1a1a" stroke-width="1.3"/><line x1="498.60" y1="467.6" x2="498.60" y2="470.8" stroke="#1a1a1a" stroke-width="1.3"/><text x="500.50" y="604.10" text-anchor="middle" style="font-family:'Liberation Sans',Arial,sans-serif;font-size:10.9px" fill="#222">10</text><line x1="534.40" y1="592.1" x2="534.40" y2="588.9" stroke="#1a1a1a" stroke-width="1.3"/><line x1="534.40" y1="467.6" x2="534.40" y2="470.8" stroke="#1a1a1a" stroke-width="1.3"/><text x="537.00" y="604.10" text-anchor="middle" style="font-family:'Liberation Sans',Arial,sans-serif;font-size:10.9px" fill="#222">15</text><line x1="570.20" y1="592.1" x2="570.20" y2="588.9" stroke="#1a1a1a" stroke-width="1.3"/><line x1="570.20" y1="467.6" x2="570.20" y2="470.8" stroke="#1a1a1a" stroke-width="1.3"/><text x="574.60" y="604.10" text-anchor="middle" style="font-family:'Liberation Sans',Arial,sans-serif;font-size:10.9px" fill="#222">20</text><line x1="606.00" y1="592.1" x2="606.00" y2="588.9" stroke="#1a1a1a" stroke-width="1.3"/><line x1="606.00" y1="467.6" x2="606.00" y2="470.8" stroke="#1a1a1a" stroke-width="1.3"/><text x="611.20" y="604.10" text-anchor="middle" style="font-family:'Liberation Sans',Arial,sans-serif;font-size:10.9px" fill="#222">25</text><line x1="641.80" y1="592.1" x2="641.80" y2="588.9" stroke="#1a1a1a" stroke-width="1.3"/><line x1="641.80" y1="467.6" x2="641.80" y2="470.8" stroke="#1a1a1a" stroke-width="1.3"/><text x="645.90" y="604.10" text-anchor="middle" style="font-family:'Liberation Sans',Arial,sans-serif;font-size:10.9px" fill="#222">30</text><line x1="427" y1="592.10" x2="430.2" y2="592.10" stroke="#1a1a1a" stroke-width="1.3"/><line x1="677.3" y1="592.10" x2="674.0999999999999" y2="592.10" stroke="#1a1a1a" stroke-width="1.3"/><text x="424.10" y="595.60" text-anchor="end" style="font-family:'Liberation Sans',Arial,sans-serif;font-size:11px" fill="#222">0</text><line x1="427" y1="580.74" x2="430.2" y2="580.74" stroke="#1a1a1a" stroke-width="1.3"/><line x1="677.3" y1="580.74" x2="674.0999999999999" y2="580.74" stroke="#1a1a1a" stroke-width="1.3"/><text x="424.10" y="584.24" text-anchor="end" style="font-family:'Liberation Sans',Arial,sans-serif;font-size:11px" fill="#222">0.2</text><line x1="427" y1="569.38" x2="430.2" y2="569.38" stroke="#1a1a1a" stroke-width="1.3"/><line x1="677.3" y1="569.38" x2="674.0999999999999" y2="569.38" stroke="#1a1a1a" stroke-width="1.3"/><text x="424.10" y="572.88" text-anchor="end" style="font-family:'Liberation Sans',Arial,sans-serif;font-size:11px" fill="#222">0.4</text><line x1="427" y1="558.02" x2="430.2" y2="558.02" stroke="#1a1a1a" stroke-width="1.3"/><line x1="677.3" y1="558.02" x2="674.0999999999999" y2="558.02" stroke="#1a1a1a" stroke-width="1.3"/><text x="424.10" y="561.52" text-anchor="end" style="font-family:'Liberation Sans',Arial,sans-serif;font-size:11px" fill="#222">0.6</text><line x1="427" y1="546.66" x2="430.2" y2="546.66" stroke="#1a1a1a" stroke-width="1.3"/><line x1="677.3" y1="546.66" x2="674.0999999999999" y2="546.66" stroke="#1a1a1a" stroke-width="1.3"/><text x="424.10" y="550.16" text-anchor="end" style="font-family:'Liberation Sans',Arial,sans-serif;font-size:11px" fill="#222">0.8</text><line x1="427" y1="535.30" x2="430.2" y2="535.30" stroke="#1a1a1a" stroke-width="1.3"/><line x1="677.3" y1="535.30" x2="674.0999999999999" y2="535.30" stroke="#1a1a1a" stroke-width="1.3"/><text x="424.10" y="538.80" text-anchor="end" style="font-family:'Liberation Sans',Arial,sans-serif;font-size:11px" fill="#222">1.0</text><line x1="427" y1="523.94" x2="430.2" y2="523.94" stroke="#1a1a1a" stroke-width="1.3"/><line x1="677.3" y1="523.94" x2="674.0999999999999" y2="523.94" stroke="#1a1a1a" stroke-width="1.3"/><text x="424.10" y="527.44" text-anchor="end" style="font-family:'Liberation Sans',Arial,sans-serif;font-size:11px" fill="#222">1.2</text><line x1="427" y1="512.58" x2="430.2" y2="512.58" stroke="#1a1a1a" stroke-width="1.3"/><line x1="677.3" y1="512.58" x2="674.0999999999999" y2="512.58" stroke="#1a1a1a" stroke-width="1.3"/><text x="424.10" y="516.08" text-anchor="end" style="font-family:'Liberation Sans',Arial,sans-serif;font-size:11px" fill="#222">1.4</text><line x1="427" y1="501.22" x2="430.2" y2="501.22" stroke="#1a1a1a" stroke-width="1.3"/><line x1="677.3" y1="501.22" x2="674.0999999999999" y2="501.22" stroke="#1a1a1a" stroke-width="1.3"/><text x="424.10" y="504.72" text-anchor="end" style="font-family:'Liberation Sans',Arial,sans-serif;font-size:11px" fill="#222">1.6</text><line x1="427" y1="489.86" x2="430.2" y2="489.86" stroke="#1a1a1a" stroke-width="1.3"/><line x1="677.3" y1="489.86" x2="674.0999999999999" y2="489.86" stroke="#1a1a1a" stroke-width="1.3"/><text x="424.10" y="493.36" text-anchor="end" style="font-family:'Liberation Sans',Arial,sans-serif;font-size:11px" fill="#222">1.8</text><line x1="427" y1="478.50" x2="430.2" y2="478.50" stroke="#1a1a1a" stroke-width="1.3"/><line x1="677.3" y1="478.50" x2="674.0999999999999" y2="478.50" stroke="#1a1a1a" stroke-width="1.3"/><text x="424.10" y="482.00" text-anchor="end" style="font-family:'Liberation Sans',Arial,sans-serif;font-size:11px" fill="#222">2.0</text><text x="554.3" y="617.4" text-anchor="middle" style="font-family:'Liberation Sans',Arial,sans-serif;font-size:11.2px" fill="#222">Input angle [°]</text><text transform="translate(401.5,531.2) rotate(-90)" text-anchor="middle" style="font-family:'Liberation Sans',Arial,sans-serif;font-size:11.4px" fill="#222">Distance from the tip [mm]</text><circle cx="428.90" cy="458.30" r="2.1" fill="none" stroke="#e8a620" stroke-width="1.45"/><text x="433.1" y="461.9" style="font-family:'Liberation Sans',Arial,sans-serif;font-size:11.2px" fill="#222">Centroid positions</text><circle cx="535.50" cy="458.20" r="1.2" fill="#e8a828"/><text x="542.4" y="461.9" style="font-family:'Liberation Sans',Arial,sans-serif;font-size:11.2px" fill="#222">FWHM boundaries</text>
<text x="384.3" y="446.5" style="font-family:'Liberation Sans',Arial,sans-serif;font-weight:bold;font-size:16px" fill="#111">i</text>
</svg></body></html>
